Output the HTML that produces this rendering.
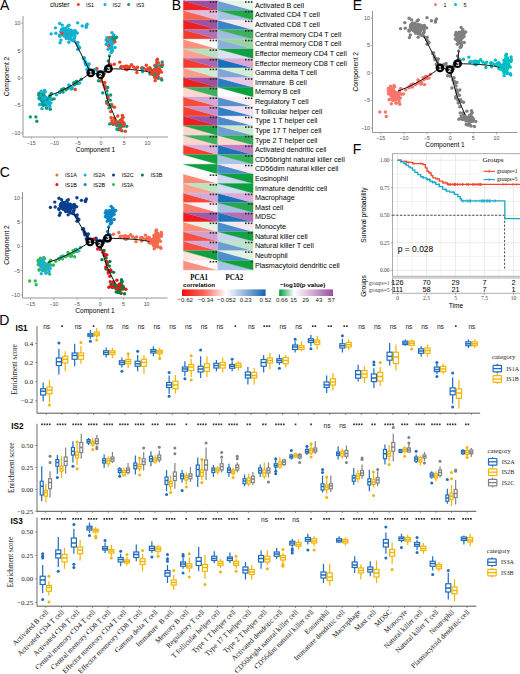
<!DOCTYPE html>
<html><head><meta charset="utf-8"><style>
html,body{margin:0;padding:0;background:#fff;}
svg{display:block;}

</style></head><body>
<svg width="520" height="674" viewBox="0 0 520 674">
<rect width="520" height="674" fill="#fff"/>
<text x="171.8" y="9.6" font-size="14" font-family="Liberation Sans, sans-serif">B</text><polygon points="183.40,0.80 183.40,10.42 217.80,10.42" fill="#EE2222" stroke="#EE2222" stroke-width="0.3"/><polygon points="183.40,0.80 217.80,0.80 217.80,10.42" fill="#9D4F9F" stroke="#9D4F9F" stroke-width="0.3"/><rect x="215.50" y="1.25" width="1.6" height="1.6" fill="#2a2a2a"/><rect x="212.60" y="1.25" width="1.6" height="1.6" fill="#2a2a2a"/><rect x="209.70" y="1.25" width="1.6" height="1.6" fill="#2a2a2a"/><polygon points="217.80,0.80 217.80,10.42 253.10,10.42" fill="#6A9FD2" stroke="#6A9FD2" stroke-width="0.3"/><polygon points="217.80,0.80 253.10,0.80 253.10,10.42" fill="#E6F3E6" stroke="#E6F3E6" stroke-width="0.3"/><rect x="250.80" y="1.25" width="1.6" height="1.6" fill="#2a2a2a"/><rect x="247.90" y="1.25" width="1.6" height="1.6" fill="#2a2a2a"/><rect x="245.00" y="1.25" width="1.6" height="1.6" fill="#2a2a2a"/><line x1="183.4" y1="10.42" x2="253.1" y2="10.42" stroke="#e8e8e8" stroke-width="0.4"/><text x="254.9" y="7.86" font-size="7.2" font-family="Liberation Sans, sans-serif">Activated B cell</text><polygon points="183.40,10.42 183.40,20.04 217.80,20.04" fill="#F8654F" stroke="#F8654F" stroke-width="0.3"/><polygon points="183.40,10.42 217.80,10.42 217.80,20.04" fill="#E2BADC" stroke="#E2BADC" stroke-width="0.3"/><rect x="215.50" y="10.87" width="1.6" height="1.6" fill="#2a2a2a"/><rect x="212.60" y="10.87" width="1.6" height="1.6" fill="#2a2a2a"/><rect x="209.70" y="10.87" width="1.6" height="1.6" fill="#2a2a2a"/><polygon points="217.80,10.42 217.80,20.04 253.10,20.04" fill="#A8C3E3" stroke="#A8C3E3" stroke-width="0.3"/><polygon points="217.80,10.42 253.10,10.42 253.10,20.04" fill="#22A84A" stroke="#22A84A" stroke-width="0.3"/><rect x="250.80" y="10.87" width="1.6" height="1.6" fill="#2a2a2a"/><rect x="247.90" y="10.87" width="1.6" height="1.6" fill="#2a2a2a"/><rect x="245.00" y="10.87" width="1.6" height="1.6" fill="#2a2a2a"/><line x1="183.4" y1="20.04" x2="253.1" y2="20.04" stroke="#e8e8e8" stroke-width="0.4"/><text x="254.9" y="17.48" font-size="7.2" font-family="Liberation Sans, sans-serif">Activated CD4 T cell</text><polygon points="183.40,20.04 183.40,29.65 217.80,29.65" fill="#EE2020" stroke="#EE2020" stroke-width="0.3"/><polygon points="183.40,20.04 217.80,20.04 217.80,29.65" fill="#A052A2" stroke="#A052A2" stroke-width="0.3"/><rect x="215.50" y="20.49" width="1.6" height="1.6" fill="#2a2a2a"/><rect x="212.60" y="20.49" width="1.6" height="1.6" fill="#2a2a2a"/><rect x="209.70" y="20.49" width="1.6" height="1.6" fill="#2a2a2a"/><polygon points="217.80,20.04 217.80,29.65 253.10,29.65" fill="#3A85C5" stroke="#3A85C5" stroke-width="0.3"/><polygon points="217.80,20.04 253.10,20.04 253.10,29.65" fill="#F6E6F1" stroke="#F6E6F1" stroke-width="0.3"/><rect x="250.80" y="20.49" width="1.6" height="1.6" fill="#2a2a2a"/><rect x="247.90" y="20.49" width="1.6" height="1.6" fill="#2a2a2a"/><rect x="245.00" y="20.49" width="1.6" height="1.6" fill="#2a2a2a"/><line x1="183.4" y1="29.65" x2="253.1" y2="29.65" stroke="#e8e8e8" stroke-width="0.4"/><text x="254.9" y="27.09" font-size="7.2" font-family="Liberation Sans, sans-serif">Activated CD8 T cell</text><polygon points="183.40,29.65 183.40,39.27 217.80,39.27" fill="#F23C2C" stroke="#F23C2C" stroke-width="0.3"/><polygon points="183.40,29.65 217.80,29.65 217.80,39.27" fill="#B070B5" stroke="#B070B5" stroke-width="0.3"/><rect x="215.50" y="30.10" width="1.6" height="1.6" fill="#2a2a2a"/><rect x="212.60" y="30.10" width="1.6" height="1.6" fill="#2a2a2a"/><rect x="209.70" y="30.10" width="1.6" height="1.6" fill="#2a2a2a"/><polygon points="217.80,29.65 217.80,39.27 253.10,39.27" fill="#A0BDE1" stroke="#A0BDE1" stroke-width="0.3"/><polygon points="217.80,29.65 253.10,29.65 253.10,39.27" fill="#3DB060" stroke="#3DB060" stroke-width="0.3"/><rect x="250.80" y="30.10" width="1.6" height="1.6" fill="#2a2a2a"/><rect x="247.90" y="30.10" width="1.6" height="1.6" fill="#2a2a2a"/><rect x="245.00" y="30.10" width="1.6" height="1.6" fill="#2a2a2a"/><line x1="183.4" y1="39.27" x2="253.1" y2="39.27" stroke="#e8e8e8" stroke-width="0.4"/><text x="254.9" y="36.71" font-size="7.2" font-family="Liberation Sans, sans-serif">Central memory CD4 T cell</text><polygon points="183.40,39.27 183.40,48.89 217.80,48.89" fill="#FA9080" stroke="#FA9080" stroke-width="0.3"/><polygon points="183.40,39.27 217.80,39.27 217.80,48.89" fill="#F8FBF8" stroke="#F8FBF8" stroke-width="0.3"/><rect x="215.50" y="39.72" width="1.6" height="1.6" fill="#2a2a2a"/><rect x="212.60" y="39.72" width="1.6" height="1.6" fill="#2a2a2a"/><rect x="209.70" y="39.72" width="1.6" height="1.6" fill="#2a2a2a"/><polygon points="217.80,39.27 217.80,48.89 253.10,48.89" fill="#8AAFD9" stroke="#8AAFD9" stroke-width="0.3"/><polygon points="217.80,39.27 253.10,39.27 253.10,48.89" fill="#98D4A0" stroke="#98D4A0" stroke-width="0.3"/><rect x="250.80" y="39.72" width="1.6" height="1.6" fill="#2a2a2a"/><rect x="247.90" y="39.72" width="1.6" height="1.6" fill="#2a2a2a"/><rect x="245.00" y="39.72" width="1.6" height="1.6" fill="#2a2a2a"/><line x1="183.4" y1="48.89" x2="253.1" y2="48.89" stroke="#e8e8e8" stroke-width="0.4"/><text x="254.9" y="46.33" font-size="7.2" font-family="Liberation Sans, sans-serif">Central memory CD8 T cell</text><polygon points="183.40,48.89 183.40,58.51 217.80,58.51" fill="#FBA090" stroke="#FBA090" stroke-width="0.3"/><polygon points="183.40,48.89 217.80,48.89 217.80,58.51" fill="#B8E0BC" stroke="#B8E0BC" stroke-width="0.3"/><rect x="215.50" y="49.34" width="1.6" height="1.6" fill="#2a2a2a"/><rect x="212.60" y="49.34" width="1.6" height="1.6" fill="#2a2a2a"/><rect x="209.70" y="49.34" width="1.6" height="1.6" fill="#2a2a2a"/><polygon points="217.80,48.89 217.80,58.51 253.10,58.51" fill="#D8E2F2" stroke="#D8E2F2" stroke-width="0.3"/><polygon points="217.80,48.89 253.10,48.89 253.10,58.51" fill="#10A040" stroke="#10A040" stroke-width="0.3"/><line x1="183.4" y1="58.51" x2="253.1" y2="58.51" stroke="#e8e8e8" stroke-width="0.4"/><text x="254.9" y="55.95" font-size="7.2" font-family="Liberation Sans, sans-serif">Effector memeory CD4 T cell</text><polygon points="183.40,58.51 183.40,68.12 217.80,68.12" fill="#F53A30" stroke="#F53A30" stroke-width="0.3"/><polygon points="183.40,58.51 217.80,58.51 217.80,68.12" fill="#A868B0" stroke="#A868B0" stroke-width="0.3"/><rect x="215.50" y="58.96" width="1.6" height="1.6" fill="#2a2a2a"/><rect x="212.60" y="58.96" width="1.6" height="1.6" fill="#2a2a2a"/><rect x="209.70" y="58.96" width="1.6" height="1.6" fill="#2a2a2a"/><polygon points="217.80,58.51 217.80,68.12 253.10,68.12" fill="#1A70B8" stroke="#1A70B8" stroke-width="0.3"/><polygon points="217.80,58.51 253.10,58.51 253.10,68.12" fill="#D8A8D5" stroke="#D8A8D5" stroke-width="0.3"/><rect x="250.80" y="58.96" width="1.6" height="1.6" fill="#2a2a2a"/><rect x="247.90" y="58.96" width="1.6" height="1.6" fill="#2a2a2a"/><rect x="245.00" y="58.96" width="1.6" height="1.6" fill="#2a2a2a"/><line x1="183.4" y1="68.12" x2="253.1" y2="68.12" stroke="#e8e8e8" stroke-width="0.4"/><text x="254.9" y="65.57" font-size="7.2" font-family="Liberation Sans, sans-serif">Effector memeory CD8 T cell</text><polygon points="183.40,68.12 183.40,77.74 217.80,77.74" fill="#FA9A8A" stroke="#FA9A8A" stroke-width="0.3"/><polygon points="183.40,68.12 217.80,68.12 217.80,77.74" fill="#CDEBCF" stroke="#CDEBCF" stroke-width="0.3"/><rect x="215.50" y="68.58" width="1.6" height="1.6" fill="#2a2a2a"/><rect x="212.60" y="68.58" width="1.6" height="1.6" fill="#2a2a2a"/><rect x="209.70" y="68.58" width="1.6" height="1.6" fill="#2a2a2a"/><polygon points="217.80,68.12 217.80,77.74 253.10,77.74" fill="#7EA6D6" stroke="#7EA6D6" stroke-width="0.3"/><polygon points="217.80,68.12 253.10,68.12 253.10,77.74" fill="#D5EDD5" stroke="#D5EDD5" stroke-width="0.3"/><rect x="250.80" y="68.58" width="1.6" height="1.6" fill="#2a2a2a"/><rect x="247.90" y="68.58" width="1.6" height="1.6" fill="#2a2a2a"/><rect x="245.00" y="68.58" width="1.6" height="1.6" fill="#2a2a2a"/><line x1="183.4" y1="77.74" x2="253.1" y2="77.74" stroke="#e8e8e8" stroke-width="0.4"/><text x="254.9" y="75.18" font-size="7.2" font-family="Liberation Sans, sans-serif">Gamma delta T cell</text><polygon points="183.40,77.74 183.40,87.36 217.80,87.36" fill="#EE1E1E" stroke="#EE1E1E" stroke-width="0.3"/><polygon points="183.40,77.74 217.80,77.74 217.80,87.36" fill="#9E4FA0" stroke="#9E4FA0" stroke-width="0.3"/><rect x="215.50" y="78.19" width="1.6" height="1.6" fill="#2a2a2a"/><rect x="212.60" y="78.19" width="1.6" height="1.6" fill="#2a2a2a"/><rect x="209.70" y="78.19" width="1.6" height="1.6" fill="#2a2a2a"/><polygon points="217.80,77.74 217.80,87.36 253.10,87.36" fill="#2B7BC0" stroke="#2B7BC0" stroke-width="0.3"/><polygon points="217.80,77.74 253.10,77.74 253.10,87.36" fill="#EBC8E5" stroke="#EBC8E5" stroke-width="0.3"/><rect x="250.80" y="78.19" width="1.6" height="1.6" fill="#2a2a2a"/><rect x="247.90" y="78.19" width="1.6" height="1.6" fill="#2a2a2a"/><rect x="245.00" y="78.19" width="1.6" height="1.6" fill="#2a2a2a"/><line x1="183.4" y1="87.36" x2="253.1" y2="87.36" stroke="#e8e8e8" stroke-width="0.4"/><text x="254.9" y="84.80" font-size="7.2" font-family="Liberation Sans, sans-serif">Immature &#160;B cell</text><polygon points="183.40,87.36 183.40,96.98 217.80,96.98" fill="#FDD8D0" stroke="#FDD8D0" stroke-width="0.3"/><polygon points="183.40,87.36 217.80,87.36 217.80,96.98" fill="#3CB060" stroke="#3CB060" stroke-width="0.3"/><rect x="215.50" y="87.81" width="1.6" height="1.6" fill="#2a2a2a"/><rect x="212.60" y="87.81" width="1.6" height="1.6" fill="#2a2a2a"/><rect x="209.70" y="87.81" width="1.6" height="1.6" fill="#2a2a2a"/><polygon points="217.80,87.36 217.80,96.98 253.10,96.98" fill="#FFFFFF" stroke="#FFFFFF" stroke-width="0.3"/><polygon points="217.80,87.36 253.10,87.36 253.10,96.98" fill="#0DA040" stroke="#0DA040" stroke-width="0.3"/><line x1="183.4" y1="96.98" x2="253.1" y2="96.98" stroke="#e8e8e8" stroke-width="0.4"/><text x="254.9" y="94.42" font-size="7.2" font-family="Liberation Sans, sans-serif">Memory B cell</text><polygon points="183.40,96.98 183.40,106.60 217.80,106.60" fill="#F84C3A" stroke="#F84C3A" stroke-width="0.3"/><polygon points="183.40,96.98 217.80,96.98 217.80,106.60" fill="#D5A8D5" stroke="#D5A8D5" stroke-width="0.3"/><rect x="215.50" y="97.43" width="1.6" height="1.6" fill="#2a2a2a"/><rect x="212.60" y="97.43" width="1.6" height="1.6" fill="#2a2a2a"/><rect x="209.70" y="97.43" width="1.6" height="1.6" fill="#2a2a2a"/><polygon points="217.80,96.98 217.80,106.60 253.10,106.60" fill="#5890CC" stroke="#5890CC" stroke-width="0.3"/><polygon points="217.80,96.98 253.10,96.98 253.10,106.60" fill="#F8EEF5" stroke="#F8EEF5" stroke-width="0.3"/><rect x="250.80" y="97.43" width="1.6" height="1.6" fill="#2a2a2a"/><rect x="247.90" y="97.43" width="1.6" height="1.6" fill="#2a2a2a"/><rect x="245.00" y="97.43" width="1.6" height="1.6" fill="#2a2a2a"/><line x1="183.4" y1="106.60" x2="253.1" y2="106.60" stroke="#e8e8e8" stroke-width="0.4"/><text x="254.9" y="104.04" font-size="7.2" font-family="Liberation Sans, sans-serif">Regulatory T cell</text><polygon points="183.40,106.60 183.40,116.21 217.80,116.21" fill="#F5402E" stroke="#F5402E" stroke-width="0.3"/><polygon points="183.40,106.60 217.80,106.60 217.80,116.21" fill="#C890C8" stroke="#C890C8" stroke-width="0.3"/><rect x="215.50" y="107.05" width="1.6" height="1.6" fill="#2a2a2a"/><rect x="212.60" y="107.05" width="1.6" height="1.6" fill="#2a2a2a"/><rect x="209.70" y="107.05" width="1.6" height="1.6" fill="#2a2a2a"/><polygon points="217.80,106.60 217.80,116.21 253.10,116.21" fill="#2F80C4" stroke="#2F80C4" stroke-width="0.3"/><polygon points="217.80,106.60 253.10,106.60 253.10,116.21" fill="#F3DDEE" stroke="#F3DDEE" stroke-width="0.3"/><rect x="250.80" y="107.05" width="1.6" height="1.6" fill="#2a2a2a"/><rect x="247.90" y="107.05" width="1.6" height="1.6" fill="#2a2a2a"/><rect x="245.00" y="107.05" width="1.6" height="1.6" fill="#2a2a2a"/><line x1="183.4" y1="116.21" x2="253.1" y2="116.21" stroke="#e8e8e8" stroke-width="0.4"/><text x="254.9" y="113.66" font-size="7.2" font-family="Liberation Sans, sans-serif">T follicular helper cell</text><polygon points="183.40,116.21 183.40,125.83 217.80,125.83" fill="#EE1E1E" stroke="#EE1E1E" stroke-width="0.3"/><polygon points="183.40,116.21 217.80,116.21 217.80,125.83" fill="#9E50A0" stroke="#9E50A0" stroke-width="0.3"/><rect x="215.50" y="116.66" width="1.6" height="1.6" fill="#2a2a2a"/><rect x="212.60" y="116.66" width="1.6" height="1.6" fill="#2a2a2a"/><rect x="209.70" y="116.66" width="1.6" height="1.6" fill="#2a2a2a"/><polygon points="217.80,116.21 217.80,125.83 253.10,125.83" fill="#4C8ACA" stroke="#4C8ACA" stroke-width="0.3"/><polygon points="217.80,116.21 253.10,116.21 253.10,125.83" fill="#F8F0F5" stroke="#F8F0F5" stroke-width="0.3"/><rect x="250.80" y="116.66" width="1.6" height="1.6" fill="#2a2a2a"/><rect x="247.90" y="116.66" width="1.6" height="1.6" fill="#2a2a2a"/><rect x="245.00" y="116.66" width="1.6" height="1.6" fill="#2a2a2a"/><line x1="183.4" y1="125.83" x2="253.1" y2="125.83" stroke="#e8e8e8" stroke-width="0.4"/><text x="254.9" y="123.27" font-size="7.2" font-family="Liberation Sans, sans-serif">Type 1 T helper cell</text><polygon points="183.40,125.83 183.40,135.45 217.80,135.45" fill="#FDD6CE" stroke="#FDD6CE" stroke-width="0.3"/><polygon points="183.40,125.83 217.80,125.83 217.80,135.45" fill="#20A24A" stroke="#20A24A" stroke-width="0.3"/><rect x="215.50" y="126.28" width="1.6" height="1.6" fill="#2a2a2a"/><rect x="212.60" y="126.28" width="1.6" height="1.6" fill="#2a2a2a"/><polygon points="217.80,125.83 217.80,135.45 253.10,135.45" fill="#6E9ED4" stroke="#6E9ED4" stroke-width="0.3"/><polygon points="217.80,125.83 253.10,125.83 253.10,135.45" fill="#CCE9CF" stroke="#CCE9CF" stroke-width="0.3"/><rect x="250.80" y="126.28" width="1.6" height="1.6" fill="#2a2a2a"/><rect x="247.90" y="126.28" width="1.6" height="1.6" fill="#2a2a2a"/><rect x="245.00" y="126.28" width="1.6" height="1.6" fill="#2a2a2a"/><line x1="183.4" y1="135.45" x2="253.1" y2="135.45" stroke="#e8e8e8" stroke-width="0.4"/><text x="254.9" y="132.89" font-size="7.2" font-family="Liberation Sans, sans-serif">Type 17 T helper cell</text><polygon points="183.40,135.45 183.40,145.07 217.80,145.07" fill="#FDD5CC" stroke="#FDD5CC" stroke-width="0.3"/><polygon points="183.40,135.45 217.80,135.45 217.80,145.07" fill="#3AB060" stroke="#3AB060" stroke-width="0.3"/><rect x="215.50" y="135.90" width="1.6" height="1.6" fill="#2a2a2a"/><rect x="212.60" y="135.90" width="1.6" height="1.6" fill="#2a2a2a"/><rect x="209.70" y="135.90" width="1.6" height="1.6" fill="#2a2a2a"/><polygon points="217.80,135.45 217.80,145.07 253.10,145.07" fill="#FDD8CF" stroke="#FDD8CF" stroke-width="0.3"/><polygon points="217.80,135.45 253.10,135.45 253.10,145.07" fill="#30AC58" stroke="#30AC58" stroke-width="0.3"/><rect x="250.80" y="135.90" width="1.6" height="1.6" fill="#2a2a2a"/><rect x="247.90" y="135.90" width="1.6" height="1.6" fill="#2a2a2a"/><rect x="245.00" y="135.90" width="1.6" height="1.6" fill="#2a2a2a"/><line x1="183.4" y1="145.07" x2="253.1" y2="145.07" stroke="#e8e8e8" stroke-width="0.4"/><text x="254.9" y="142.51" font-size="7.2" font-family="Liberation Sans, sans-serif">Type 2 T helper cell</text><polygon points="183.40,145.07 183.40,154.69 217.80,154.69" fill="#F54030" stroke="#F54030" stroke-width="0.3"/><polygon points="183.40,145.07 217.80,145.07 217.80,154.69" fill="#DCB0DC" stroke="#DCB0DC" stroke-width="0.3"/><rect x="215.50" y="145.52" width="1.6" height="1.6" fill="#2a2a2a"/><rect x="212.60" y="145.52" width="1.6" height="1.6" fill="#2a2a2a"/><rect x="209.70" y="145.52" width="1.6" height="1.6" fill="#2a2a2a"/><polygon points="217.80,145.07 217.80,154.69 253.10,154.69" fill="#1C72BA" stroke="#1C72BA" stroke-width="0.3"/><polygon points="217.80,145.07 253.10,145.07 253.10,154.69" fill="#C080C5" stroke="#C080C5" stroke-width="0.3"/><rect x="250.80" y="145.52" width="1.6" height="1.6" fill="#2a2a2a"/><rect x="247.90" y="145.52" width="1.6" height="1.6" fill="#2a2a2a"/><rect x="245.00" y="145.52" width="1.6" height="1.6" fill="#2a2a2a"/><line x1="183.4" y1="154.69" x2="253.1" y2="154.69" stroke="#e8e8e8" stroke-width="0.4"/><text x="254.9" y="152.13" font-size="7.2" font-family="Liberation Sans, sans-serif">Activated dendritic cell</text><polygon points="183.40,154.69 183.40,164.30 217.80,164.30" fill="#FFFFFF" stroke="#FFFFFF" stroke-width="0.3"/><polygon points="183.40,154.69 217.80,154.69 217.80,164.30" fill="#0FA040" stroke="#0FA040" stroke-width="0.3"/><polygon points="217.80,154.69 217.80,164.30 253.10,164.30" fill="#A8C4E4" stroke="#A8C4E4" stroke-width="0.3"/><polygon points="217.80,154.69 253.10,154.69 253.10,164.30" fill="#35AE5C" stroke="#35AE5C" stroke-width="0.3"/><rect x="250.80" y="155.14" width="1.6" height="1.6" fill="#2a2a2a"/><rect x="247.90" y="155.14" width="1.6" height="1.6" fill="#2a2a2a"/><rect x="245.00" y="155.14" width="1.6" height="1.6" fill="#2a2a2a"/><line x1="183.4" y1="164.30" x2="253.1" y2="164.30" stroke="#e8e8e8" stroke-width="0.4"/><text x="254.9" y="161.74" font-size="7.2" font-family="Liberation Sans, sans-serif">CD56bright natural killer cell</text><polygon points="183.40,164.30 183.40,173.92 217.80,173.92" fill="#FFFFFF" stroke="#FFFFFF" stroke-width="0.3"/><polygon points="183.40,164.30 217.80,164.30 217.80,173.92" fill="#0FA040" stroke="#0FA040" stroke-width="0.3"/><polygon points="217.80,164.30 217.80,173.92 253.10,173.92" fill="#4A8CCC" stroke="#4A8CCC" stroke-width="0.3"/><polygon points="217.80,164.30 253.10,164.30 253.10,173.92" fill="#F5E8F2" stroke="#F5E8F2" stroke-width="0.3"/><rect x="250.80" y="164.75" width="1.6" height="1.6" fill="#2a2a2a"/><rect x="247.90" y="164.75" width="1.6" height="1.6" fill="#2a2a2a"/><rect x="245.00" y="164.75" width="1.6" height="1.6" fill="#2a2a2a"/><line x1="183.4" y1="173.92" x2="253.1" y2="173.92" stroke="#e8e8e8" stroke-width="0.4"/><text x="254.9" y="171.36" font-size="7.2" font-family="Liberation Sans, sans-serif">CD56dim natural killer cell</text><polygon points="183.40,173.92 183.40,183.54 217.80,183.54" fill="#FA8A78" stroke="#FA8A78" stroke-width="0.3"/><polygon points="183.40,173.92 217.80,173.92 217.80,183.54" fill="#FCF8FA" stroke="#FCF8FA" stroke-width="0.3"/><rect x="215.50" y="174.37" width="1.6" height="1.6" fill="#2a2a2a"/><rect x="212.60" y="174.37" width="1.6" height="1.6" fill="#2a2a2a"/><rect x="209.70" y="174.37" width="1.6" height="1.6" fill="#2a2a2a"/><polygon points="217.80,173.92 217.80,183.54 253.10,183.54" fill="#CCDAEE" stroke="#CCDAEE" stroke-width="0.3"/><polygon points="217.80,173.92 253.10,173.92 253.10,183.54" fill="#0DA040" stroke="#0DA040" stroke-width="0.3"/><line x1="183.4" y1="183.54" x2="253.1" y2="183.54" stroke="#e8e8e8" stroke-width="0.4"/><text x="254.9" y="180.98" font-size="7.2" font-family="Liberation Sans, sans-serif">Eosinophil</text><polygon points="183.40,183.54 183.40,193.16 217.80,193.16" fill="#FBA090" stroke="#FBA090" stroke-width="0.3"/><polygon points="183.40,183.54 217.80,183.54 217.80,193.16" fill="#BDE3C0" stroke="#BDE3C0" stroke-width="0.3"/><rect x="215.50" y="183.99" width="1.6" height="1.6" fill="#2a2a2a"/><rect x="212.60" y="183.99" width="1.6" height="1.6" fill="#2a2a2a"/><rect x="209.70" y="183.99" width="1.6" height="1.6" fill="#2a2a2a"/><polygon points="217.80,183.54 217.80,193.16 253.10,193.16" fill="#D0DDF0" stroke="#D0DDF0" stroke-width="0.3"/><polygon points="217.80,183.54 253.10,183.54 253.10,193.16" fill="#0DA040" stroke="#0DA040" stroke-width="0.3"/><line x1="183.4" y1="193.16" x2="253.1" y2="193.16" stroke="#e8e8e8" stroke-width="0.4"/><text x="254.9" y="190.60" font-size="7.2" font-family="Liberation Sans, sans-serif">Immature dendritic cell</text><polygon points="183.40,193.16 183.40,202.78 217.80,202.78" fill="#F54533" stroke="#F54533" stroke-width="0.3"/><polygon points="183.40,193.16 217.80,193.16 217.80,202.78" fill="#D4A8D4" stroke="#D4A8D4" stroke-width="0.3"/><rect x="215.50" y="193.61" width="1.6" height="1.6" fill="#2a2a2a"/><rect x="212.60" y="193.61" width="1.6" height="1.6" fill="#2a2a2a"/><rect x="209.70" y="193.61" width="1.6" height="1.6" fill="#2a2a2a"/><polygon points="217.80,193.16 217.80,202.78 253.10,202.78" fill="#1A70B8" stroke="#1A70B8" stroke-width="0.3"/><polygon points="217.80,193.16 253.10,193.16 253.10,202.78" fill="#D8AED8" stroke="#D8AED8" stroke-width="0.3"/><rect x="250.80" y="193.61" width="1.6" height="1.6" fill="#2a2a2a"/><rect x="247.90" y="193.61" width="1.6" height="1.6" fill="#2a2a2a"/><rect x="245.00" y="193.61" width="1.6" height="1.6" fill="#2a2a2a"/><line x1="183.4" y1="202.78" x2="253.1" y2="202.78" stroke="#e8e8e8" stroke-width="0.4"/><text x="254.9" y="200.22" font-size="7.2" font-family="Liberation Sans, sans-serif">Macrophage</text><polygon points="183.40,202.78 183.40,212.39 217.80,212.39" fill="#FA7A68" stroke="#FA7A68" stroke-width="0.3"/><polygon points="183.40,202.78 217.80,202.78 217.80,212.39" fill="#F8EEF5" stroke="#F8EEF5" stroke-width="0.3"/><rect x="215.50" y="203.23" width="1.6" height="1.6" fill="#2a2a2a"/><rect x="212.60" y="203.23" width="1.6" height="1.6" fill="#2a2a2a"/><rect x="209.70" y="203.23" width="1.6" height="1.6" fill="#2a2a2a"/><polygon points="217.80,202.78 217.80,212.39 253.10,212.39" fill="#A8C2E2" stroke="#A8C2E2" stroke-width="0.3"/><polygon points="217.80,202.78 253.10,202.78 253.10,212.39" fill="#25A650" stroke="#25A650" stroke-width="0.3"/><rect x="250.80" y="203.23" width="1.6" height="1.6" fill="#2a2a2a"/><rect x="247.90" y="203.23" width="1.6" height="1.6" fill="#2a2a2a"/><line x1="183.4" y1="212.39" x2="253.1" y2="212.39" stroke="#e8e8e8" stroke-width="0.4"/><text x="254.9" y="209.83" font-size="7.2" font-family="Liberation Sans, sans-serif">Mast cell</text><polygon points="183.40,212.39 183.40,222.01 217.80,222.01" fill="#F01A1A" stroke="#F01A1A" stroke-width="0.3"/><polygon points="183.40,212.39 217.80,212.39 217.80,222.01" fill="#A058A8" stroke="#A058A8" stroke-width="0.3"/><rect x="215.50" y="212.84" width="1.6" height="1.6" fill="#2a2a2a"/><rect x="212.60" y="212.84" width="1.6" height="1.6" fill="#2a2a2a"/><rect x="209.70" y="212.84" width="1.6" height="1.6" fill="#2a2a2a"/><polygon points="217.80,212.39 217.80,222.01 253.10,222.01" fill="#1E74BB" stroke="#1E74BB" stroke-width="0.3"/><polygon points="217.80,212.39 253.10,212.39 253.10,222.01" fill="#B070B8" stroke="#B070B8" stroke-width="0.3"/><rect x="250.80" y="212.84" width="1.6" height="1.6" fill="#2a2a2a"/><rect x="247.90" y="212.84" width="1.6" height="1.6" fill="#2a2a2a"/><rect x="245.00" y="212.84" width="1.6" height="1.6" fill="#2a2a2a"/><line x1="183.4" y1="222.01" x2="253.1" y2="222.01" stroke="#e8e8e8" stroke-width="0.4"/><text x="254.9" y="219.45" font-size="7.2" font-family="Liberation Sans, sans-serif">MDSC</text><polygon points="183.40,222.01 183.40,231.63 217.80,231.63" fill="#FA8C78" stroke="#FA8C78" stroke-width="0.3"/><polygon points="183.40,222.01 217.80,222.01 217.80,231.63" fill="#E4F4E4" stroke="#E4F4E4" stroke-width="0.3"/><rect x="215.50" y="222.46" width="1.6" height="1.6" fill="#2a2a2a"/><rect x="212.60" y="222.46" width="1.6" height="1.6" fill="#2a2a2a"/><rect x="209.70" y="222.46" width="1.6" height="1.6" fill="#2a2a2a"/><polygon points="217.80,222.01 217.80,231.63 253.10,231.63" fill="#4A8CCC" stroke="#4A8CCC" stroke-width="0.3"/><polygon points="217.80,222.01 253.10,222.01 253.10,231.63" fill="#F6E8F3" stroke="#F6E8F3" stroke-width="0.3"/><rect x="250.80" y="222.46" width="1.6" height="1.6" fill="#2a2a2a"/><rect x="247.90" y="222.46" width="1.6" height="1.6" fill="#2a2a2a"/><rect x="245.00" y="222.46" width="1.6" height="1.6" fill="#2a2a2a"/><line x1="183.4" y1="231.63" x2="253.1" y2="231.63" stroke="#e8e8e8" stroke-width="0.4"/><text x="254.9" y="229.07" font-size="7.2" font-family="Liberation Sans, sans-serif">Monocyte</text><polygon points="183.40,231.63 183.40,241.25 217.80,241.25" fill="#F85040" stroke="#F85040" stroke-width="0.3"/><polygon points="183.40,231.63 217.80,231.63 217.80,241.25" fill="#D0A0D0" stroke="#D0A0D0" stroke-width="0.3"/><rect x="215.50" y="232.08" width="1.6" height="1.6" fill="#2a2a2a"/><rect x="212.60" y="232.08" width="1.6" height="1.6" fill="#2a2a2a"/><rect x="209.70" y="232.08" width="1.6" height="1.6" fill="#2a2a2a"/><polygon points="217.80,231.63 217.80,241.25 253.10,241.25" fill="#C4D4EC" stroke="#C4D4EC" stroke-width="0.3"/><polygon points="217.80,231.63 253.10,231.63 253.10,241.25" fill="#15A045" stroke="#15A045" stroke-width="0.3"/><rect x="250.80" y="232.08" width="1.6" height="1.6" fill="#2a2a2a"/><rect x="247.90" y="232.08" width="1.6" height="1.6" fill="#2a2a2a"/><line x1="183.4" y1="241.25" x2="253.1" y2="241.25" stroke="#e8e8e8" stroke-width="0.4"/><text x="254.9" y="238.69" font-size="7.2" font-family="Liberation Sans, sans-serif">Natural killer cell</text><polygon points="183.40,241.25 183.40,250.86 217.80,250.86" fill="#F85040" stroke="#F85040" stroke-width="0.3"/><polygon points="183.40,241.25 217.80,241.25 217.80,250.86" fill="#D4A8D4" stroke="#D4A8D4" stroke-width="0.3"/><rect x="215.50" y="241.70" width="1.6" height="1.6" fill="#2a2a2a"/><rect x="212.60" y="241.70" width="1.6" height="1.6" fill="#2a2a2a"/><rect x="209.70" y="241.70" width="1.6" height="1.6" fill="#2a2a2a"/><polygon points="217.80,241.25 217.80,250.86 253.10,250.86" fill="#6C9CD4" stroke="#6C9CD4" stroke-width="0.3"/><polygon points="217.80,241.25 253.10,241.25 253.10,250.86" fill="#BFE4C3" stroke="#BFE4C3" stroke-width="0.3"/><rect x="250.80" y="241.70" width="1.6" height="1.6" fill="#2a2a2a"/><rect x="247.90" y="241.70" width="1.6" height="1.6" fill="#2a2a2a"/><rect x="245.00" y="241.70" width="1.6" height="1.6" fill="#2a2a2a"/><line x1="183.4" y1="250.86" x2="253.1" y2="250.86" stroke="#e8e8e8" stroke-width="0.4"/><text x="254.9" y="248.31" font-size="7.2" font-family="Liberation Sans, sans-serif">Natural killer T cell</text><polygon points="183.40,250.86 183.40,260.48 217.80,260.48" fill="#FDE5DD" stroke="#FDE5DD" stroke-width="0.3"/><polygon points="183.40,250.86 217.80,250.86 217.80,260.48" fill="#10A040" stroke="#10A040" stroke-width="0.3"/><rect x="215.50" y="251.31" width="1.6" height="1.6" fill="#2a2a2a"/><rect x="212.60" y="251.31" width="1.6" height="1.6" fill="#2a2a2a"/><polygon points="217.80,250.86 217.80,260.48 253.10,260.48" fill="#4E8ECE" stroke="#4E8ECE" stroke-width="0.3"/><polygon points="217.80,250.86 253.10,250.86 253.10,260.48" fill="#E2F2E2" stroke="#E2F2E2" stroke-width="0.3"/><rect x="250.80" y="251.31" width="1.6" height="1.6" fill="#2a2a2a"/><rect x="247.90" y="251.31" width="1.6" height="1.6" fill="#2a2a2a"/><rect x="245.00" y="251.31" width="1.6" height="1.6" fill="#2a2a2a"/><line x1="183.4" y1="260.48" x2="253.1" y2="260.48" stroke="#e8e8e8" stroke-width="0.4"/><text x="254.9" y="257.92" font-size="7.2" font-family="Liberation Sans, sans-serif">Neutrophil</text><polygon points="183.40,260.48 183.40,270.10 217.80,270.10" fill="#FA9080" stroke="#FA9080" stroke-width="0.3"/><polygon points="183.40,260.48 217.80,260.48 217.80,270.10" fill="#FFF8FA" stroke="#FFF8FA" stroke-width="0.3"/><rect x="215.50" y="260.93" width="1.6" height="1.6" fill="#2a2a2a"/><rect x="212.60" y="260.93" width="1.6" height="1.6" fill="#2a2a2a"/><rect x="209.70" y="260.93" width="1.6" height="1.6" fill="#2a2a2a"/><polygon points="217.80,260.48 217.80,270.10 253.10,270.10" fill="#A8C4E4" stroke="#A8C4E4" stroke-width="0.3"/><polygon points="217.80,260.48 253.10,260.48 253.10,270.10" fill="#10A040" stroke="#10A040" stroke-width="0.3"/><rect x="250.80" y="260.93" width="1.6" height="1.6" fill="#2a2a2a"/><line x1="183.4" y1="270.10" x2="253.1" y2="270.10" stroke="#e8e8e8" stroke-width="0.4"/><text x="254.9" y="267.54" font-size="7.2" font-family="Liberation Sans, sans-serif">Plasmacytoid dendritic cell</text><line x1="217.8" y1="0.8" x2="217.8" y2="270.1" stroke="#e0e0e0" stroke-width="0.4"/><text x="190.2" y="280.1" font-size="8.0" font-family="Liberation Serif, serif" font-weight="bold" textLength="17.7" lengthAdjust="spacingAndGlyphs">PCA1</text><text x="225.6" y="280.1" font-size="8.0" font-family="Liberation Serif, serif" font-weight="bold" textLength="17.5" lengthAdjust="spacingAndGlyphs">PCA2</text><text x="183" y="287" font-size="6.2" font-family="Liberation Sans, sans-serif" font-weight="bold">correlation</text><text x="280" y="287" font-size="6.2" font-family="Liberation Sans, sans-serif" font-weight="bold">−log10(p value)</text><defs><linearGradient id="gc" x1="0" x2="1" y1="0" y2="0">
<stop offset="0" stop-color="#F01010"/><stop offset="0.27" stop-color="#F86A5A"/><stop offset="0.53" stop-color="#FFFFFF"/>
<stop offset="0.76" stop-color="#8DB1DA"/><stop offset="1" stop-color="#1565AE"/></linearGradient>
<linearGradient id="gp" x1="0" x2="1" y1="0" y2="0">
<stop offset="0" stop-color="#00A040"/><stop offset="0.28" stop-color="#FFFFFF"/><stop offset="0.6" stop-color="#D7B0D8"/>
<stop offset="1" stop-color="#984EA3"/></linearGradient></defs><rect x="182" y="289.4" width="83.6" height="6.6" fill="url(#gc)"/><rect x="279.2" y="289.4" width="53.8" height="6.6" fill="url(#gp)"/><text x="185.2" y="302.4" font-size="6.1" font-family="Liberation Sans, sans-serif" text-anchor="middle" fill="#222">−0.62</text><text x="205.6" y="302.4" font-size="6.1" font-family="Liberation Sans, sans-serif" text-anchor="middle" fill="#222">−0.34</text><text x="226.5" y="302.4" font-size="6.1" font-family="Liberation Sans, sans-serif" text-anchor="middle" fill="#222">−0.052</text><text x="245.7" y="302.4" font-size="6.1" font-family="Liberation Sans, sans-serif" text-anchor="middle" fill="#222">0.23</text><text x="265.5" y="302.4" font-size="6.1" font-family="Liberation Sans, sans-serif" text-anchor="middle" fill="#222">0.52</text><text x="281.9" y="302.4" font-size="6.1" font-family="Liberation Sans, sans-serif" text-anchor="middle" fill="#222">0.66</text><text x="293.6" y="302.4" font-size="6.1" font-family="Liberation Sans, sans-serif" text-anchor="middle" fill="#222">15</text><text x="305.6" y="302.4" font-size="6.1" font-family="Liberation Sans, sans-serif" text-anchor="middle" fill="#222">29</text><text x="318.9" y="302.4" font-size="6.1" font-family="Liberation Sans, sans-serif" text-anchor="middle" fill="#222">43</text><text x="331.5" y="302.4" font-size="6.1" font-family="Liberation Sans, sans-serif" text-anchor="middle" fill="#222">57</text>
<text x="0.00" y="9.80" font-size="14" font-family="Liberation Sans, sans-serif" text-anchor="start" fill="#000" >A</text><text x="50.00" y="6.80" font-size="6.6" font-family="Liberation Sans, sans-serif" text-anchor="start" fill="#000" >cluster</text><circle cx="78.3" cy="4.6" r="1.5" fill="#EE4126"/><text x="85.90" y="6.60" font-size="5.4" font-family="Liberation Sans, sans-serif" text-anchor="start" fill="#000" >IS1</text><circle cx="105" cy="4.6" r="1.5" fill="#12B1D1"/><text x="112.60" y="6.60" font-size="5.4" font-family="Liberation Sans, sans-serif" text-anchor="start" fill="#000" >IS2</text><circle cx="128.6" cy="4.6" r="1.5" fill="#08997B"/><text x="136.20" y="6.60" font-size="5.4" font-family="Liberation Sans, sans-serif" text-anchor="start" fill="#000" >IS3</text><line x1="23" y1="16" x2="23" y2="137" stroke="#8a8a8a" stroke-width="0.9"/><line x1="23" y1="137" x2="168" y2="137" stroke="#8a8a8a" stroke-width="0.9"/><line x1="21.2" y1="23.20" x2="23" y2="23.20" stroke="#8a8a8a" stroke-width="0.7"/><text x="20.40" y="25.10" font-size="5.3" font-family="Liberation Sans, sans-serif" text-anchor="end" fill="#4d4d4d" >10</text><line x1="21.2" y1="50.60" x2="23" y2="50.60" stroke="#8a8a8a" stroke-width="0.7"/><text x="20.40" y="52.50" font-size="5.3" font-family="Liberation Sans, sans-serif" text-anchor="end" fill="#4d4d4d" >5</text><line x1="21.2" y1="78.00" x2="23" y2="78.00" stroke="#8a8a8a" stroke-width="0.7"/><text x="20.40" y="79.90" font-size="5.3" font-family="Liberation Sans, sans-serif" text-anchor="end" fill="#4d4d4d" >0</text><line x1="21.2" y1="105.40" x2="23" y2="105.40" stroke="#8a8a8a" stroke-width="0.7"/><text x="20.40" y="107.30" font-size="5.3" font-family="Liberation Sans, sans-serif" text-anchor="end" fill="#4d4d4d" >−5</text><line x1="21.2" y1="132.80" x2="23" y2="132.80" stroke="#8a8a8a" stroke-width="0.7"/><text x="20.40" y="134.70" font-size="5.3" font-family="Liberation Sans, sans-serif" text-anchor="end" fill="#4d4d4d" >−10</text><line x1="31.25" y1="137" x2="31.25" y2="138.8" stroke="#8a8a8a" stroke-width="0.7"/><text x="31.25" y="144.50" font-size="5.3" font-family="Liberation Sans, sans-serif" text-anchor="middle" fill="#4d4d4d" >−15</text><line x1="54.50" y1="137" x2="54.50" y2="138.8" stroke="#8a8a8a" stroke-width="0.7"/><text x="54.50" y="144.50" font-size="5.3" font-family="Liberation Sans, sans-serif" text-anchor="middle" fill="#4d4d4d" >−10</text><line x1="77.75" y1="137" x2="77.75" y2="138.8" stroke="#8a8a8a" stroke-width="0.7"/><text x="77.75" y="144.50" font-size="5.3" font-family="Liberation Sans, sans-serif" text-anchor="middle" fill="#4d4d4d" >−5</text><line x1="101.00" y1="137" x2="101.00" y2="138.8" stroke="#8a8a8a" stroke-width="0.7"/><text x="101.00" y="144.50" font-size="5.3" font-family="Liberation Sans, sans-serif" text-anchor="middle" fill="#4d4d4d" >0</text><line x1="124.25" y1="137" x2="124.25" y2="138.8" stroke="#8a8a8a" stroke-width="0.7"/><text x="124.25" y="144.50" font-size="5.3" font-family="Liberation Sans, sans-serif" text-anchor="middle" fill="#4d4d4d" >5</text><line x1="147.50" y1="137" x2="147.50" y2="138.8" stroke="#8a8a8a" stroke-width="0.7"/><text x="147.50" y="144.50" font-size="5.3" font-family="Liberation Sans, sans-serif" text-anchor="middle" fill="#4d4d4d" >10</text><text x="95.50" y="151.50" font-size="6.6" font-family="Liberation Sans, sans-serif" text-anchor="middle" fill="#000" >Component 1</text><text x="9" y="76.50" font-size="6.6" font-family="Liberation Sans, sans-serif" text-anchor="middle" transform="rotate(-90 9 76.50)">Component 2</text><circle cx="157.28" cy="70.75" r="1.7" fill="#EE4126"/><circle cx="123.07" cy="122.49" r="1.7" fill="#EE4126"/><circle cx="62.20" cy="91.40" r="1.7" fill="#08997B"/><circle cx="119.02" cy="128.99" r="1.7" fill="#08997B"/><circle cx="121.04" cy="123.98" r="1.7" fill="#08997B"/><circle cx="45.21" cy="102.75" r="1.7" fill="#12B1D1"/><circle cx="104.79" cy="82.85" r="1.7" fill="#EE4126"/><circle cx="87.14" cy="24.23" r="1.7" fill="#12B1D1"/><circle cx="161.39" cy="78.76" r="1.7" fill="#EE4126"/><circle cx="131.55" cy="64.78" r="1.7" fill="#EE4126"/><circle cx="107.72" cy="43.56" r="1.7" fill="#08997B"/><circle cx="87.14" cy="64.08" r="1.7" fill="#12B1D1"/><circle cx="112.87" cy="36.62" r="1.7" fill="#EE4126"/><circle cx="45.04" cy="100.56" r="1.7" fill="#12B1D1"/><circle cx="123.43" cy="122.87" r="1.7" fill="#08997B"/><circle cx="73.81" cy="82.69" r="1.7" fill="#08997B"/><circle cx="63.50" cy="30.84" r="1.7" fill="#12B1D1"/><circle cx="42.04" cy="96.06" r="1.7" fill="#08997B"/><circle cx="59.73" cy="36.31" r="1.7" fill="#12B1D1"/><circle cx="114.81" cy="119.06" r="1.7" fill="#08997B"/><circle cx="116.74" cy="125.71" r="1.7" fill="#08997B"/><circle cx="43.66" cy="100.25" r="1.7" fill="#12B1D1"/><circle cx="156.86" cy="60.53" r="1.7" fill="#EE4126"/><circle cx="70.21" cy="33.35" r="1.7" fill="#12B1D1"/><circle cx="35.90" cy="116.91" r="1.7" fill="#08997B"/><circle cx="111.07" cy="117.71" r="1.7" fill="#EE4126"/><circle cx="105.59" cy="86.67" r="1.7" fill="#08997B"/><circle cx="117.16" cy="123.58" r="1.7" fill="#EE4126"/><circle cx="67.45" cy="35.23" r="1.7" fill="#12B1D1"/><circle cx="155.04" cy="71.57" r="1.7" fill="#08997B"/><circle cx="154.96" cy="77.69" r="1.7" fill="#EE4126"/><circle cx="71.82" cy="32.24" r="1.7" fill="#12B1D1"/><circle cx="49.24" cy="102.21" r="1.7" fill="#12B1D1"/><circle cx="162.20" cy="62.06" r="1.7" fill="#08997B"/><circle cx="105.00" cy="87.85" r="1.7" fill="#EE4126"/><circle cx="156.66" cy="75.08" r="1.7" fill="#12B1D1"/><circle cx="56.36" cy="94.75" r="1.7" fill="#12B1D1"/><circle cx="104.52" cy="82.57" r="1.7" fill="#EE4126"/><circle cx="112.33" cy="50.52" r="1.7" fill="#12B1D1"/><circle cx="44.14" cy="98.70" r="1.7" fill="#12B1D1"/><circle cx="69.54" cy="32.68" r="1.7" fill="#EE4126"/><circle cx="86.00" cy="63.27" r="1.7" fill="#12B1D1"/><circle cx="158.67" cy="62.91" r="1.7" fill="#EE4126"/><circle cx="117.56" cy="123.34" r="1.7" fill="#EE4126"/><circle cx="100.92" cy="81.16" r="1.7" fill="#EE4126"/><circle cx="66.55" cy="31.93" r="1.7" fill="#12B1D1"/><circle cx="66.96" cy="32.85" r="1.7" fill="#12B1D1"/><circle cx="154.53" cy="69.41" r="1.7" fill="#EE4126"/><circle cx="43.06" cy="96.02" r="1.7" fill="#12B1D1"/><circle cx="89.28" cy="73.79" r="1.7" fill="#12B1D1"/><circle cx="65.53" cy="28.32" r="1.7" fill="#12B1D1"/><circle cx="122.06" cy="130.89" r="1.7" fill="#08997B"/><circle cx="110.67" cy="94.94" r="1.7" fill="#08997B"/><circle cx="157.20" cy="70.61" r="1.7" fill="#12B1D1"/><circle cx="110.86" cy="39.42" r="1.7" fill="#EE4126"/><circle cx="109.11" cy="44.03" r="1.7" fill="#12B1D1"/><circle cx="41.26" cy="96.35" r="1.7" fill="#08997B"/><circle cx="41.15" cy="97.16" r="1.7" fill="#08997B"/><circle cx="108.33" cy="61.04" r="1.7" fill="#08997B"/><circle cx="68.66" cy="29.72" r="1.7" fill="#12B1D1"/><circle cx="157.41" cy="71.37" r="1.7" fill="#EE4126"/><circle cx="41.49" cy="96.89" r="1.7" fill="#12B1D1"/><circle cx="39.93" cy="93.89" r="1.7" fill="#08997B"/><circle cx="54.16" cy="98.84" r="1.7" fill="#08997B"/><circle cx="154.89" cy="72.14" r="1.7" fill="#EE4126"/><circle cx="44.27" cy="101.40" r="1.7" fill="#12B1D1"/><circle cx="161.84" cy="80.00" r="1.7" fill="#08997B"/><circle cx="48.33" cy="98.47" r="1.7" fill="#EE4126"/><circle cx="41.60" cy="100.80" r="1.7" fill="#12B1D1"/><circle cx="61.98" cy="31.35" r="1.7" fill="#12B1D1"/><circle cx="39.99" cy="104.23" r="1.7" fill="#12B1D1"/><circle cx="64.97" cy="32.01" r="1.7" fill="#12B1D1"/><circle cx="106.93" cy="37.60" r="1.7" fill="#12B1D1"/><circle cx="111.10" cy="44.23" r="1.7" fill="#EE4126"/><circle cx="45.63" cy="97.24" r="1.7" fill="#08997B"/><circle cx="61.52" cy="29.81" r="1.7" fill="#12B1D1"/><circle cx="66.93" cy="34.52" r="1.7" fill="#12B1D1"/><circle cx="89.96" cy="71.55" r="1.7" fill="#12B1D1"/><circle cx="154.59" cy="75.06" r="1.7" fill="#EE4126"/><circle cx="73.03" cy="33.31" r="1.7" fill="#12B1D1"/><circle cx="121.38" cy="124.95" r="1.7" fill="#08997B"/><circle cx="122.07" cy="124.82" r="1.7" fill="#08997B"/><circle cx="50.09" cy="95.61" r="1.7" fill="#08997B"/><circle cx="70.98" cy="34.16" r="1.7" fill="#EE4126"/><circle cx="59.69" cy="92.64" r="1.7" fill="#08997B"/><circle cx="42.86" cy="99.04" r="1.7" fill="#12B1D1"/><circle cx="133.54" cy="67.01" r="1.7" fill="#EE4126"/><circle cx="62.75" cy="32.21" r="1.7" fill="#12B1D1"/><circle cx="156.95" cy="66.05" r="1.7" fill="#EE4126"/><circle cx="111.61" cy="40.63" r="1.7" fill="#12B1D1"/><circle cx="162.54" cy="64.80" r="1.7" fill="#EE4126"/><circle cx="143.48" cy="68.29" r="1.7" fill="#EE4126"/><circle cx="113.33" cy="123.58" r="1.7" fill="#EE4126"/><circle cx="120.33" cy="124.77" r="1.7" fill="#08997B"/><circle cx="111.98" cy="32.65" r="1.7" fill="#12B1D1"/><circle cx="64.52" cy="35.75" r="1.7" fill="#EE4126"/><circle cx="52.10" cy="99.18" r="1.7" fill="#08997B"/><circle cx="109.10" cy="41.60" r="1.7" fill="#12B1D1"/><circle cx="113.79" cy="38.93" r="1.7" fill="#12B1D1"/><circle cx="112.86" cy="40.92" r="1.7" fill="#12B1D1"/><circle cx="89.73" cy="73.67" r="1.7" fill="#12B1D1"/><circle cx="153.80" cy="74.65" r="1.7" fill="#EE4126"/><circle cx="68.88" cy="42.26" r="1.7" fill="#12B1D1"/><circle cx="84.29" cy="57.80" r="1.7" fill="#12B1D1"/><circle cx="113.30" cy="124.39" r="1.7" fill="#08997B"/><circle cx="154.93" cy="75.61" r="1.7" fill="#EE4126"/><circle cx="111.96" cy="51.89" r="1.7" fill="#12B1D1"/><circle cx="122.80" cy="125.86" r="1.7" fill="#08997B"/><circle cx="106.06" cy="40.12" r="1.7" fill="#12B1D1"/><circle cx="119.87" cy="124.95" r="1.7" fill="#EE4126"/><circle cx="114.74" cy="123.79" r="1.7" fill="#08997B"/><circle cx="160.23" cy="66.03" r="1.7" fill="#EE4126"/><circle cx="123.07" cy="117.48" r="1.7" fill="#EE4126"/><circle cx="115.06" cy="47.55" r="1.7" fill="#12B1D1"/><circle cx="90.58" cy="75.53" r="1.7" fill="#12B1D1"/><circle cx="110.87" cy="39.42" r="1.7" fill="#12B1D1"/><circle cx="111.94" cy="48.71" r="1.7" fill="#12B1D1"/><circle cx="120.16" cy="120.50" r="1.7" fill="#08997B"/><circle cx="109.54" cy="45.61" r="1.7" fill="#EE4126"/><circle cx="108.11" cy="98.24" r="1.7" fill="#EE4126"/><circle cx="111.68" cy="43.78" r="1.7" fill="#EE4126"/><circle cx="116.77" cy="122.42" r="1.7" fill="#EE4126"/><circle cx="42.75" cy="102.39" r="1.7" fill="#08997B"/><circle cx="73.44" cy="31.24" r="1.7" fill="#12B1D1"/><circle cx="70.69" cy="32.47" r="1.7" fill="#12B1D1"/><circle cx="109.54" cy="64.01" r="1.7" fill="#EE4126"/><circle cx="126.95" cy="69.77" r="1.7" fill="#EE4126"/><circle cx="46.53" cy="104.52" r="1.7" fill="#12B1D1"/><circle cx="43.58" cy="105.28" r="1.7" fill="#08997B"/><circle cx="44.10" cy="103.00" r="1.7" fill="#08997B"/><circle cx="150.63" cy="70.14" r="1.7" fill="#EE4126"/><circle cx="156.74" cy="72.37" r="1.7" fill="#EE4126"/><circle cx="71.17" cy="36.24" r="1.7" fill="#12B1D1"/><circle cx="68.98" cy="38.57" r="1.7" fill="#12B1D1"/><circle cx="77.73" cy="49.37" r="1.7" fill="#12B1D1"/><circle cx="64.88" cy="33.33" r="1.7" fill="#12B1D1"/><circle cx="49.22" cy="103.90" r="1.7" fill="#12B1D1"/><circle cx="161.76" cy="64.87" r="1.7" fill="#EE4126"/><circle cx="42.56" cy="93.50" r="1.7" fill="#12B1D1"/><circle cx="136.85" cy="72.54" r="1.7" fill="#EE4126"/><circle cx="75.10" cy="30.61" r="1.7" fill="#12B1D1"/><circle cx="155.42" cy="74.79" r="1.7" fill="#EE4126"/><circle cx="59.55" cy="35.25" r="1.7" fill="#12B1D1"/><circle cx="142.06" cy="67.92" r="1.7" fill="#EE4126"/><circle cx="48.99" cy="100.28" r="1.7" fill="#12B1D1"/><circle cx="122.33" cy="115.48" r="1.7" fill="#EE4126"/><circle cx="153.48" cy="70.86" r="1.7" fill="#08997B"/><circle cx="154.65" cy="68.96" r="1.7" fill="#EE4126"/><circle cx="43.65" cy="93.26" r="1.7" fill="#12B1D1"/><circle cx="87.67" cy="70.27" r="1.7" fill="#12B1D1"/><circle cx="155.03" cy="69.74" r="1.7" fill="#EE4126"/><circle cx="74.02" cy="38.47" r="1.7" fill="#12B1D1"/><circle cx="60.06" cy="42.72" r="1.7" fill="#12B1D1"/><circle cx="161.35" cy="72.16" r="1.7" fill="#EE4126"/><circle cx="70.65" cy="34.37" r="1.7" fill="#12B1D1"/><circle cx="51.43" cy="93.71" r="1.7" fill="#08997B"/><circle cx="155.24" cy="73.17" r="1.7" fill="#08997B"/><circle cx="112.01" cy="120.69" r="1.7" fill="#EE4126"/><circle cx="66.47" cy="37.41" r="1.7" fill="#12B1D1"/><circle cx="115.95" cy="121.50" r="1.7" fill="#08997B"/><circle cx="42.69" cy="97.68" r="1.7" fill="#08997B"/><circle cx="158.43" cy="73.77" r="1.7" fill="#EE4126"/><circle cx="108.87" cy="42.56" r="1.7" fill="#12B1D1"/><circle cx="152.24" cy="71.48" r="1.7" fill="#EE4126"/><circle cx="59.74" cy="23.43" r="1.7" fill="#12B1D1"/><circle cx="107.96" cy="96.18" r="1.7" fill="#EE4126"/><circle cx="102.77" cy="92.88" r="1.7" fill="#08997B"/><circle cx="55.89" cy="33.32" r="1.7" fill="#12B1D1"/><circle cx="108.95" cy="105.13" r="1.7" fill="#EE4126"/><circle cx="110.77" cy="40.72" r="1.7" fill="#12B1D1"/><circle cx="70.91" cy="30.09" r="1.7" fill="#12B1D1"/><circle cx="43.86" cy="102.39" r="1.7" fill="#08997B"/><circle cx="109.72" cy="47.68" r="1.7" fill="#EE4126"/><circle cx="73.32" cy="33.63" r="1.7" fill="#12B1D1"/><circle cx="41.79" cy="96.24" r="1.7" fill="#12B1D1"/><circle cx="106.48" cy="43.95" r="1.7" fill="#12B1D1"/><circle cx="70.33" cy="39.22" r="1.7" fill="#12B1D1"/><circle cx="41.97" cy="95.10" r="1.7" fill="#12B1D1"/><circle cx="113.77" cy="34.84" r="1.7" fill="#12B1D1"/><circle cx="156.93" cy="69.33" r="1.7" fill="#EE4126"/><circle cx="46.43" cy="99.38" r="1.7" fill="#12B1D1"/><circle cx="113.11" cy="38.46" r="1.7" fill="#12B1D1"/><circle cx="150.45" cy="68.65" r="1.7" fill="#08997B"/><circle cx="154.45" cy="73.13" r="1.7" fill="#EE4126"/><circle cx="106.76" cy="103.23" r="1.7" fill="#EE4126"/><circle cx="75.29" cy="89.56" r="1.7" fill="#EE4126"/><circle cx="77.69" cy="22.87" r="1.7" fill="#12B1D1"/><circle cx="76.57" cy="42.87" r="1.7" fill="#EE4126"/><circle cx="146.37" cy="65.19" r="1.7" fill="#EE4126"/><circle cx="121.05" cy="124.40" r="1.7" fill="#08997B"/><circle cx="111.01" cy="38.42" r="1.7" fill="#08997B"/><circle cx="97.15" cy="70.96" r="1.7" fill="#12B1D1"/><circle cx="110.32" cy="38.47" r="1.7" fill="#EE4126"/><circle cx="118.66" cy="129.83" r="1.7" fill="#08997B"/><circle cx="45.39" cy="104.84" r="1.7" fill="#08997B"/><circle cx="112.62" cy="123.10" r="1.7" fill="#EE4126"/><circle cx="43.38" cy="98.73" r="1.7" fill="#12B1D1"/><circle cx="111.94" cy="49.97" r="1.7" fill="#12B1D1"/><circle cx="66.56" cy="35.43" r="1.7" fill="#12B1D1"/><circle cx="74.66" cy="37.65" r="1.7" fill="#12B1D1"/><circle cx="116.37" cy="121.57" r="1.7" fill="#08997B"/><circle cx="150.74" cy="73.88" r="1.7" fill="#EE4126"/><circle cx="50.33" cy="109.19" r="1.7" fill="#08997B"/><circle cx="120.07" cy="122.00" r="1.7" fill="#EE4126"/><circle cx="64.18" cy="35.96" r="1.7" fill="#12B1D1"/><circle cx="114.81" cy="38.40" r="1.7" fill="#EE4126"/><circle cx="153.34" cy="70.83" r="1.7" fill="#08997B"/><circle cx="72.04" cy="87.34" r="1.7" fill="#12B1D1"/><circle cx="106.68" cy="101.44" r="1.7" fill="#08997B"/><circle cx="118.68" cy="123.38" r="1.7" fill="#08997B"/><circle cx="44.47" cy="90.35" r="1.7" fill="#12B1D1"/><circle cx="81.17" cy="79.23" r="1.7" fill="#08997B"/><circle cx="155.93" cy="71.30" r="1.7" fill="#EE4126"/><circle cx="119.69" cy="62.15" r="1.7" fill="#EE4126"/><circle cx="158.20" cy="73.45" r="1.7" fill="#EE4126"/><circle cx="115.43" cy="37.59" r="1.7" fill="#12B1D1"/><circle cx="109.48" cy="41.73" r="1.7" fill="#12B1D1"/><circle cx="158.22" cy="71.14" r="1.7" fill="#12B1D1"/><circle cx="70.03" cy="36.66" r="1.7" fill="#12B1D1"/><circle cx="114.20" cy="117.83" r="1.7" fill="#EE4126"/><circle cx="152.56" cy="71.69" r="1.7" fill="#EE4126"/><circle cx="109.47" cy="55.99" r="1.7" fill="#08997B"/><circle cx="43.40" cy="97.51" r="1.7" fill="#12B1D1"/><circle cx="106.96" cy="91.04" r="1.7" fill="#08997B"/><circle cx="121.65" cy="121.17" r="1.7" fill="#EE4126"/><circle cx="70.89" cy="34.67" r="1.7" fill="#12B1D1"/><circle cx="110.16" cy="44.75" r="1.7" fill="#12B1D1"/><circle cx="47.13" cy="102.01" r="1.7" fill="#08997B"/><circle cx="39.04" cy="98.23" r="1.7" fill="#12B1D1"/><circle cx="43.32" cy="95.19" r="1.7" fill="#08997B"/><circle cx="44.42" cy="95.88" r="1.7" fill="#08997B"/><circle cx="74.14" cy="41.06" r="1.7" fill="#12B1D1"/><circle cx="70.74" cy="32.30" r="1.7" fill="#12B1D1"/><circle cx="147.28" cy="70.07" r="1.7" fill="#EE4126"/><circle cx="46.46" cy="99.42" r="1.7" fill="#08997B"/><circle cx="44.95" cy="99.40" r="1.7" fill="#08997B"/><circle cx="30.32" cy="116.91" r="1.7" fill="#08997B"/><circle cx="115.14" cy="120.19" r="1.7" fill="#EE4126"/><circle cx="69.59" cy="86.08" r="1.7" fill="#08997B"/><circle cx="68.13" cy="88.29" r="1.7" fill="#08997B"/><circle cx="157.45" cy="59.22" r="1.7" fill="#EE4126"/><circle cx="42.43" cy="95.52" r="1.7" fill="#12B1D1"/><circle cx="67.79" cy="35.17" r="1.7" fill="#12B1D1"/><circle cx="116.88" cy="123.56" r="1.7" fill="#EE4126"/><circle cx="98.11" cy="73.81" r="1.7" fill="#12B1D1"/><circle cx="110.93" cy="41.98" r="1.7" fill="#12B1D1"/><circle cx="69.01" cy="25.16" r="1.7" fill="#12B1D1"/><circle cx="112.33" cy="40.54" r="1.7" fill="#12B1D1"/><circle cx="158.52" cy="78.51" r="1.7" fill="#12B1D1"/><circle cx="72.26" cy="88.59" r="1.7" fill="#12B1D1"/><circle cx="104.86" cy="71.53" r="1.7" fill="#12B1D1"/><circle cx="155.78" cy="74.59" r="1.7" fill="#EE4126"/><circle cx="149.71" cy="67.67" r="1.7" fill="#EE4126"/><circle cx="125.96" cy="66.21" r="1.7" fill="#EE4126"/><circle cx="73.36" cy="32.72" r="1.7" fill="#12B1D1"/><circle cx="66.45" cy="38.46" r="1.7" fill="#12B1D1"/><circle cx="114.27" cy="64.23" r="1.7" fill="#EE4126"/><circle cx="158.58" cy="71.92" r="1.7" fill="#EE4126"/><circle cx="45.24" cy="91.78" r="1.7" fill="#12B1D1"/><circle cx="108.53" cy="39.99" r="1.7" fill="#12B1D1"/><circle cx="74.81" cy="32.93" r="1.7" fill="#12B1D1"/><circle cx="117.90" cy="122.99" r="1.7" fill="#08997B"/><circle cx="69.98" cy="33.68" r="1.7" fill="#12B1D1"/><circle cx="156.32" cy="68.82" r="1.7" fill="#EE4126"/><circle cx="120.01" cy="128.71" r="1.7" fill="#EE4126"/><circle cx="83.38" cy="58.58" r="1.7" fill="#12B1D1"/><circle cx="121.99" cy="118.87" r="1.7" fill="#EE4126"/><circle cx="105.67" cy="67.75" r="1.7" fill="#08997B"/><circle cx="109.69" cy="41.29" r="1.7" fill="#EE4126"/><circle cx="121.10" cy="121.90" r="1.7" fill="#EE4126"/><circle cx="110.94" cy="65.03" r="1.7" fill="#EE4126"/><circle cx="60.98" cy="40.09" r="1.7" fill="#12B1D1"/><circle cx="159.28" cy="65.90" r="1.7" fill="#EE4126"/><circle cx="122.03" cy="126.13" r="1.7" fill="#EE4126"/><circle cx="77.92" cy="42.38" r="1.7" fill="#12B1D1"/><circle cx="120.22" cy="125.02" r="1.7" fill="#08997B"/><circle cx="68.98" cy="30.27" r="1.7" fill="#12B1D1"/><circle cx="44.60" cy="99.39" r="1.7" fill="#08997B"/><circle cx="137.53" cy="67.17" r="1.7" fill="#EE4126"/><circle cx="106.42" cy="87.90" r="1.7" fill="#EE4126"/><circle cx="46.44" cy="108.00" r="1.7" fill="#12B1D1"/><circle cx="79.04" cy="48.36" r="1.7" fill="#12B1D1"/><circle cx="141.73" cy="68.27" r="1.7" fill="#EE4126"/><circle cx="77.00" cy="81.46" r="1.7" fill="#08997B"/><circle cx="66.15" cy="30.01" r="1.7" fill="#12B1D1"/><circle cx="44.06" cy="101.16" r="1.7" fill="#08997B"/><circle cx="156.23" cy="68.48" r="1.7" fill="#12B1D1"/><circle cx="152.42" cy="70.99" r="1.7" fill="#EE4126"/><circle cx="70.19" cy="33.53" r="1.7" fill="#12B1D1"/><circle cx="38.92" cy="95.35" r="1.7" fill="#08997B"/><circle cx="86.17" cy="27.28" r="1.7" fill="#12B1D1"/><circle cx="113.52" cy="123.35" r="1.7" fill="#EE4126"/><circle cx="114.39" cy="107.20" r="1.7" fill="#EE4126"/><circle cx="107.70" cy="87.45" r="1.7" fill="#08997B"/><circle cx="151.56" cy="70.96" r="1.7" fill="#EE4126"/><circle cx="158.26" cy="76.89" r="1.7" fill="#08997B"/><circle cx="71.34" cy="89.06" r="1.7" fill="#12B1D1"/><circle cx="107.79" cy="41.70" r="1.7" fill="#EE4126"/><circle cx="68.49" cy="36.45" r="1.7" fill="#12B1D1"/><circle cx="93.03" cy="73.13" r="1.7" fill="#08997B"/><circle cx="46.01" cy="100.42" r="1.7" fill="#12B1D1"/><circle cx="157.40" cy="69.27" r="1.7" fill="#EE4126"/><circle cx="117.73" cy="116.02" r="1.7" fill="#EE4126"/><circle cx="117.93" cy="125.33" r="1.7" fill="#EE4126"/><circle cx="108.06" cy="43.66" r="1.7" fill="#EE4126"/><circle cx="159.25" cy="68.74" r="1.7" fill="#EE4126"/><circle cx="152.90" cy="71.34" r="1.7" fill="#EE4126"/><circle cx="69.12" cy="32.21" r="1.7" fill="#12B1D1"/><circle cx="82.20" cy="25.88" r="1.7" fill="#12B1D1"/><circle cx="42.58" cy="98.54" r="1.7" fill="#12B1D1"/><circle cx="145.94" cy="69.61" r="1.7" fill="#EE4126"/><circle cx="79.59" cy="47.42" r="1.7" fill="#12B1D1"/><circle cx="150.55" cy="71.54" r="1.7" fill="#EE4126"/><circle cx="149.97" cy="73.74" r="1.7" fill="#08997B"/><circle cx="120.84" cy="67.29" r="1.7" fill="#EE4126"/><circle cx="157.03" cy="69.81" r="1.7" fill="#08997B"/><circle cx="111.34" cy="45.48" r="1.7" fill="#08997B"/><circle cx="118.67" cy="123.56" r="1.7" fill="#08997B"/><circle cx="154.29" cy="76.05" r="1.7" fill="#EE4126"/><circle cx="111.81" cy="123.29" r="1.7" fill="#EE4126"/><circle cx="48.08" cy="103.02" r="1.7" fill="#08997B"/><circle cx="63.49" cy="33.33" r="1.7" fill="#12B1D1"/><circle cx="70.75" cy="36.34" r="1.7" fill="#12B1D1"/><circle cx="39.71" cy="104.61" r="1.7" fill="#12B1D1"/><circle cx="109.21" cy="44.28" r="1.7" fill="#EE4126"/><circle cx="42.18" cy="100.10" r="1.7" fill="#08997B"/><circle cx="118.29" cy="123.24" r="1.7" fill="#EE4126"/><circle cx="88.33" cy="68.32" r="1.7" fill="#12B1D1"/><circle cx="110.27" cy="100.13" r="1.7" fill="#08997B"/><circle cx="96.82" cy="68.56" r="1.7" fill="#EE4126"/><circle cx="61.09" cy="31.25" r="1.7" fill="#12B1D1"/><circle cx="101.54" cy="78.58" r="1.7" fill="#EE4126"/><circle cx="63.07" cy="91.95" r="1.7" fill="#08997B"/><circle cx="157.91" cy="71.41" r="1.7" fill="#EE4126"/><circle cx="68.74" cy="84.85" r="1.7" fill="#12B1D1"/><circle cx="109.06" cy="38.83" r="1.7" fill="#12B1D1"/><circle cx="64.56" cy="30.94" r="1.7" fill="#12B1D1"/><circle cx="103.74" cy="84.69" r="1.7" fill="#EE4126"/><circle cx="74.92" cy="35.67" r="1.7" fill="#12B1D1"/><circle cx="44.58" cy="98.73" r="1.7" fill="#12B1D1"/><circle cx="110.38" cy="42.96" r="1.7" fill="#12B1D1"/><circle cx="152.05" cy="72.59" r="1.7" fill="#EE4126"/><circle cx="116.58" cy="37.22" r="1.7" fill="#08997B"/><circle cx="112.22" cy="106.35" r="1.7" fill="#EE4126"/><circle cx="65.11" cy="33.97" r="1.7" fill="#12B1D1"/><circle cx="61.22" cy="32.35" r="1.7" fill="#12B1D1"/><circle cx="155.64" cy="65.45" r="1.7" fill="#EE4126"/><circle cx="109.03" cy="107.91" r="1.7" fill="#08997B"/><circle cx="38.87" cy="93.42" r="1.7" fill="#08997B"/><circle cx="45.25" cy="97.16" r="1.7" fill="#12B1D1"/><circle cx="123.12" cy="124.96" r="1.7" fill="#EE4126"/><circle cx="65.53" cy="35.57" r="1.7" fill="#12B1D1"/><circle cx="112.51" cy="42.27" r="1.7" fill="#08997B"/><circle cx="77.87" cy="45.35" r="1.7" fill="#12B1D1"/><circle cx="121.32" cy="123.05" r="1.7" fill="#EE4126"/><circle cx="109.84" cy="37.46" r="1.7" fill="#EE4126"/><circle cx="67.78" cy="26.25" r="1.7" fill="#12B1D1"/><circle cx="120.34" cy="125.07" r="1.7" fill="#EE4126"/><circle cx="105.57" cy="88.11" r="1.7" fill="#EE4126"/><circle cx="124.11" cy="123.42" r="1.7" fill="#08997B"/><circle cx="125.39" cy="131.34" r="1.7" fill="#EE4126"/><circle cx="112.93" cy="43.30" r="1.7" fill="#12B1D1"/><circle cx="47.17" cy="98.16" r="1.7" fill="#12B1D1"/><circle cx="50.90" cy="102.94" r="1.7" fill="#12B1D1"/><circle cx="121.26" cy="126.24" r="1.7" fill="#EE4126"/><circle cx="111.94" cy="123.25" r="1.7" fill="#EE4126"/><circle cx="112.30" cy="39.57" r="1.7" fill="#EE4126"/><circle cx="112.39" cy="40.12" r="1.7" fill="#08997B"/><circle cx="85.14" cy="62.82" r="1.7" fill="#12B1D1"/><circle cx="156.89" cy="69.79" r="1.7" fill="#EE4126"/><circle cx="107.55" cy="43.41" r="1.7" fill="#12B1D1"/><circle cx="126.72" cy="126.36" r="1.7" fill="#08997B"/><circle cx="41.12" cy="91.14" r="1.7" fill="#12B1D1"/><circle cx="156.58" cy="70.02" r="1.7" fill="#EE4126"/><circle cx="111.96" cy="39.94" r="1.7" fill="#12B1D1"/><circle cx="77.55" cy="83.56" r="1.7" fill="#08997B"/><circle cx="116.87" cy="123.82" r="1.7" fill="#EE4126"/><circle cx="151.69" cy="73.52" r="1.7" fill="#EE4126"/><circle cx="111.53" cy="104.48" r="1.7" fill="#EE4126"/><circle cx="74.33" cy="84.77" r="1.7" fill="#08997B"/><circle cx="155.20" cy="71.41" r="1.7" fill="#EE4126"/><circle cx="155.31" cy="73.38" r="1.7" fill="#EE4126"/><circle cx="68.86" cy="37.52" r="1.7" fill="#12B1D1"/><circle cx="114.56" cy="37.76" r="1.7" fill="#08997B"/><circle cx="42.22" cy="96.93" r="1.7" fill="#12B1D1"/><circle cx="129.06" cy="68.34" r="1.7" fill="#EE4126"/><circle cx="41.91" cy="108.66" r="1.7" fill="#12B1D1"/><circle cx="155.18" cy="72.97" r="1.7" fill="#08997B"/><circle cx="51.11" cy="33.84" r="1.7" fill="#12B1D1"/><circle cx="157.08" cy="62.85" r="1.7" fill="#EE4126"/><circle cx="120.16" cy="121.21" r="1.7" fill="#EE4126"/><circle cx="121.49" cy="66.42" r="1.7" fill="#EE4126"/><circle cx="119.10" cy="128.68" r="1.7" fill="#08997B"/><circle cx="71.24" cy="33.32" r="1.7" fill="#12B1D1"/><circle cx="51.27" cy="93.68" r="1.7" fill="#08997B"/><circle cx="39.53" cy="98.89" r="1.7" fill="#08997B"/><circle cx="47.32" cy="103.83" r="1.7" fill="#12B1D1"/><circle cx="43.73" cy="95.59" r="1.7" fill="#12B1D1"/><circle cx="49.79" cy="106.32" r="1.7" fill="#12B1D1"/><circle cx="136.03" cy="68.32" r="1.7" fill="#EE4126"/><circle cx="157.15" cy="78.07" r="1.7" fill="#EE4126"/><circle cx="67.67" cy="33.22" r="1.7" fill="#EE4126"/><circle cx="154.76" cy="72.15" r="1.7" fill="#08997B"/><circle cx="110.58" cy="45.77" r="1.7" fill="#12B1D1"/><circle cx="41.47" cy="95.60" r="1.7" fill="#12B1D1"/><circle cx="154.86" cy="65.56" r="1.7" fill="#EE4126"/><circle cx="121.98" cy="122.36" r="1.7" fill="#EE4126"/><circle cx="154.83" cy="71.38" r="1.7" fill="#EE4126"/><circle cx="142.22" cy="68.27" r="1.7" fill="#08997B"/><circle cx="155.49" cy="70.85" r="1.7" fill="#08997B"/><circle cx="111.61" cy="42.92" r="1.7" fill="#12B1D1"/><circle cx="114.52" cy="39.76" r="1.7" fill="#08997B"/><circle cx="89.12" cy="63.95" r="1.7" fill="#12B1D1"/><circle cx="158.02" cy="73.92" r="1.7" fill="#EE4126"/><circle cx="69.81" cy="32.82" r="1.7" fill="#12B1D1"/><circle cx="41.23" cy="98.22" r="1.7" fill="#12B1D1"/><circle cx="157.02" cy="75.48" r="1.7" fill="#EE4126"/><circle cx="72.67" cy="32.36" r="1.7" fill="#12B1D1"/><circle cx="120.32" cy="129.42" r="1.7" fill="#EE4126"/><circle cx="157.59" cy="70.18" r="1.7" fill="#EE4126"/><circle cx="152.71" cy="72.87" r="1.7" fill="#EE4126"/><circle cx="118.80" cy="123.54" r="1.7" fill="#08997B"/><circle cx="108.14" cy="49.36" r="1.7" fill="#12B1D1"/><circle cx="109.17" cy="40.36" r="1.7" fill="#12B1D1"/><circle cx="42.97" cy="97.49" r="1.7" fill="#12B1D1"/><circle cx="73.05" cy="34.07" r="1.7" fill="#12B1D1"/><circle cx="75.33" cy="83.43" r="1.7" fill="#08997B"/><circle cx="124.36" cy="66.48" r="1.7" fill="#EE4126"/><circle cx="43.77" cy="98.04" r="1.7" fill="#08997B"/><circle cx="110.64" cy="111.66" r="1.7" fill="#EE4126"/><circle cx="122.13" cy="121.71" r="1.7" fill="#EE4126"/><circle cx="75.49" cy="32.06" r="1.7" fill="#12B1D1"/><circle cx="63.74" cy="88.80" r="1.7" fill="#08997B"/><circle cx="41.14" cy="98.34" r="1.7" fill="#08997B"/><circle cx="62.35" cy="34.62" r="1.7" fill="#12B1D1"/><circle cx="62.21" cy="29.58" r="1.7" fill="#12B1D1"/><circle cx="156.04" cy="66.54" r="1.7" fill="#08997B"/><circle cx="112.11" cy="37.72" r="1.7" fill="#12B1D1"/><circle cx="42.78" cy="104.72" r="1.7" fill="#08997B"/><circle cx="104.60" cy="70.38" r="1.7" fill="#12B1D1"/><circle cx="79.71" cy="82.93" r="1.7" fill="#12B1D1"/><circle cx="112.17" cy="38.07" r="1.7" fill="#EE4126"/><circle cx="63.49" cy="28.31" r="1.7" fill="#12B1D1"/><circle cx="127.07" cy="66.29" r="1.7" fill="#EE4126"/><circle cx="98.46" cy="80.81" r="1.7" fill="#08997B"/><circle cx="161.95" cy="66.59" r="1.7" fill="#08997B"/><circle cx="122.11" cy="121.27" r="1.7" fill="#EE4126"/><circle cx="109.72" cy="124.03" r="1.7" fill="#08997B"/><circle cx="142.52" cy="71.81" r="1.7" fill="#12B1D1"/><circle cx="156.71" cy="73.91" r="1.7" fill="#EE4126"/><circle cx="86.29" cy="25.83" r="1.7" fill="#12B1D1"/><circle cx="36.83" cy="121.29" r="1.7" fill="#08997B"/><circle cx="66.16" cy="89.68" r="1.7" fill="#08997B"/><circle cx="42.95" cy="99.14" r="1.7" fill="#12B1D1"/><circle cx="118.84" cy="124.43" r="1.7" fill="#08997B"/><circle cx="62.66" cy="28.69" r="1.7" fill="#12B1D1"/><circle cx="157.37" cy="69.24" r="1.7" fill="#EE4126"/><circle cx="111.01" cy="52.61" r="1.7" fill="#12B1D1"/><circle cx="64.34" cy="34.88" r="1.7" fill="#12B1D1"/><circle cx="71.41" cy="30.95" r="1.7" fill="#12B1D1"/><circle cx="50.09" cy="98.18" r="1.7" fill="#12B1D1"/><circle cx="59.70" cy="91.61" r="1.7" fill="#12B1D1"/><circle cx="119.66" cy="125.25" r="1.7" fill="#08997B"/><circle cx="89.75" cy="72.30" r="1.7" fill="#12B1D1"/><circle cx="158.54" cy="64.08" r="1.7" fill="#12B1D1"/><circle cx="67.32" cy="32.42" r="1.7" fill="#12B1D1"/><circle cx="115.53" cy="121.51" r="1.7" fill="#EE4126"/><circle cx="55.44" cy="27.85" r="1.7" fill="#12B1D1"/><circle cx="123.28" cy="124.46" r="1.7" fill="#08997B"/><circle cx="61.75" cy="89.56" r="1.7" fill="#08997B"/><circle cx="111.00" cy="105.10" r="1.7" fill="#08997B"/><circle cx="72.17" cy="40.31" r="1.7" fill="#12B1D1"/><circle cx="120.99" cy="121.53" r="1.7" fill="#EE4126"/><circle cx="119.64" cy="124.32" r="1.7" fill="#EE4126"/><circle cx="43.41" cy="98.51" r="1.7" fill="#12B1D1"/><circle cx="88.12" cy="65.99" r="1.7" fill="#12B1D1"/><circle cx="125.59" cy="69.24" r="1.7" fill="#EE4126"/><circle cx="155.16" cy="80.67" r="1.7" fill="#EE4126"/><circle cx="107.17" cy="94.71" r="1.7" fill="#08997B"/><circle cx="46.29" cy="99.37" r="1.7" fill="#12B1D1"/><circle cx="153.56" cy="74.54" r="1.7" fill="#EE4126"/><circle cx="111.00" cy="40.66" r="1.7" fill="#12B1D1"/><circle cx="69.89" cy="31.95" r="1.7" fill="#12B1D1"/><circle cx="76.55" cy="81.42" r="1.7" fill="#08997B"/><circle cx="157.05" cy="63.08" r="1.7" fill="#EE4126"/><circle cx="152.69" cy="73.90" r="1.7" fill="#EE4126"/><circle cx="123.85" cy="126.10" r="1.7" fill="#08997B"/><circle cx="160.08" cy="70.24" r="1.7" fill="#EE4126"/><circle cx="76.30" cy="81.36" r="1.7" fill="#08997B"/><circle cx="65.71" cy="36.67" r="1.7" fill="#12B1D1"/><circle cx="45.11" cy="102.61" r="1.7" fill="#12B1D1"/><circle cx="46.75" cy="99.43" r="1.7" fill="#08997B"/><circle cx="111.61" cy="38.34" r="1.7" fill="#12B1D1"/><circle cx="120.45" cy="125.17" r="1.7" fill="#08997B"/><circle cx="154.15" cy="71.18" r="1.7" fill="#EE4126"/><circle cx="158.38" cy="71.36" r="1.7" fill="#EE4126"/><circle cx="43.62" cy="97.53" r="1.7" fill="#12B1D1"/><circle cx="124.22" cy="124.32" r="1.7" fill="#EE4126"/><circle cx="104.42" cy="73.44" r="1.7" fill="#EE4126"/><circle cx="108.50" cy="46.07" r="1.7" fill="#EE4126"/><circle cx="121.14" cy="130.24" r="1.7" fill="#EE4126"/><circle cx="108.46" cy="69.05" r="1.7" fill="#12B1D1"/><circle cx="47.80" cy="102.10" r="1.7" fill="#12B1D1"/><circle cx="43.17" cy="94.87" r="1.7" fill="#08997B"/><circle cx="67.98" cy="36.94" r="1.7" fill="#12B1D1"/><circle cx="114.94" cy="41.71" r="1.7" fill="#EE4126"/><circle cx="117.06" cy="129.27" r="1.7" fill="#08997B"/><circle cx="109.65" cy="48.20" r="1.7" fill="#12B1D1"/><circle cx="111.92" cy="46.91" r="1.7" fill="#12B1D1"/><circle cx="69.80" cy="34.32" r="1.7" fill="#12B1D1"/><circle cx="106.33" cy="44.40" r="1.7" fill="#12B1D1"/><circle cx="120.04" cy="125.57" r="1.7" fill="#08997B"/><circle cx="42.97" cy="98.08" r="1.7" fill="#12B1D1"/><circle cx="45.05" cy="98.77" r="1.7" fill="#12B1D1"/><circle cx="129.54" cy="66.82" r="1.7" fill="#EE4126"/><circle cx="156.85" cy="71.55" r="1.7" fill="#EE4126"/><circle cx="85.72" cy="64.89" r="1.7" fill="#12B1D1"/><circle cx="112.63" cy="38.62" r="1.7" fill="#08997B"/><circle cx="89.17" cy="70.73" r="1.7" fill="#EE4126"/><circle cx="123.30" cy="125.27" r="1.7" fill="#EE4126"/><circle cx="148.02" cy="68.38" r="1.7" fill="#EE4126"/><circle cx="62.30" cy="25.08" r="1.7" fill="#12B1D1"/><circle cx="74.83" cy="32.19" r="1.7" fill="#12B1D1"/><circle cx="62.01" cy="33.35" r="1.7" fill="#EE4126"/><circle cx="85.00" cy="61.03" r="1.7" fill="#12B1D1"/><circle cx="153.66" cy="70.12" r="1.7" fill="#EE4126"/><circle cx="154.81" cy="74.68" r="1.7" fill="#08997B"/><circle cx="156.71" cy="71.78" r="1.7" fill="#EE4126"/><circle cx="87.07" cy="69.17" r="1.7" fill="#12B1D1"/><circle cx="49.75" cy="96.58" r="1.7" fill="#08997B"/><circle cx="94.60" cy="69.55" r="1.7" fill="#12B1D1"/><circle cx="154.78" cy="69.84" r="1.7" fill="#EE4126"/><circle cx="46.97" cy="107.99" r="1.7" fill="#08997B"/><circle cx="77.33" cy="33.06" r="1.7" fill="#12B1D1"/><circle cx="67.64" cy="30.70" r="1.7" fill="#12B1D1"/><circle cx="68.39" cy="31.02" r="1.7" fill="#12B1D1"/><path d="M90.77,72.79 L74.50,41.28" fill="none" stroke="#111" stroke-width="1.0"/><path d="M108.44,68.68 L109.60,56.08" fill="none" stroke="#111" stroke-width="1.0"/><path d="M108.44,68.68 L114.63,68.82 L120.38,69.01 L125.68,69.26 L130.54,69.56 L134.94,69.92 L138.91,70.33 L142.42,70.79 L145.49,71.31 L148.11,71.89 L150.29,72.52" fill="none" stroke="#111" stroke-width="1.0"/><path d="M90.77,72.79 L87.42,75.26 L84.04,77.63 L80.63,79.90 L77.18,82.08 L73.70,84.16 L70.19,86.15 L66.65,88.04 L63.08,89.84 L59.47,91.55 L55.83,93.15 L52.16,94.67 L48.45,96.08" fill="none" stroke="#111" stroke-width="1.0"/><path d="M100.53,74.71 L107.51,99.92 L115.88,119.65" fill="none" stroke="#111" stroke-width="1.0"/><path d="M90.77,72.79 L100.53,74.71 L108.44,68.68" fill="none" stroke="#111" stroke-width="1.0"/><circle cx="90.77" cy="72.79" r="4.4" fill="#000"/><text x="90.77" y="74.89" font-size="6" font-family="Liberation Sans, sans-serif" text-anchor="middle" fill="#fff" font-weight="bold" >1</text><circle cx="100.53" cy="74.71" r="4.4" fill="#000"/><text x="100.53" y="76.81" font-size="6" font-family="Liberation Sans, sans-serif" text-anchor="middle" fill="#fff" font-weight="bold" >2</text><circle cx="108.44" cy="68.68" r="4.4" fill="#000"/><text x="108.44" y="70.78" font-size="6" font-family="Liberation Sans, sans-serif" text-anchor="middle" fill="#fff" font-weight="bold" >3</text><text x="-0.20" y="176.50" font-size="14" font-family="Liberation Sans, sans-serif" text-anchor="start" fill="#000" >C</text><circle cx="56.9" cy="174.9" r="1.5" fill="#F6694C"/><text x="65.10" y="176.90" font-size="5.4" font-family="Liberation Sans, sans-serif" text-anchor="start" fill="#000" >IS1A</text><circle cx="85.1" cy="174.9" r="1.5" fill="#1AAFE0"/><text x="93.30" y="176.90" font-size="5.4" font-family="Liberation Sans, sans-serif" text-anchor="start" fill="#000" >IS2A</text><circle cx="113.5" cy="174.9" r="1.5" fill="#0B3F8E"/><text x="121.70" y="176.90" font-size="5.4" font-family="Liberation Sans, sans-serif" text-anchor="start" fill="#000" >IS2C</text><circle cx="142.4" cy="174.9" r="1.5" fill="#0A7E3A"/><text x="150.60" y="176.90" font-size="5.4" font-family="Liberation Sans, sans-serif" text-anchor="start" fill="#000" >IS3B</text><circle cx="56.9" cy="184.6" r="1.5" fill="#E4141C"/><text x="65.10" y="186.60" font-size="5.4" font-family="Liberation Sans, sans-serif" text-anchor="start" fill="#000" >IS1B</text><circle cx="85.1" cy="184.6" r="1.5" fill="#0E86C6"/><text x="93.30" y="186.60" font-size="5.4" font-family="Liberation Sans, sans-serif" text-anchor="start" fill="#000" >IS2B</text><circle cx="113.5" cy="184.6" r="1.5" fill="#2DBA5A"/><text x="121.70" y="186.60" font-size="5.4" font-family="Liberation Sans, sans-serif" text-anchor="start" fill="#000" >IS3A</text><line x1="22.5" y1="192" x2="22.5" y2="298" stroke="#8a8a8a" stroke-width="0.9"/><line x1="22.5" y1="298" x2="167.5" y2="298" stroke="#8a8a8a" stroke-width="0.9"/><line x1="20.7" y1="198.00" x2="22.5" y2="198.00" stroke="#8a8a8a" stroke-width="0.7"/><text x="19.90" y="199.90" font-size="5.3" font-family="Liberation Sans, sans-serif" text-anchor="end" fill="#4d4d4d" >10</text><line x1="20.7" y1="222.25" x2="22.5" y2="222.25" stroke="#8a8a8a" stroke-width="0.7"/><text x="19.90" y="224.15" font-size="5.3" font-family="Liberation Sans, sans-serif" text-anchor="end" fill="#4d4d4d" >5</text><line x1="20.7" y1="246.50" x2="22.5" y2="246.50" stroke="#8a8a8a" stroke-width="0.7"/><text x="19.90" y="248.40" font-size="5.3" font-family="Liberation Sans, sans-serif" text-anchor="end" fill="#4d4d4d" >0</text><line x1="20.7" y1="270.75" x2="22.5" y2="270.75" stroke="#8a8a8a" stroke-width="0.7"/><text x="19.90" y="272.65" font-size="5.3" font-family="Liberation Sans, sans-serif" text-anchor="end" fill="#4d4d4d" >−5</text><line x1="20.7" y1="295.00" x2="22.5" y2="295.00" stroke="#8a8a8a" stroke-width="0.7"/><text x="19.90" y="296.90" font-size="5.3" font-family="Liberation Sans, sans-serif" text-anchor="end" fill="#4d4d4d" >−10</text><line x1="30.60" y1="298" x2="30.60" y2="299.8" stroke="#8a8a8a" stroke-width="0.7"/><text x="30.60" y="306.00" font-size="5.3" font-family="Liberation Sans, sans-serif" text-anchor="middle" fill="#4d4d4d" >−15</text><line x1="53.80" y1="298" x2="53.80" y2="299.8" stroke="#8a8a8a" stroke-width="0.7"/><text x="53.80" y="306.00" font-size="5.3" font-family="Liberation Sans, sans-serif" text-anchor="middle" fill="#4d4d4d" >−10</text><line x1="77.00" y1="298" x2="77.00" y2="299.8" stroke="#8a8a8a" stroke-width="0.7"/><text x="77.00" y="306.00" font-size="5.3" font-family="Liberation Sans, sans-serif" text-anchor="middle" fill="#4d4d4d" >−5</text><line x1="100.20" y1="298" x2="100.20" y2="299.8" stroke="#8a8a8a" stroke-width="0.7"/><text x="100.20" y="306.00" font-size="5.3" font-family="Liberation Sans, sans-serif" text-anchor="middle" fill="#4d4d4d" >0</text><line x1="123.40" y1="298" x2="123.40" y2="299.8" stroke="#8a8a8a" stroke-width="0.7"/><text x="123.40" y="306.00" font-size="5.3" font-family="Liberation Sans, sans-serif" text-anchor="middle" fill="#4d4d4d" >5</text><line x1="146.60" y1="298" x2="146.60" y2="299.8" stroke="#8a8a8a" stroke-width="0.7"/><text x="146.60" y="306.00" font-size="5.3" font-family="Liberation Sans, sans-serif" text-anchor="middle" fill="#4d4d4d" >10</text><text x="95.00" y="312.50" font-size="6.6" font-family="Liberation Sans, sans-serif" text-anchor="middle" fill="#000" >Component 1</text><text x="8.5" y="245.00" font-size="6.6" font-family="Liberation Sans, sans-serif" text-anchor="middle" transform="rotate(-90 8.5 245.00)">Component 2</text><circle cx="156.36" cy="240.08" r="1.7" fill="#F6694C"/><circle cx="122.22" cy="285.88" r="1.7" fill="#0A7E3A"/><circle cx="61.48" cy="258.36" r="1.7" fill="#2DBA5A"/><circle cx="118.19" cy="291.62" r="1.7" fill="#0A7E3A"/><circle cx="120.20" cy="287.19" r="1.7" fill="#0A7E3A"/><circle cx="44.53" cy="268.41" r="1.7" fill="#2DBA5A"/><circle cx="103.98" cy="250.79" r="1.7" fill="#E4141C"/><circle cx="86.37" cy="198.91" r="1.7" fill="#0B3F8E"/><circle cx="160.46" cy="247.17" r="1.7" fill="#F6694C"/><circle cx="130.68" cy="234.80" r="1.7" fill="#F6694C"/><circle cx="106.91" cy="216.02" r="1.7" fill="#0E86C6"/><circle cx="86.37" cy="234.18" r="1.7" fill="#0B3F8E"/><circle cx="112.05" cy="209.88" r="1.7" fill="#0E86C6"/><circle cx="44.36" cy="266.47" r="1.7" fill="#1AAFE0"/><circle cx="122.59" cy="286.21" r="1.7" fill="#0A7E3A"/><circle cx="73.07" cy="250.65" r="1.7" fill="#2DBA5A"/><circle cx="62.78" cy="204.76" r="1.7" fill="#0B3F8E"/><circle cx="41.37" cy="262.49" r="1.7" fill="#1AAFE0"/><circle cx="59.02" cy="209.61" r="1.7" fill="#0B3F8E"/><circle cx="113.98" cy="282.84" r="1.7" fill="#0A7E3A"/><circle cx="115.91" cy="288.73" r="1.7" fill="#0A7E3A"/><circle cx="42.99" cy="266.19" r="1.7" fill="#1AAFE0"/><circle cx="155.94" cy="231.04" r="1.7" fill="#F6694C"/><circle cx="69.48" cy="206.98" r="1.7" fill="#0B3F8E"/><circle cx="35.24" cy="280.94" r="1.7" fill="#2DBA5A"/><circle cx="110.25" cy="281.64" r="1.7" fill="#E4141C"/><circle cx="104.78" cy="254.17" r="1.7" fill="#E4141C"/><circle cx="116.32" cy="286.84" r="1.7" fill="#0A7E3A"/><circle cx="66.72" cy="208.65" r="1.7" fill="#0B3F8E"/><circle cx="154.12" cy="240.81" r="1.7" fill="#F6694C"/><circle cx="154.04" cy="246.22" r="1.7" fill="#F6694C"/><circle cx="71.09" cy="206.00" r="1.7" fill="#0B3F8E"/><circle cx="48.56" cy="267.93" r="1.7" fill="#1AAFE0"/><circle cx="161.27" cy="232.39" r="1.7" fill="#F6694C"/><circle cx="104.19" cy="255.22" r="1.7" fill="#0A7E3A"/><circle cx="155.74" cy="243.91" r="1.7" fill="#F6694C"/><circle cx="55.66" cy="261.33" r="1.7" fill="#2DBA5A"/><circle cx="103.71" cy="250.55" r="1.7" fill="#0A7E3A"/><circle cx="111.51" cy="222.18" r="1.7" fill="#0E86C6"/><circle cx="43.46" cy="264.82" r="1.7" fill="#2DBA5A"/><circle cx="68.80" cy="206.39" r="1.7" fill="#0B3F8E"/><circle cx="85.23" cy="233.47" r="1.7" fill="#0B3F8E"/><circle cx="157.74" cy="233.14" r="1.7" fill="#F6694C"/><circle cx="116.73" cy="286.63" r="1.7" fill="#E4141C"/><circle cx="100.12" cy="249.30" r="1.7" fill="#E4141C"/><circle cx="65.82" cy="205.73" r="1.7" fill="#0B3F8E"/><circle cx="66.24" cy="206.54" r="1.7" fill="#0B3F8E"/><circle cx="153.61" cy="238.90" r="1.7" fill="#F6694C"/><circle cx="42.38" cy="262.44" r="1.7" fill="#1AAFE0"/><circle cx="88.50" cy="242.77" r="1.7" fill="#0B3F8E"/><circle cx="64.81" cy="202.54" r="1.7" fill="#0B3F8E"/><circle cx="121.21" cy="293.31" r="1.7" fill="#E4141C"/><circle cx="109.85" cy="261.49" r="1.7" fill="#0A7E3A"/><circle cx="156.28" cy="239.96" r="1.7" fill="#F6694C"/><circle cx="110.04" cy="212.36" r="1.7" fill="#0E86C6"/><circle cx="108.29" cy="216.44" r="1.7" fill="#0E86C6"/><circle cx="40.59" cy="262.74" r="1.7" fill="#2DBA5A"/><circle cx="40.48" cy="263.45" r="1.7" fill="#1AAFE0"/><circle cx="107.51" cy="231.49" r="1.7" fill="#0E86C6"/><circle cx="67.93" cy="203.77" r="1.7" fill="#0B3F8E"/><circle cx="156.49" cy="240.63" r="1.7" fill="#F6694C"/><circle cx="40.82" cy="263.22" r="1.7" fill="#2DBA5A"/><circle cx="39.26" cy="260.56" r="1.7" fill="#1AAFE0"/><circle cx="53.46" cy="264.95" r="1.7" fill="#2DBA5A"/><circle cx="153.98" cy="241.31" r="1.7" fill="#F6694C"/><circle cx="43.59" cy="267.21" r="1.7" fill="#1AAFE0"/><circle cx="160.90" cy="248.27" r="1.7" fill="#F6694C"/><circle cx="47.64" cy="264.62" r="1.7" fill="#2DBA5A"/><circle cx="40.93" cy="266.68" r="1.7" fill="#1AAFE0"/><circle cx="61.26" cy="205.21" r="1.7" fill="#0B3F8E"/><circle cx="39.32" cy="269.72" r="1.7" fill="#1AAFE0"/><circle cx="64.25" cy="205.80" r="1.7" fill="#0B3F8E"/><circle cx="106.12" cy="210.75" r="1.7" fill="#0E86C6"/><circle cx="110.28" cy="216.61" r="1.7" fill="#0E86C6"/><circle cx="44.95" cy="263.52" r="1.7" fill="#1AAFE0"/><circle cx="60.81" cy="203.85" r="1.7" fill="#0B3F8E"/><circle cx="66.20" cy="208.02" r="1.7" fill="#0B3F8E"/><circle cx="89.18" cy="240.80" r="1.7" fill="#0B3F8E"/><circle cx="153.68" cy="243.90" r="1.7" fill="#F6694C"/><circle cx="72.29" cy="206.95" r="1.7" fill="#0B3F8E"/><circle cx="120.54" cy="288.05" r="1.7" fill="#0A7E3A"/><circle cx="121.23" cy="287.94" r="1.7" fill="#0A7E3A"/><circle cx="49.40" cy="262.09" r="1.7" fill="#2DBA5A"/><circle cx="70.24" cy="207.70" r="1.7" fill="#0B3F8E"/><circle cx="58.98" cy="259.45" r="1.7" fill="#2DBA5A"/><circle cx="42.18" cy="265.12" r="1.7" fill="#1AAFE0"/><circle cx="132.67" cy="236.78" r="1.7" fill="#F6694C"/><circle cx="62.03" cy="205.97" r="1.7" fill="#0B3F8E"/><circle cx="156.03" cy="235.92" r="1.7" fill="#F6694C"/><circle cx="110.78" cy="213.43" r="1.7" fill="#0E86C6"/><circle cx="161.60" cy="234.82" r="1.7" fill="#F6694C"/><circle cx="142.59" cy="237.91" r="1.7" fill="#F6694C"/><circle cx="112.50" cy="286.84" r="1.7" fill="#E4141C"/><circle cx="119.49" cy="287.89" r="1.7" fill="#E4141C"/><circle cx="111.15" cy="206.36" r="1.7" fill="#0E86C6"/><circle cx="63.80" cy="209.11" r="1.7" fill="#0B3F8E"/><circle cx="51.40" cy="265.25" r="1.7" fill="#2DBA5A"/><circle cx="108.28" cy="214.29" r="1.7" fill="#0E86C6"/><circle cx="112.96" cy="211.92" r="1.7" fill="#0E86C6"/><circle cx="112.04" cy="213.68" r="1.7" fill="#0E86C6"/><circle cx="88.95" cy="242.67" r="1.7" fill="#0B3F8E"/><circle cx="152.88" cy="243.54" r="1.7" fill="#F6694C"/><circle cx="68.15" cy="214.87" r="1.7" fill="#0B3F8E"/><circle cx="83.52" cy="228.62" r="1.7" fill="#0B3F8E"/><circle cx="112.47" cy="287.56" r="1.7" fill="#0A7E3A"/><circle cx="154.02" cy="244.39" r="1.7" fill="#F6694C"/><circle cx="111.13" cy="223.39" r="1.7" fill="#0E86C6"/><circle cx="121.95" cy="288.86" r="1.7" fill="#E4141C"/><circle cx="105.25" cy="212.97" r="1.7" fill="#0E86C6"/><circle cx="119.03" cy="288.05" r="1.7" fill="#0A7E3A"/><circle cx="113.91" cy="287.03" r="1.7" fill="#E4141C"/><circle cx="159.30" cy="235.91" r="1.7" fill="#F6694C"/><circle cx="122.22" cy="281.44" r="1.7" fill="#0A7E3A"/><circle cx="114.23" cy="219.55" r="1.7" fill="#0E86C6"/><circle cx="89.80" cy="244.31" r="1.7" fill="#E4141C"/><circle cx="110.05" cy="212.36" r="1.7" fill="#0E86C6"/><circle cx="111.12" cy="220.57" r="1.7" fill="#0E86C6"/><circle cx="119.32" cy="284.11" r="1.7" fill="#0A7E3A"/><circle cx="108.72" cy="217.84" r="1.7" fill="#0E86C6"/><circle cx="107.29" cy="264.42" r="1.7" fill="#E4141C"/><circle cx="110.85" cy="216.22" r="1.7" fill="#0E86C6"/><circle cx="115.94" cy="285.81" r="1.7" fill="#0A7E3A"/><circle cx="42.07" cy="268.09" r="1.7" fill="#1AAFE0"/><circle cx="72.70" cy="205.12" r="1.7" fill="#0B3F8E"/><circle cx="69.95" cy="206.20" r="1.7" fill="#0B3F8E"/><circle cx="108.72" cy="234.12" r="1.7" fill="#0E86C6"/><circle cx="126.10" cy="239.22" r="1.7" fill="#F6694C"/><circle cx="45.85" cy="269.97" r="1.7" fill="#1AAFE0"/><circle cx="42.90" cy="270.64" r="1.7" fill="#1AAFE0"/><circle cx="43.42" cy="268.63" r="1.7" fill="#2DBA5A"/><circle cx="149.72" cy="239.55" r="1.7" fill="#F6694C"/><circle cx="155.82" cy="241.52" r="1.7" fill="#F6694C"/><circle cx="70.43" cy="209.54" r="1.7" fill="#0B3F8E"/><circle cx="68.25" cy="211.61" r="1.7" fill="#0B3F8E"/><circle cx="76.98" cy="221.16" r="1.7" fill="#0B3F8E"/><circle cx="64.16" cy="206.96" r="1.7" fill="#0B3F8E"/><circle cx="48.53" cy="269.43" r="1.7" fill="#2DBA5A"/><circle cx="160.83" cy="234.88" r="1.7" fill="#F6694C"/><circle cx="41.89" cy="260.22" r="1.7" fill="#1AAFE0"/><circle cx="135.97" cy="241.67" r="1.7" fill="#F6694C"/><circle cx="74.36" cy="204.55" r="1.7" fill="#0B3F8E"/><circle cx="154.50" cy="243.66" r="1.7" fill="#F6694C"/><circle cx="58.84" cy="208.67" r="1.7" fill="#0B3F8E"/><circle cx="141.17" cy="237.58" r="1.7" fill="#F6694C"/><circle cx="48.30" cy="266.22" r="1.7" fill="#1AAFE0"/><circle cx="121.49" cy="279.68" r="1.7" fill="#0A7E3A"/><circle cx="152.57" cy="240.18" r="1.7" fill="#F6694C"/><circle cx="153.73" cy="238.50" r="1.7" fill="#F6694C"/><circle cx="42.97" cy="260.01" r="1.7" fill="#2DBA5A"/><circle cx="86.90" cy="239.66" r="1.7" fill="#0B3F8E"/><circle cx="154.11" cy="239.19" r="1.7" fill="#F6694C"/><circle cx="73.28" cy="211.51" r="1.7" fill="#0B3F8E"/><circle cx="59.35" cy="215.27" r="1.7" fill="#0B3F8E"/><circle cx="160.42" cy="241.33" r="1.7" fill="#F6694C"/><circle cx="69.91" cy="207.89" r="1.7" fill="#0B3F8E"/><circle cx="50.74" cy="260.41" r="1.7" fill="#2DBA5A"/><circle cx="154.33" cy="242.23" r="1.7" fill="#F6694C"/><circle cx="111.18" cy="284.28" r="1.7" fill="#0A7E3A"/><circle cx="65.75" cy="210.58" r="1.7" fill="#0B3F8E"/><circle cx="115.11" cy="285.00" r="1.7" fill="#0A7E3A"/><circle cx="42.01" cy="263.92" r="1.7" fill="#1AAFE0"/><circle cx="157.50" cy="242.75" r="1.7" fill="#F6694C"/><circle cx="108.05" cy="215.14" r="1.7" fill="#0E86C6"/><circle cx="151.33" cy="240.73" r="1.7" fill="#F6694C"/><circle cx="59.03" cy="198.20" r="1.7" fill="#0B3F8E"/><circle cx="107.15" cy="262.59" r="1.7" fill="#0A7E3A"/><circle cx="101.97" cy="259.67" r="1.7" fill="#0A7E3A"/><circle cx="55.19" cy="206.96" r="1.7" fill="#0B3F8E"/><circle cx="108.13" cy="270.51" r="1.7" fill="#E4141C"/><circle cx="109.95" cy="213.51" r="1.7" fill="#0E86C6"/><circle cx="70.17" cy="204.10" r="1.7" fill="#0B3F8E"/><circle cx="43.19" cy="268.09" r="1.7" fill="#2DBA5A"/><circle cx="108.90" cy="219.67" r="1.7" fill="#0E86C6"/><circle cx="72.58" cy="207.23" r="1.7" fill="#0B3F8E"/><circle cx="41.12" cy="262.64" r="1.7" fill="#2DBA5A"/><circle cx="105.67" cy="216.36" r="1.7" fill="#0E86C6"/><circle cx="69.60" cy="212.18" r="1.7" fill="#0B3F8E"/><circle cx="41.30" cy="261.63" r="1.7" fill="#2DBA5A"/><circle cx="112.94" cy="208.30" r="1.7" fill="#0E86C6"/><circle cx="156.01" cy="238.83" r="1.7" fill="#F6694C"/><circle cx="45.75" cy="265.42" r="1.7" fill="#1AAFE0"/><circle cx="112.28" cy="211.51" r="1.7" fill="#0E86C6"/><circle cx="149.55" cy="238.22" r="1.7" fill="#F6694C"/><circle cx="153.54" cy="242.19" r="1.7" fill="#F6694C"/><circle cx="105.95" cy="268.83" r="1.7" fill="#0A7E3A"/><circle cx="74.55" cy="256.73" r="1.7" fill="#2DBA5A"/><circle cx="76.94" cy="197.71" r="1.7" fill="#0B3F8E"/><circle cx="75.82" cy="215.41" r="1.7" fill="#0B3F8E"/><circle cx="145.47" cy="235.17" r="1.7" fill="#F6694C"/><circle cx="120.21" cy="287.56" r="1.7" fill="#0A7E3A"/><circle cx="110.19" cy="211.47" r="1.7" fill="#0E86C6"/><circle cx="96.35" cy="240.27" r="1.7" fill="#0B3F8E"/><circle cx="109.50" cy="211.52" r="1.7" fill="#0E86C6"/><circle cx="117.83" cy="292.38" r="1.7" fill="#0A7E3A"/><circle cx="44.71" cy="270.26" r="1.7" fill="#2DBA5A"/><circle cx="111.79" cy="286.41" r="1.7" fill="#0A7E3A"/><circle cx="42.70" cy="264.84" r="1.7" fill="#1AAFE0"/><circle cx="111.11" cy="221.69" r="1.7" fill="#0E86C6"/><circle cx="65.84" cy="208.82" r="1.7" fill="#0B3F8E"/><circle cx="73.91" cy="210.79" r="1.7" fill="#0B3F8E"/><circle cx="115.53" cy="285.06" r="1.7" fill="#E4141C"/><circle cx="149.83" cy="242.85" r="1.7" fill="#F6694C"/><circle cx="49.64" cy="274.11" r="1.7" fill="#2DBA5A"/><circle cx="119.23" cy="285.44" r="1.7" fill="#E4141C"/><circle cx="63.45" cy="209.30" r="1.7" fill="#0B3F8E"/><circle cx="113.98" cy="211.45" r="1.7" fill="#0E86C6"/><circle cx="152.43" cy="240.15" r="1.7" fill="#F6694C"/><circle cx="71.30" cy="254.76" r="1.7" fill="#2DBA5A"/><circle cx="105.86" cy="267.24" r="1.7" fill="#E4141C"/><circle cx="117.84" cy="286.66" r="1.7" fill="#E4141C"/><circle cx="43.79" cy="257.43" r="1.7" fill="#1AAFE0"/><circle cx="80.41" cy="247.59" r="1.7" fill="#2DBA5A"/><circle cx="155.01" cy="240.57" r="1.7" fill="#F6694C"/><circle cx="118.85" cy="232.47" r="1.7" fill="#F6694C"/><circle cx="157.28" cy="242.48" r="1.7" fill="#F6694C"/><circle cx="114.60" cy="210.73" r="1.7" fill="#0E86C6"/><circle cx="108.66" cy="214.40" r="1.7" fill="#0E86C6"/><circle cx="157.30" cy="240.43" r="1.7" fill="#F6694C"/><circle cx="69.30" cy="209.91" r="1.7" fill="#0B3F8E"/><circle cx="113.37" cy="281.75" r="1.7" fill="#E4141C"/><circle cx="151.65" cy="240.92" r="1.7" fill="#F6694C"/><circle cx="108.65" cy="227.02" r="1.7" fill="#0E86C6"/><circle cx="42.72" cy="263.77" r="1.7" fill="#1AAFE0"/><circle cx="106.14" cy="258.04" r="1.7" fill="#0A7E3A"/><circle cx="120.80" cy="284.71" r="1.7" fill="#E4141C"/><circle cx="70.15" cy="208.15" r="1.7" fill="#0B3F8E"/><circle cx="109.34" cy="217.08" r="1.7" fill="#0E86C6"/><circle cx="46.45" cy="267.75" r="1.7" fill="#1AAFE0"/><circle cx="38.38" cy="264.40" r="1.7" fill="#1AAFE0"/><circle cx="42.64" cy="261.71" r="1.7" fill="#1AAFE0"/><circle cx="43.75" cy="262.32" r="1.7" fill="#1AAFE0"/><circle cx="73.40" cy="213.81" r="1.7" fill="#0B3F8E"/><circle cx="70.01" cy="206.05" r="1.7" fill="#0B3F8E"/><circle cx="146.38" cy="239.48" r="1.7" fill="#F6694C"/><circle cx="45.78" cy="265.46" r="1.7" fill="#2DBA5A"/><circle cx="44.27" cy="265.44" r="1.7" fill="#2DBA5A"/><circle cx="29.67" cy="280.94" r="1.7" fill="#2DBA5A"/><circle cx="114.31" cy="283.84" r="1.7" fill="#E4141C"/><circle cx="68.86" cy="253.65" r="1.7" fill="#2DBA5A"/><circle cx="67.40" cy="255.61" r="1.7" fill="#2DBA5A"/><circle cx="156.53" cy="229.88" r="1.7" fill="#F6694C"/><circle cx="41.76" cy="262.01" r="1.7" fill="#2DBA5A"/><circle cx="67.06" cy="208.60" r="1.7" fill="#0B3F8E"/><circle cx="116.05" cy="286.82" r="1.7" fill="#E4141C"/><circle cx="97.32" cy="242.79" r="1.7" fill="#E4141C"/><circle cx="110.10" cy="214.62" r="1.7" fill="#0E86C6"/><circle cx="68.27" cy="199.73" r="1.7" fill="#0B3F8E"/><circle cx="111.51" cy="213.35" r="1.7" fill="#0E86C6"/><circle cx="157.60" cy="246.96" r="1.7" fill="#F6694C"/><circle cx="71.52" cy="255.88" r="1.7" fill="#2DBA5A"/><circle cx="104.05" cy="240.77" r="1.7" fill="#E4141C"/><circle cx="154.86" cy="243.49" r="1.7" fill="#F6694C"/><circle cx="148.81" cy="237.36" r="1.7" fill="#F6694C"/><circle cx="125.10" cy="236.06" r="1.7" fill="#F6694C"/><circle cx="72.62" cy="206.42" r="1.7" fill="#0B3F8E"/><circle cx="65.72" cy="211.50" r="1.7" fill="#0B3F8E"/><circle cx="113.44" cy="234.31" r="1.7" fill="#F6694C"/><circle cx="157.65" cy="241.12" r="1.7" fill="#F6694C"/><circle cx="44.56" cy="258.70" r="1.7" fill="#2DBA5A"/><circle cx="107.71" cy="212.86" r="1.7" fill="#0E86C6"/><circle cx="74.07" cy="206.61" r="1.7" fill="#0B3F8E"/><circle cx="117.07" cy="286.32" r="1.7" fill="#E4141C"/><circle cx="69.24" cy="207.27" r="1.7" fill="#0B3F8E"/><circle cx="155.41" cy="238.38" r="1.7" fill="#F6694C"/><circle cx="119.17" cy="291.38" r="1.7" fill="#E4141C"/><circle cx="82.61" cy="229.31" r="1.7" fill="#0B3F8E"/><circle cx="121.14" cy="282.68" r="1.7" fill="#0A7E3A"/><circle cx="104.86" cy="237.43" r="1.7" fill="#0B3F8E"/><circle cx="108.87" cy="214.01" r="1.7" fill="#0E86C6"/><circle cx="120.26" cy="285.35" r="1.7" fill="#E4141C"/><circle cx="110.12" cy="235.02" r="1.7" fill="#0E86C6"/><circle cx="60.26" cy="212.94" r="1.7" fill="#0B3F8E"/><circle cx="158.36" cy="235.80" r="1.7" fill="#F6694C"/><circle cx="121.18" cy="289.10" r="1.7" fill="#E4141C"/><circle cx="77.17" cy="214.98" r="1.7" fill="#0B3F8E"/><circle cx="119.38" cy="288.12" r="1.7" fill="#0A7E3A"/><circle cx="68.25" cy="204.25" r="1.7" fill="#0B3F8E"/><circle cx="43.92" cy="265.43" r="1.7" fill="#1AAFE0"/><circle cx="136.65" cy="236.92" r="1.7" fill="#F6694C"/><circle cx="105.61" cy="255.26" r="1.7" fill="#0A7E3A"/><circle cx="45.75" cy="273.05" r="1.7" fill="#2DBA5A"/><circle cx="78.29" cy="220.27" r="1.7" fill="#0B3F8E"/><circle cx="140.84" cy="237.89" r="1.7" fill="#F6694C"/><circle cx="76.25" cy="249.56" r="1.7" fill="#2DBA5A"/><circle cx="65.43" cy="204.03" r="1.7" fill="#0B3F8E"/><circle cx="43.39" cy="267.00" r="1.7" fill="#1AAFE0"/><circle cx="155.31" cy="238.07" r="1.7" fill="#F6694C"/><circle cx="151.51" cy="240.30" r="1.7" fill="#F6694C"/><circle cx="69.46" cy="207.14" r="1.7" fill="#0B3F8E"/><circle cx="38.25" cy="261.85" r="1.7" fill="#2DBA5A"/><circle cx="85.41" cy="201.61" r="1.7" fill="#0B3F8E"/><circle cx="112.69" cy="286.63" r="1.7" fill="#E4141C"/><circle cx="113.57" cy="272.34" r="1.7" fill="#0A7E3A"/><circle cx="106.88" cy="254.86" r="1.7" fill="#E4141C"/><circle cx="150.65" cy="240.27" r="1.7" fill="#F6694C"/><circle cx="157.34" cy="245.52" r="1.7" fill="#F6694C"/><circle cx="70.60" cy="256.29" r="1.7" fill="#2DBA5A"/><circle cx="106.98" cy="214.37" r="1.7" fill="#0E86C6"/><circle cx="67.76" cy="209.73" r="1.7" fill="#0B3F8E"/><circle cx="92.24" cy="242.19" r="1.7" fill="#0B3F8E"/><circle cx="45.33" cy="266.34" r="1.7" fill="#2DBA5A"/><circle cx="156.48" cy="238.78" r="1.7" fill="#F6694C"/><circle cx="116.89" cy="280.15" r="1.7" fill="#E4141C"/><circle cx="117.10" cy="288.39" r="1.7" fill="#E4141C"/><circle cx="107.25" cy="216.11" r="1.7" fill="#0E86C6"/><circle cx="158.32" cy="238.31" r="1.7" fill="#F6694C"/><circle cx="151.98" cy="240.60" r="1.7" fill="#F6694C"/><circle cx="68.39" cy="205.97" r="1.7" fill="#0B3F8E"/><circle cx="81.44" cy="200.37" r="1.7" fill="#0B3F8E"/><circle cx="41.90" cy="264.67" r="1.7" fill="#2DBA5A"/><circle cx="145.05" cy="239.08" r="1.7" fill="#F6694C"/><circle cx="78.84" cy="219.43" r="1.7" fill="#0B3F8E"/><circle cx="149.65" cy="240.79" r="1.7" fill="#F6694C"/><circle cx="149.06" cy="242.73" r="1.7" fill="#F6694C"/><circle cx="119.99" cy="237.02" r="1.7" fill="#F6694C"/><circle cx="156.11" cy="239.25" r="1.7" fill="#F6694C"/><circle cx="110.52" cy="217.72" r="1.7" fill="#0E86C6"/><circle cx="117.83" cy="286.82" r="1.7" fill="#E4141C"/><circle cx="153.38" cy="244.77" r="1.7" fill="#F6694C"/><circle cx="110.99" cy="286.58" r="1.7" fill="#E4141C"/><circle cx="47.40" cy="268.65" r="1.7" fill="#1AAFE0"/><circle cx="62.77" cy="206.97" r="1.7" fill="#0B3F8E"/><circle cx="70.02" cy="209.63" r="1.7" fill="#0B3F8E"/><circle cx="39.04" cy="270.05" r="1.7" fill="#2DBA5A"/><circle cx="108.39" cy="216.66" r="1.7" fill="#0E86C6"/><circle cx="41.50" cy="266.06" r="1.7" fill="#1AAFE0"/><circle cx="117.45" cy="286.54" r="1.7" fill="#E4141C"/><circle cx="87.55" cy="237.93" r="1.7" fill="#0B3F8E"/><circle cx="109.45" cy="266.09" r="1.7" fill="#0A7E3A"/><circle cx="96.03" cy="238.14" r="1.7" fill="#0B3F8E"/><circle cx="60.38" cy="205.13" r="1.7" fill="#0B3F8E"/><circle cx="100.74" cy="247.02" r="1.7" fill="#0A7E3A"/><circle cx="62.35" cy="258.84" r="1.7" fill="#2DBA5A"/><circle cx="156.99" cy="240.67" r="1.7" fill="#F6694C"/><circle cx="68.01" cy="252.56" r="1.7" fill="#2DBA5A"/><circle cx="108.24" cy="211.83" r="1.7" fill="#0E86C6"/><circle cx="63.84" cy="204.85" r="1.7" fill="#0B3F8E"/><circle cx="102.93" cy="252.42" r="1.7" fill="#E4141C"/><circle cx="74.18" cy="209.04" r="1.7" fill="#0B3F8E"/><circle cx="43.90" cy="264.85" r="1.7" fill="#2DBA5A"/><circle cx="109.56" cy="215.49" r="1.7" fill="#0E86C6"/><circle cx="151.14" cy="241.71" r="1.7" fill="#F6694C"/><circle cx="115.74" cy="210.41" r="1.7" fill="#0E86C6"/><circle cx="111.39" cy="271.59" r="1.7" fill="#0A7E3A"/><circle cx="64.39" cy="207.53" r="1.7" fill="#0B3F8E"/><circle cx="60.51" cy="206.10" r="1.7" fill="#0B3F8E"/><circle cx="154.72" cy="235.39" r="1.7" fill="#F6694C"/><circle cx="108.21" cy="272.97" r="1.7" fill="#E4141C"/><circle cx="38.21" cy="260.15" r="1.7" fill="#2DBA5A"/><circle cx="44.57" cy="263.46" r="1.7" fill="#1AAFE0"/><circle cx="122.27" cy="288.06" r="1.7" fill="#0A7E3A"/><circle cx="64.80" cy="208.95" r="1.7" fill="#0B3F8E"/><circle cx="111.69" cy="214.87" r="1.7" fill="#0E86C6"/><circle cx="77.12" cy="217.60" r="1.7" fill="#0B3F8E"/><circle cx="120.48" cy="286.37" r="1.7" fill="#E4141C"/><circle cx="109.02" cy="210.62" r="1.7" fill="#0E86C6"/><circle cx="67.05" cy="200.70" r="1.7" fill="#0B3F8E"/><circle cx="119.50" cy="288.16" r="1.7" fill="#0A7E3A"/><circle cx="104.76" cy="255.45" r="1.7" fill="#E4141C"/><circle cx="123.26" cy="286.70" r="1.7" fill="#E4141C"/><circle cx="124.54" cy="293.71" r="1.7" fill="#0A7E3A"/><circle cx="112.10" cy="215.79" r="1.7" fill="#0E86C6"/><circle cx="46.48" cy="264.34" r="1.7" fill="#1AAFE0"/><circle cx="50.21" cy="268.57" r="1.7" fill="#1AAFE0"/><circle cx="120.42" cy="289.20" r="1.7" fill="#E4141C"/><circle cx="111.12" cy="286.55" r="1.7" fill="#E4141C"/><circle cx="111.47" cy="212.49" r="1.7" fill="#0E86C6"/><circle cx="111.57" cy="212.98" r="1.7" fill="#0E86C6"/><circle cx="84.38" cy="233.06" r="1.7" fill="#0B3F8E"/><circle cx="155.97" cy="239.23" r="1.7" fill="#F6694C"/><circle cx="106.74" cy="215.89" r="1.7" fill="#0E86C6"/><circle cx="125.86" cy="289.30" r="1.7" fill="#E4141C"/><circle cx="40.45" cy="258.13" r="1.7" fill="#2DBA5A"/><circle cx="155.66" cy="239.43" r="1.7" fill="#F6694C"/><circle cx="111.13" cy="212.82" r="1.7" fill="#0E86C6"/><circle cx="76.81" cy="251.42" r="1.7" fill="#2DBA5A"/><circle cx="116.04" cy="287.05" r="1.7" fill="#E4141C"/><circle cx="150.78" cy="242.53" r="1.7" fill="#F6694C"/><circle cx="110.70" cy="269.94" r="1.7" fill="#E4141C"/><circle cx="73.58" cy="252.50" r="1.7" fill="#2DBA5A"/><circle cx="154.28" cy="240.67" r="1.7" fill="#F6694C"/><circle cx="154.40" cy="242.41" r="1.7" fill="#F6694C"/><circle cx="68.13" cy="210.67" r="1.7" fill="#0B3F8E"/><circle cx="113.73" cy="210.89" r="1.7" fill="#0E86C6"/><circle cx="41.54" cy="263.26" r="1.7" fill="#1AAFE0"/><circle cx="128.20" cy="237.95" r="1.7" fill="#F6694C"/><circle cx="41.24" cy="273.63" r="1.7" fill="#1AAFE0"/><circle cx="154.26" cy="242.05" r="1.7" fill="#F6694C"/><circle cx="50.42" cy="207.41" r="1.7" fill="#0B3F8E"/><circle cx="156.16" cy="233.09" r="1.7" fill="#F6694C"/><circle cx="119.32" cy="284.74" r="1.7" fill="#E4141C"/><circle cx="120.64" cy="236.25" r="1.7" fill="#F6694C"/><circle cx="118.26" cy="291.36" r="1.7" fill="#0A7E3A"/><circle cx="70.51" cy="206.95" r="1.7" fill="#0B3F8E"/><circle cx="50.58" cy="260.37" r="1.7" fill="#2DBA5A"/><circle cx="38.86" cy="264.98" r="1.7" fill="#2DBA5A"/><circle cx="46.63" cy="269.36" r="1.7" fill="#1AAFE0"/><circle cx="43.05" cy="262.07" r="1.7" fill="#2DBA5A"/><circle cx="49.10" cy="271.57" r="1.7" fill="#1AAFE0"/><circle cx="135.16" cy="237.94" r="1.7" fill="#F6694C"/><circle cx="156.23" cy="246.56" r="1.7" fill="#F6694C"/><circle cx="66.94" cy="206.87" r="1.7" fill="#0B3F8E"/><circle cx="153.85" cy="241.32" r="1.7" fill="#F6694C"/><circle cx="109.76" cy="217.98" r="1.7" fill="#0E86C6"/><circle cx="40.80" cy="262.07" r="1.7" fill="#1AAFE0"/><circle cx="153.95" cy="235.49" r="1.7" fill="#F6694C"/><circle cx="121.13" cy="285.76" r="1.7" fill="#E4141C"/><circle cx="153.92" cy="240.64" r="1.7" fill="#F6694C"/><circle cx="141.33" cy="237.89" r="1.7" fill="#F6694C"/><circle cx="154.57" cy="240.17" r="1.7" fill="#F6694C"/><circle cx="110.78" cy="215.45" r="1.7" fill="#0E86C6"/><circle cx="113.69" cy="212.66" r="1.7" fill="#0E86C6"/><circle cx="88.34" cy="234.07" r="1.7" fill="#0B3F8E"/><circle cx="157.10" cy="242.89" r="1.7" fill="#F6694C"/><circle cx="69.08" cy="206.51" r="1.7" fill="#0B3F8E"/><circle cx="40.56" cy="264.40" r="1.7" fill="#2DBA5A"/><circle cx="156.10" cy="244.27" r="1.7" fill="#F6694C"/><circle cx="71.93" cy="206.11" r="1.7" fill="#0B3F8E"/><circle cx="119.48" cy="292.01" r="1.7" fill="#0A7E3A"/><circle cx="156.67" cy="239.58" r="1.7" fill="#F6694C"/><circle cx="151.80" cy="241.96" r="1.7" fill="#F6694C"/><circle cx="117.96" cy="286.80" r="1.7" fill="#E4141C"/><circle cx="107.33" cy="221.15" r="1.7" fill="#0E86C6"/><circle cx="108.36" cy="213.18" r="1.7" fill="#0E86C6"/><circle cx="42.30" cy="263.75" r="1.7" fill="#1AAFE0"/><circle cx="72.31" cy="207.62" r="1.7" fill="#0B3F8E"/><circle cx="74.58" cy="251.31" r="1.7" fill="#2DBA5A"/><circle cx="123.51" cy="236.30" r="1.7" fill="#F6694C"/><circle cx="43.10" cy="264.24" r="1.7" fill="#2DBA5A"/><circle cx="109.82" cy="276.29" r="1.7" fill="#E4141C"/><circle cx="121.28" cy="285.19" r="1.7" fill="#0A7E3A"/><circle cx="74.75" cy="205.84" r="1.7" fill="#0B3F8E"/><circle cx="63.02" cy="256.06" r="1.7" fill="#2DBA5A"/><circle cx="40.47" cy="264.50" r="1.7" fill="#1AAFE0"/><circle cx="61.64" cy="208.11" r="1.7" fill="#0B3F8E"/><circle cx="61.50" cy="203.64" r="1.7" fill="#0B3F8E"/><circle cx="155.12" cy="236.36" r="1.7" fill="#F6694C"/><circle cx="111.28" cy="210.85" r="1.7" fill="#0E86C6"/><circle cx="42.11" cy="270.15" r="1.7" fill="#1AAFE0"/><circle cx="103.79" cy="239.76" r="1.7" fill="#0B3F8E"/><circle cx="78.95" cy="250.86" r="1.7" fill="#1AAFE0"/><circle cx="111.35" cy="211.16" r="1.7" fill="#0E86C6"/><circle cx="62.77" cy="202.52" r="1.7" fill="#0B3F8E"/><circle cx="126.22" cy="236.14" r="1.7" fill="#F6694C"/><circle cx="97.67" cy="248.99" r="1.7" fill="#E4141C"/><circle cx="161.02" cy="236.40" r="1.7" fill="#F6694C"/><circle cx="121.27" cy="284.80" r="1.7" fill="#0A7E3A"/><circle cx="108.90" cy="287.23" r="1.7" fill="#E4141C"/><circle cx="141.63" cy="241.02" r="1.7" fill="#F6694C"/><circle cx="155.79" cy="242.88" r="1.7" fill="#F6694C"/><circle cx="85.52" cy="200.33" r="1.7" fill="#0B3F8E"/><circle cx="36.17" cy="284.81" r="1.7" fill="#2DBA5A"/><circle cx="65.44" cy="256.84" r="1.7" fill="#2DBA5A"/><circle cx="42.28" cy="265.21" r="1.7" fill="#1AAFE0"/><circle cx="118.01" cy="287.59" r="1.7" fill="#0A7E3A"/><circle cx="61.94" cy="202.86" r="1.7" fill="#0B3F8E"/><circle cx="156.44" cy="238.75" r="1.7" fill="#F6694C"/><circle cx="110.19" cy="224.03" r="1.7" fill="#0E86C6"/><circle cx="63.62" cy="208.34" r="1.7" fill="#0B3F8E"/><circle cx="70.67" cy="204.86" r="1.7" fill="#0B3F8E"/><circle cx="49.40" cy="264.36" r="1.7" fill="#1AAFE0"/><circle cx="58.99" cy="258.55" r="1.7" fill="#2DBA5A"/><circle cx="118.82" cy="288.32" r="1.7" fill="#E4141C"/><circle cx="88.97" cy="241.46" r="1.7" fill="#0B3F8E"/><circle cx="157.62" cy="234.18" r="1.7" fill="#F6694C"/><circle cx="66.59" cy="206.16" r="1.7" fill="#0B3F8E"/><circle cx="114.70" cy="285.00" r="1.7" fill="#0A7E3A"/><circle cx="54.74" cy="202.11" r="1.7" fill="#0B3F8E"/><circle cx="122.43" cy="287.62" r="1.7" fill="#E4141C"/><circle cx="61.03" cy="256.73" r="1.7" fill="#1AAFE0"/><circle cx="110.18" cy="270.48" r="1.7" fill="#E4141C"/><circle cx="71.43" cy="213.15" r="1.7" fill="#0B3F8E"/><circle cx="120.14" cy="285.03" r="1.7" fill="#E4141C"/><circle cx="118.80" cy="287.50" r="1.7" fill="#0A7E3A"/><circle cx="42.73" cy="264.65" r="1.7" fill="#2DBA5A"/><circle cx="87.35" cy="235.87" r="1.7" fill="#0B3F8E"/><circle cx="124.74" cy="238.75" r="1.7" fill="#F6694C"/><circle cx="154.24" cy="248.86" r="1.7" fill="#F6694C"/><circle cx="106.36" cy="261.29" r="1.7" fill="#E4141C"/><circle cx="45.61" cy="265.42" r="1.7" fill="#1AAFE0"/><circle cx="152.64" cy="243.44" r="1.7" fill="#F6694C"/><circle cx="110.17" cy="213.45" r="1.7" fill="#0E86C6"/><circle cx="69.15" cy="205.75" r="1.7" fill="#0B3F8E"/><circle cx="75.81" cy="249.53" r="1.7" fill="#2DBA5A"/><circle cx="156.13" cy="233.29" r="1.7" fill="#F6694C"/><circle cx="151.78" cy="242.87" r="1.7" fill="#F6694C"/><circle cx="123.00" cy="289.07" r="1.7" fill="#0A7E3A"/><circle cx="159.15" cy="239.63" r="1.7" fill="#F6694C"/><circle cx="75.55" cy="249.47" r="1.7" fill="#2DBA5A"/><circle cx="64.99" cy="209.92" r="1.7" fill="#0B3F8E"/><circle cx="44.43" cy="268.28" r="1.7" fill="#2DBA5A"/><circle cx="46.06" cy="265.47" r="1.7" fill="#2DBA5A"/><circle cx="110.79" cy="211.40" r="1.7" fill="#0E86C6"/><circle cx="119.60" cy="288.25" r="1.7" fill="#E4141C"/><circle cx="153.23" cy="240.47" r="1.7" fill="#F6694C"/><circle cx="157.46" cy="240.63" r="1.7" fill="#F6694C"/><circle cx="42.94" cy="263.79" r="1.7" fill="#1AAFE0"/><circle cx="123.38" cy="287.49" r="1.7" fill="#0A7E3A"/><circle cx="103.61" cy="242.46" r="1.7" fill="#0B3F8E"/><circle cx="107.68" cy="218.25" r="1.7" fill="#0E86C6"/><circle cx="120.30" cy="292.74" r="1.7" fill="#0A7E3A"/><circle cx="107.64" cy="238.58" r="1.7" fill="#0E86C6"/><circle cx="47.11" cy="267.83" r="1.7" fill="#1AAFE0"/><circle cx="42.49" cy="261.43" r="1.7" fill="#1AAFE0"/><circle cx="67.25" cy="210.16" r="1.7" fill="#0B3F8E"/><circle cx="114.11" cy="214.38" r="1.7" fill="#0E86C6"/><circle cx="116.23" cy="291.88" r="1.7" fill="#0A7E3A"/><circle cx="108.84" cy="220.13" r="1.7" fill="#0E86C6"/><circle cx="111.09" cy="218.98" r="1.7" fill="#0E86C6"/><circle cx="69.07" cy="207.84" r="1.7" fill="#0B3F8E"/><circle cx="105.52" cy="216.76" r="1.7" fill="#0E86C6"/><circle cx="119.20" cy="288.60" r="1.7" fill="#E4141C"/><circle cx="42.29" cy="264.27" r="1.7" fill="#1AAFE0"/><circle cx="44.37" cy="264.88" r="1.7" fill="#1AAFE0"/><circle cx="128.68" cy="236.60" r="1.7" fill="#F6694C"/><circle cx="155.93" cy="240.79" r="1.7" fill="#F6694C"/><circle cx="84.95" cy="234.90" r="1.7" fill="#0B3F8E"/><circle cx="111.80" cy="211.65" r="1.7" fill="#0E86C6"/><circle cx="88.40" cy="240.07" r="1.7" fill="#0B3F8E"/><circle cx="122.45" cy="288.33" r="1.7" fill="#0A7E3A"/><circle cx="147.12" cy="237.99" r="1.7" fill="#F6694C"/><circle cx="61.58" cy="199.66" r="1.7" fill="#0B3F8E"/><circle cx="74.08" cy="205.96" r="1.7" fill="#0B3F8E"/><circle cx="61.29" cy="206.98" r="1.7" fill="#0B3F8E"/><circle cx="84.23" cy="231.48" r="1.7" fill="#0B3F8E"/><circle cx="152.75" cy="239.52" r="1.7" fill="#F6694C"/><circle cx="153.90" cy="243.57" r="1.7" fill="#F6694C"/><circle cx="155.79" cy="241.00" r="1.7" fill="#F6694C"/><circle cx="86.30" cy="238.68" r="1.7" fill="#0B3F8E"/><circle cx="49.06" cy="262.95" r="1.7" fill="#2DBA5A"/><circle cx="93.81" cy="239.02" r="1.7" fill="#E4141C"/><circle cx="153.87" cy="239.28" r="1.7" fill="#F6694C"/><circle cx="46.28" cy="273.04" r="1.7" fill="#1AAFE0"/><circle cx="76.58" cy="206.72" r="1.7" fill="#0B3F8E"/><circle cx="66.91" cy="204.63" r="1.7" fill="#0B3F8E"/><circle cx="67.66" cy="204.92" r="1.7" fill="#0B3F8E"/><path d="M89.99,241.89 L73.75,214.00" fill="none" stroke="#111" stroke-width="1.0"/><path d="M107.62,238.25 L108.78,227.10" fill="none" stroke="#111" stroke-width="1.0"/><path d="M107.62,238.25 L113.80,238.38 L119.54,238.55 L124.83,238.76 L129.67,239.03 L134.07,239.35 L138.03,239.71 L141.53,240.12 L144.60,240.58 L147.21,241.09 L149.38,241.65" fill="none" stroke="#111" stroke-width="1.0"/><path d="M89.99,241.89 L86.65,244.07 L83.28,246.17 L79.87,248.18 L76.43,250.11 L72.96,251.95 L69.46,253.71 L65.93,255.39 L62.36,256.98 L58.76,258.49 L55.13,259.91 L51.46,261.25 L47.77,262.50" fill="none" stroke="#111" stroke-width="1.0"/><path d="M99.74,243.59 L106.70,265.90 L115.05,283.36" fill="none" stroke="#111" stroke-width="1.0"/><path d="M89.99,241.89 L99.74,243.59 L107.62,238.25" fill="none" stroke="#111" stroke-width="1.0"/><circle cx="89.99" cy="241.89" r="4.4" fill="#000"/><text x="89.99" y="243.99" font-size="6" font-family="Liberation Sans, sans-serif" text-anchor="middle" fill="#fff" font-weight="bold" >1</text><circle cx="99.74" cy="243.59" r="4.4" fill="#000"/><text x="99.74" y="245.69" font-size="6" font-family="Liberation Sans, sans-serif" text-anchor="middle" fill="#fff" font-weight="bold" >2</text><circle cx="107.62" cy="238.25" r="4.4" fill="#000"/><text x="107.62" y="240.35" font-size="6" font-family="Liberation Sans, sans-serif" text-anchor="middle" fill="#fff" font-weight="bold" >3</text><text x="352.80" y="9.80" font-size="14" font-family="Liberation Sans, sans-serif" text-anchor="start" fill="#000" >E</text><circle cx="435.5" cy="4.6" r="1.5" fill="#F8766D"/><text x="443.50" y="6.60" font-size="5.4" font-family="Liberation Sans, sans-serif" text-anchor="start" fill="#000" >1</text><circle cx="455.5" cy="4.6" r="1.5" fill="#00BFC4"/><text x="463.50" y="6.60" font-size="5.4" font-family="Liberation Sans, sans-serif" text-anchor="start" fill="#000" >5</text><line x1="372.5" y1="11" x2="372.5" y2="132.5" stroke="#8a8a8a" stroke-width="0.9"/><line x1="372.5" y1="132.5" x2="517.5" y2="132.5" stroke="#8a8a8a" stroke-width="0.9"/><line x1="370.7" y1="18.00" x2="372.5" y2="18.00" stroke="#8a8a8a" stroke-width="0.7"/><text x="369.90" y="19.90" font-size="5.3" font-family="Liberation Sans, sans-serif" text-anchor="end" fill="#4d4d4d" >10</text><line x1="370.7" y1="45.50" x2="372.5" y2="45.50" stroke="#8a8a8a" stroke-width="0.7"/><text x="369.90" y="47.40" font-size="5.3" font-family="Liberation Sans, sans-serif" text-anchor="end" fill="#4d4d4d" >5</text><line x1="370.7" y1="73.00" x2="372.5" y2="73.00" stroke="#8a8a8a" stroke-width="0.7"/><text x="369.90" y="74.90" font-size="5.3" font-family="Liberation Sans, sans-serif" text-anchor="end" fill="#4d4d4d" >0</text><line x1="370.7" y1="100.50" x2="372.5" y2="100.50" stroke="#8a8a8a" stroke-width="0.7"/><text x="369.90" y="102.40" font-size="5.3" font-family="Liberation Sans, sans-serif" text-anchor="end" fill="#4d4d4d" >−5</text><line x1="370.7" y1="128.00" x2="372.5" y2="128.00" stroke="#8a8a8a" stroke-width="0.7"/><text x="369.90" y="129.90" font-size="5.3" font-family="Liberation Sans, sans-serif" text-anchor="end" fill="#4d4d4d" >−10</text><line x1="380.75" y1="132.5" x2="380.75" y2="134.3" stroke="#8a8a8a" stroke-width="0.7"/><text x="380.75" y="139.50" font-size="5.3" font-family="Liberation Sans, sans-serif" text-anchor="middle" fill="#4d4d4d" >−15</text><line x1="403.90" y1="132.5" x2="403.90" y2="134.3" stroke="#8a8a8a" stroke-width="0.7"/><text x="403.90" y="139.50" font-size="5.3" font-family="Liberation Sans, sans-serif" text-anchor="middle" fill="#4d4d4d" >−10</text><line x1="427.05" y1="132.5" x2="427.05" y2="134.3" stroke="#8a8a8a" stroke-width="0.7"/><text x="427.05" y="139.50" font-size="5.3" font-family="Liberation Sans, sans-serif" text-anchor="middle" fill="#4d4d4d" >−5</text><line x1="450.20" y1="132.5" x2="450.20" y2="134.3" stroke="#8a8a8a" stroke-width="0.7"/><text x="450.20" y="139.50" font-size="5.3" font-family="Liberation Sans, sans-serif" text-anchor="middle" fill="#4d4d4d" >0</text><line x1="473.35" y1="132.5" x2="473.35" y2="134.3" stroke="#8a8a8a" stroke-width="0.7"/><text x="473.35" y="139.50" font-size="5.3" font-family="Liberation Sans, sans-serif" text-anchor="middle" fill="#4d4d4d" >5</text><line x1="496.50" y1="132.5" x2="496.50" y2="134.3" stroke="#8a8a8a" stroke-width="0.7"/><text x="496.50" y="139.50" font-size="5.3" font-family="Liberation Sans, sans-serif" text-anchor="middle" fill="#4d4d4d" >10</text><text x="445.00" y="146.50" font-size="6.6" font-family="Liberation Sans, sans-serif" text-anchor="middle" fill="#000" >Component 1</text><text x="358" y="71.75" font-size="6.6" font-family="Liberation Sans, sans-serif" text-anchor="middle" transform="rotate(-90 358 71.75)">Component 2</text><circle cx="506.24" cy="65.72" r="1.7" fill="#00BFC4"/><circle cx="472.17" cy="117.66" r="1.7" fill="#7F7F7F"/><circle cx="411.56" cy="86.44" r="1.7" fill="#F8766D"/><circle cx="468.15" cy="124.17" r="1.7" fill="#7F7F7F"/><circle cx="470.15" cy="119.15" r="1.7" fill="#7F7F7F"/><circle cx="394.65" cy="97.84" r="1.7" fill="#F8766D"/><circle cx="453.97" cy="77.87" r="1.7" fill="#7F7F7F"/><circle cx="436.40" cy="19.04" r="1.7" fill="#7F7F7F"/><circle cx="510.33" cy="73.76" r="1.7" fill="#00BFC4"/><circle cx="480.61" cy="59.73" r="1.7" fill="#00BFC4"/><circle cx="456.90" cy="38.43" r="1.7" fill="#7F7F7F"/><circle cx="436.40" cy="59.03" r="1.7" fill="#7F7F7F"/><circle cx="462.02" cy="31.47" r="1.7" fill="#7F7F7F"/><circle cx="394.48" cy="95.64" r="1.7" fill="#F8766D"/><circle cx="472.54" cy="118.04" r="1.7" fill="#7F7F7F"/><circle cx="423.12" cy="77.70" r="1.7" fill="#F8766D"/><circle cx="412.86" cy="25.67" r="1.7" fill="#7F7F7F"/><circle cx="391.50" cy="91.13" r="1.7" fill="#F8766D"/><circle cx="409.11" cy="31.16" r="1.7" fill="#7F7F7F"/><circle cx="463.95" cy="114.21" r="1.7" fill="#7F7F7F"/><circle cx="465.87" cy="120.89" r="1.7" fill="#7F7F7F"/><circle cx="393.11" cy="95.33" r="1.7" fill="#F8766D"/><circle cx="505.82" cy="55.46" r="1.7" fill="#00BFC4"/><circle cx="419.54" cy="28.19" r="1.7" fill="#7F7F7F"/><circle cx="385.38" cy="112.05" r="1.7" fill="#F8766D"/><circle cx="460.23" cy="112.85" r="1.7" fill="#7F7F7F"/><circle cx="454.77" cy="81.70" r="1.7" fill="#7F7F7F"/><circle cx="466.29" cy="118.75" r="1.7" fill="#7F7F7F"/><circle cx="416.80" cy="30.07" r="1.7" fill="#7F7F7F"/><circle cx="504.00" cy="66.55" r="1.7" fill="#00BFC4"/><circle cx="503.93" cy="72.69" r="1.7" fill="#00BFC4"/><circle cx="421.15" cy="27.07" r="1.7" fill="#7F7F7F"/><circle cx="398.67" cy="97.30" r="1.7" fill="#F8766D"/><circle cx="511.14" cy="57.00" r="1.7" fill="#00BFC4"/><circle cx="454.18" cy="82.89" r="1.7" fill="#7F7F7F"/><circle cx="505.62" cy="70.07" r="1.7" fill="#00BFC4"/><circle cx="405.75" cy="89.81" r="1.7" fill="#F8766D"/><circle cx="453.70" cy="77.59" r="1.7" fill="#7F7F7F"/><circle cx="461.48" cy="45.42" r="1.7" fill="#7F7F7F"/><circle cx="393.58" cy="93.78" r="1.7" fill="#F8766D"/><circle cx="418.87" cy="27.52" r="1.7" fill="#7F7F7F"/><circle cx="435.26" cy="58.22" r="1.7" fill="#7F7F7F"/><circle cx="507.62" cy="57.85" r="1.7" fill="#00BFC4"/><circle cx="466.69" cy="118.50" r="1.7" fill="#7F7F7F"/><circle cx="450.12" cy="76.17" r="1.7" fill="#7F7F7F"/><circle cx="415.89" cy="26.77" r="1.7" fill="#7F7F7F"/><circle cx="416.31" cy="27.68" r="1.7" fill="#7F7F7F"/><circle cx="503.50" cy="64.38" r="1.7" fill="#00BFC4"/><circle cx="392.51" cy="91.08" r="1.7" fill="#F8766D"/><circle cx="438.53" cy="68.77" r="1.7" fill="#7F7F7F"/><circle cx="414.88" cy="23.14" r="1.7" fill="#7F7F7F"/><circle cx="471.17" cy="126.08" r="1.7" fill="#7F7F7F"/><circle cx="459.83" cy="90.00" r="1.7" fill="#7F7F7F"/><circle cx="506.16" cy="65.58" r="1.7" fill="#00BFC4"/><circle cx="460.01" cy="34.28" r="1.7" fill="#7F7F7F"/><circle cx="458.27" cy="38.91" r="1.7" fill="#7F7F7F"/><circle cx="390.72" cy="91.42" r="1.7" fill="#F8766D"/><circle cx="390.60" cy="92.23" r="1.7" fill="#F8766D"/><circle cx="457.50" cy="55.98" r="1.7" fill="#7F7F7F"/><circle cx="418.00" cy="24.55" r="1.7" fill="#7F7F7F"/><circle cx="506.36" cy="66.34" r="1.7" fill="#00BFC4"/><circle cx="390.94" cy="91.96" r="1.7" fill="#F8766D"/><circle cx="389.39" cy="88.95" r="1.7" fill="#F8766D"/><circle cx="403.56" cy="93.92" r="1.7" fill="#F8766D"/><circle cx="503.86" cy="67.12" r="1.7" fill="#00BFC4"/><circle cx="393.71" cy="96.49" r="1.7" fill="#F8766D"/><circle cx="510.77" cy="75.01" r="1.7" fill="#00BFC4"/><circle cx="397.75" cy="93.55" r="1.7" fill="#F8766D"/><circle cx="391.05" cy="95.88" r="1.7" fill="#F8766D"/><circle cx="411.35" cy="26.18" r="1.7" fill="#7F7F7F"/><circle cx="389.45" cy="99.33" r="1.7" fill="#F8766D"/><circle cx="414.33" cy="26.85" r="1.7" fill="#7F7F7F"/><circle cx="456.10" cy="32.46" r="1.7" fill="#7F7F7F"/><circle cx="460.26" cy="39.10" r="1.7" fill="#7F7F7F"/><circle cx="395.07" cy="92.31" r="1.7" fill="#F8766D"/><circle cx="410.89" cy="24.63" r="1.7" fill="#7F7F7F"/><circle cx="416.28" cy="29.36" r="1.7" fill="#7F7F7F"/><circle cx="439.21" cy="66.53" r="1.7" fill="#7F7F7F"/><circle cx="503.56" cy="70.05" r="1.7" fill="#00BFC4"/><circle cx="422.35" cy="28.15" r="1.7" fill="#7F7F7F"/><circle cx="470.49" cy="120.12" r="1.7" fill="#7F7F7F"/><circle cx="471.18" cy="119.99" r="1.7" fill="#7F7F7F"/><circle cx="399.51" cy="90.68" r="1.7" fill="#F8766D"/><circle cx="420.31" cy="29.00" r="1.7" fill="#7F7F7F"/><circle cx="409.07" cy="87.69" r="1.7" fill="#F8766D"/><circle cx="392.31" cy="94.12" r="1.7" fill="#F8766D"/><circle cx="482.60" cy="61.97" r="1.7" fill="#00BFC4"/><circle cx="412.12" cy="27.04" r="1.7" fill="#7F7F7F"/><circle cx="505.91" cy="61.00" r="1.7" fill="#00BFC4"/><circle cx="460.76" cy="35.49" r="1.7" fill="#7F7F7F"/><circle cx="511.47" cy="59.75" r="1.7" fill="#00BFC4"/><circle cx="492.50" cy="63.26" r="1.7" fill="#00BFC4"/><circle cx="462.48" cy="118.74" r="1.7" fill="#7F7F7F"/><circle cx="469.45" cy="119.94" r="1.7" fill="#7F7F7F"/><circle cx="461.13" cy="27.49" r="1.7" fill="#7F7F7F"/><circle cx="413.88" cy="30.60" r="1.7" fill="#7F7F7F"/><circle cx="401.51" cy="94.26" r="1.7" fill="#F8766D"/><circle cx="458.27" cy="36.47" r="1.7" fill="#7F7F7F"/><circle cx="462.93" cy="33.79" r="1.7" fill="#7F7F7F"/><circle cx="462.01" cy="35.79" r="1.7" fill="#7F7F7F"/><circle cx="438.98" cy="68.66" r="1.7" fill="#7F7F7F"/><circle cx="502.77" cy="69.64" r="1.7" fill="#00BFC4"/><circle cx="418.21" cy="37.13" r="1.7" fill="#7F7F7F"/><circle cx="433.56" cy="52.72" r="1.7" fill="#7F7F7F"/><circle cx="462.44" cy="119.56" r="1.7" fill="#7F7F7F"/><circle cx="503.90" cy="70.60" r="1.7" fill="#00BFC4"/><circle cx="461.11" cy="46.79" r="1.7" fill="#7F7F7F"/><circle cx="471.91" cy="121.03" r="1.7" fill="#7F7F7F"/><circle cx="455.24" cy="34.98" r="1.7" fill="#7F7F7F"/><circle cx="468.99" cy="120.12" r="1.7" fill="#7F7F7F"/><circle cx="463.88" cy="118.96" r="1.7" fill="#7F7F7F"/><circle cx="509.17" cy="60.99" r="1.7" fill="#00BFC4"/><circle cx="472.17" cy="112.63" r="1.7" fill="#7F7F7F"/><circle cx="464.20" cy="42.44" r="1.7" fill="#7F7F7F"/><circle cx="439.82" cy="70.52" r="1.7" fill="#7F7F7F"/><circle cx="460.03" cy="34.28" r="1.7" fill="#7F7F7F"/><circle cx="461.09" cy="43.60" r="1.7" fill="#7F7F7F"/><circle cx="469.28" cy="115.65" r="1.7" fill="#7F7F7F"/><circle cx="458.70" cy="40.49" r="1.7" fill="#7F7F7F"/><circle cx="457.28" cy="93.32" r="1.7" fill="#7F7F7F"/><circle cx="460.83" cy="38.66" r="1.7" fill="#7F7F7F"/><circle cx="465.90" cy="117.58" r="1.7" fill="#7F7F7F"/><circle cx="392.20" cy="97.48" r="1.7" fill="#F8766D"/><circle cx="422.75" cy="26.07" r="1.7" fill="#7F7F7F"/><circle cx="420.02" cy="27.30" r="1.7" fill="#7F7F7F"/><circle cx="458.70" cy="58.96" r="1.7" fill="#7F7F7F"/><circle cx="476.04" cy="64.74" r="1.7" fill="#00BFC4"/><circle cx="395.96" cy="99.61" r="1.7" fill="#F8766D"/><circle cx="393.03" cy="100.38" r="1.7" fill="#F8766D"/><circle cx="393.54" cy="98.09" r="1.7" fill="#F8766D"/><circle cx="499.61" cy="65.11" r="1.7" fill="#00BFC4"/><circle cx="505.70" cy="67.35" r="1.7" fill="#00BFC4"/><circle cx="420.50" cy="31.09" r="1.7" fill="#7F7F7F"/><circle cx="418.31" cy="33.43" r="1.7" fill="#7F7F7F"/><circle cx="427.03" cy="44.26" r="1.7" fill="#7F7F7F"/><circle cx="414.24" cy="28.17" r="1.7" fill="#7F7F7F"/><circle cx="398.64" cy="99.00" r="1.7" fill="#F8766D"/><circle cx="510.70" cy="59.83" r="1.7" fill="#00BFC4"/><circle cx="392.02" cy="88.56" r="1.7" fill="#F8766D"/><circle cx="485.89" cy="67.52" r="1.7" fill="#00BFC4"/><circle cx="424.41" cy="25.43" r="1.7" fill="#7F7F7F"/><circle cx="504.38" cy="69.78" r="1.7" fill="#00BFC4"/><circle cx="408.93" cy="30.10" r="1.7" fill="#7F7F7F"/><circle cx="491.08" cy="62.89" r="1.7" fill="#00BFC4"/><circle cx="398.41" cy="95.36" r="1.7" fill="#F8766D"/><circle cx="471.44" cy="110.62" r="1.7" fill="#7F7F7F"/><circle cx="502.46" cy="65.83" r="1.7" fill="#00BFC4"/><circle cx="503.62" cy="63.93" r="1.7" fill="#00BFC4"/><circle cx="393.09" cy="88.32" r="1.7" fill="#F8766D"/><circle cx="436.93" cy="65.24" r="1.7" fill="#7F7F7F"/><circle cx="503.99" cy="64.71" r="1.7" fill="#00BFC4"/><circle cx="423.33" cy="33.32" r="1.7" fill="#7F7F7F"/><circle cx="409.43" cy="37.59" r="1.7" fill="#7F7F7F"/><circle cx="510.29" cy="67.14" r="1.7" fill="#00BFC4"/><circle cx="419.98" cy="29.21" r="1.7" fill="#7F7F7F"/><circle cx="400.85" cy="88.77" r="1.7" fill="#F8766D"/><circle cx="504.21" cy="68.16" r="1.7" fill="#00BFC4"/><circle cx="461.16" cy="115.84" r="1.7" fill="#7F7F7F"/><circle cx="415.82" cy="32.26" r="1.7" fill="#7F7F7F"/><circle cx="465.08" cy="116.65" r="1.7" fill="#7F7F7F"/><circle cx="392.14" cy="92.76" r="1.7" fill="#F8766D"/><circle cx="507.38" cy="68.75" r="1.7" fill="#00BFC4"/><circle cx="458.04" cy="37.43" r="1.7" fill="#7F7F7F"/><circle cx="501.22" cy="66.45" r="1.7" fill="#00BFC4"/><circle cx="409.12" cy="18.23" r="1.7" fill="#7F7F7F"/><circle cx="457.13" cy="91.25" r="1.7" fill="#7F7F7F"/><circle cx="451.96" cy="87.93" r="1.7" fill="#7F7F7F"/><circle cx="405.28" cy="28.16" r="1.7" fill="#7F7F7F"/><circle cx="458.11" cy="100.22" r="1.7" fill="#7F7F7F"/><circle cx="459.93" cy="35.59" r="1.7" fill="#7F7F7F"/><circle cx="420.24" cy="24.92" r="1.7" fill="#7F7F7F"/><circle cx="393.31" cy="97.48" r="1.7" fill="#F8766D"/><circle cx="458.88" cy="42.57" r="1.7" fill="#7F7F7F"/><circle cx="422.64" cy="28.46" r="1.7" fill="#7F7F7F"/><circle cx="391.25" cy="91.31" r="1.7" fill="#F8766D"/><circle cx="455.65" cy="38.82" r="1.7" fill="#7F7F7F"/><circle cx="419.67" cy="34.08" r="1.7" fill="#7F7F7F"/><circle cx="391.42" cy="90.16" r="1.7" fill="#F8766D"/><circle cx="462.92" cy="29.68" r="1.7" fill="#7F7F7F"/><circle cx="505.89" cy="64.30" r="1.7" fill="#00BFC4"/><circle cx="395.87" cy="94.46" r="1.7" fill="#F8766D"/><circle cx="462.25" cy="33.32" r="1.7" fill="#7F7F7F"/><circle cx="499.44" cy="63.61" r="1.7" fill="#00BFC4"/><circle cx="503.42" cy="68.11" r="1.7" fill="#00BFC4"/><circle cx="455.94" cy="98.32" r="1.7" fill="#7F7F7F"/><circle cx="424.61" cy="84.60" r="1.7" fill="#F8766D"/><circle cx="426.99" cy="17.67" r="1.7" fill="#7F7F7F"/><circle cx="425.87" cy="37.75" r="1.7" fill="#7F7F7F"/><circle cx="495.37" cy="60.15" r="1.7" fill="#00BFC4"/><circle cx="470.16" cy="119.56" r="1.7" fill="#7F7F7F"/><circle cx="460.17" cy="33.27" r="1.7" fill="#7F7F7F"/><circle cx="446.36" cy="65.94" r="1.7" fill="#7F7F7F"/><circle cx="459.48" cy="33.33" r="1.7" fill="#7F7F7F"/><circle cx="467.79" cy="125.02" r="1.7" fill="#7F7F7F"/><circle cx="394.83" cy="99.94" r="1.7" fill="#F8766D"/><circle cx="461.77" cy="118.26" r="1.7" fill="#7F7F7F"/><circle cx="392.83" cy="93.80" r="1.7" fill="#F8766D"/><circle cx="461.09" cy="44.87" r="1.7" fill="#7F7F7F"/><circle cx="415.91" cy="30.27" r="1.7" fill="#7F7F7F"/><circle cx="423.97" cy="32.50" r="1.7" fill="#7F7F7F"/><circle cx="465.50" cy="116.73" r="1.7" fill="#7F7F7F"/><circle cx="499.72" cy="68.86" r="1.7" fill="#00BFC4"/><circle cx="399.75" cy="104.31" r="1.7" fill="#F8766D"/><circle cx="469.19" cy="117.16" r="1.7" fill="#7F7F7F"/><circle cx="413.53" cy="30.81" r="1.7" fill="#7F7F7F"/><circle cx="463.95" cy="33.25" r="1.7" fill="#7F7F7F"/><circle cx="502.31" cy="65.80" r="1.7" fill="#00BFC4"/><circle cx="421.37" cy="82.37" r="1.7" fill="#F8766D"/><circle cx="455.85" cy="96.52" r="1.7" fill="#7F7F7F"/><circle cx="467.81" cy="118.54" r="1.7" fill="#7F7F7F"/><circle cx="393.91" cy="85.39" r="1.7" fill="#F8766D"/><circle cx="430.45" cy="74.23" r="1.7" fill="#F8766D"/><circle cx="504.90" cy="66.27" r="1.7" fill="#00BFC4"/><circle cx="468.81" cy="57.09" r="1.7" fill="#00BFC4"/><circle cx="507.16" cy="68.44" r="1.7" fill="#00BFC4"/><circle cx="464.57" cy="32.44" r="1.7" fill="#7F7F7F"/><circle cx="458.64" cy="36.59" r="1.7" fill="#7F7F7F"/><circle cx="507.18" cy="66.12" r="1.7" fill="#00BFC4"/><circle cx="419.36" cy="31.51" r="1.7" fill="#7F7F7F"/><circle cx="463.34" cy="112.98" r="1.7" fill="#7F7F7F"/><circle cx="501.54" cy="66.67" r="1.7" fill="#00BFC4"/><circle cx="458.63" cy="50.91" r="1.7" fill="#7F7F7F"/><circle cx="392.85" cy="92.58" r="1.7" fill="#F8766D"/><circle cx="456.13" cy="86.09" r="1.7" fill="#7F7F7F"/><circle cx="470.76" cy="116.33" r="1.7" fill="#7F7F7F"/><circle cx="420.22" cy="29.51" r="1.7" fill="#7F7F7F"/><circle cx="459.32" cy="39.63" r="1.7" fill="#7F7F7F"/><circle cx="396.56" cy="97.10" r="1.7" fill="#F8766D"/><circle cx="388.51" cy="93.30" r="1.7" fill="#F8766D"/><circle cx="392.77" cy="90.25" r="1.7" fill="#F8766D"/><circle cx="393.87" cy="90.94" r="1.7" fill="#F8766D"/><circle cx="423.46" cy="35.93" r="1.7" fill="#7F7F7F"/><circle cx="420.07" cy="27.13" r="1.7" fill="#7F7F7F"/><circle cx="496.28" cy="65.04" r="1.7" fill="#00BFC4"/><circle cx="395.90" cy="94.50" r="1.7" fill="#F8766D"/><circle cx="394.39" cy="94.48" r="1.7" fill="#F8766D"/><circle cx="379.82" cy="112.05" r="1.7" fill="#F8766D"/><circle cx="464.28" cy="115.34" r="1.7" fill="#7F7F7F"/><circle cx="418.93" cy="81.11" r="1.7" fill="#F8766D"/><circle cx="417.47" cy="83.33" r="1.7" fill="#F8766D"/><circle cx="506.41" cy="54.15" r="1.7" fill="#00BFC4"/><circle cx="391.88" cy="90.58" r="1.7" fill="#F8766D"/><circle cx="417.13" cy="30.02" r="1.7" fill="#7F7F7F"/><circle cx="466.01" cy="118.72" r="1.7" fill="#7F7F7F"/><circle cx="447.32" cy="68.79" r="1.7" fill="#7F7F7F"/><circle cx="460.08" cy="36.85" r="1.7" fill="#7F7F7F"/><circle cx="418.34" cy="19.97" r="1.7" fill="#7F7F7F"/><circle cx="461.48" cy="35.40" r="1.7" fill="#7F7F7F"/><circle cx="507.47" cy="73.52" r="1.7" fill="#00BFC4"/><circle cx="421.58" cy="83.63" r="1.7" fill="#F8766D"/><circle cx="454.04" cy="66.51" r="1.7" fill="#7F7F7F"/><circle cx="504.75" cy="69.58" r="1.7" fill="#00BFC4"/><circle cx="498.70" cy="62.64" r="1.7" fill="#00BFC4"/><circle cx="475.05" cy="61.16" r="1.7" fill="#00BFC4"/><circle cx="422.68" cy="27.55" r="1.7" fill="#7F7F7F"/><circle cx="415.80" cy="33.31" r="1.7" fill="#7F7F7F"/><circle cx="463.41" cy="59.18" r="1.7" fill="#00BFC4"/><circle cx="507.53" cy="66.90" r="1.7" fill="#00BFC4"/><circle cx="394.68" cy="86.83" r="1.7" fill="#F8766D"/><circle cx="457.70" cy="34.85" r="1.7" fill="#7F7F7F"/><circle cx="424.13" cy="27.76" r="1.7" fill="#7F7F7F"/><circle cx="467.03" cy="118.16" r="1.7" fill="#7F7F7F"/><circle cx="419.31" cy="28.51" r="1.7" fill="#7F7F7F"/><circle cx="505.29" cy="63.79" r="1.7" fill="#00BFC4"/><circle cx="469.13" cy="123.89" r="1.7" fill="#7F7F7F"/><circle cx="432.65" cy="53.51" r="1.7" fill="#7F7F7F"/><circle cx="471.10" cy="114.02" r="1.7" fill="#7F7F7F"/><circle cx="454.85" cy="62.71" r="1.7" fill="#7F7F7F"/><circle cx="458.85" cy="36.15" r="1.7" fill="#7F7F7F"/><circle cx="470.22" cy="117.06" r="1.7" fill="#7F7F7F"/><circle cx="460.10" cy="59.98" r="1.7" fill="#7F7F7F"/><circle cx="410.35" cy="34.95" r="1.7" fill="#7F7F7F"/><circle cx="508.23" cy="60.86" r="1.7" fill="#00BFC4"/><circle cx="471.14" cy="121.31" r="1.7" fill="#7F7F7F"/><circle cx="427.22" cy="37.25" r="1.7" fill="#7F7F7F"/><circle cx="469.34" cy="120.19" r="1.7" fill="#7F7F7F"/><circle cx="418.32" cy="25.09" r="1.7" fill="#7F7F7F"/><circle cx="394.05" cy="94.47" r="1.7" fill="#F8766D"/><circle cx="486.57" cy="62.13" r="1.7" fill="#00BFC4"/><circle cx="455.59" cy="82.94" r="1.7" fill="#7F7F7F"/><circle cx="395.87" cy="103.11" r="1.7" fill="#F8766D"/><circle cx="428.34" cy="43.25" r="1.7" fill="#7F7F7F"/><circle cx="490.75" cy="63.24" r="1.7" fill="#00BFC4"/><circle cx="426.30" cy="76.47" r="1.7" fill="#F8766D"/><circle cx="415.50" cy="24.84" r="1.7" fill="#7F7F7F"/><circle cx="393.51" cy="96.25" r="1.7" fill="#F8766D"/><circle cx="505.19" cy="63.44" r="1.7" fill="#00BFC4"/><circle cx="501.40" cy="65.97" r="1.7" fill="#00BFC4"/><circle cx="419.53" cy="28.37" r="1.7" fill="#7F7F7F"/><circle cx="388.38" cy="90.41" r="1.7" fill="#F8766D"/><circle cx="435.44" cy="22.09" r="1.7" fill="#7F7F7F"/><circle cx="462.67" cy="118.51" r="1.7" fill="#7F7F7F"/><circle cx="463.54" cy="102.30" r="1.7" fill="#7F7F7F"/><circle cx="456.87" cy="82.48" r="1.7" fill="#7F7F7F"/><circle cx="500.54" cy="65.94" r="1.7" fill="#00BFC4"/><circle cx="507.21" cy="71.89" r="1.7" fill="#00BFC4"/><circle cx="420.66" cy="84.10" r="1.7" fill="#F8766D"/><circle cx="456.96" cy="36.57" r="1.7" fill="#7F7F7F"/><circle cx="417.83" cy="31.30" r="1.7" fill="#7F7F7F"/><circle cx="442.26" cy="68.11" r="1.7" fill="#7F7F7F"/><circle cx="395.45" cy="95.50" r="1.7" fill="#F8766D"/><circle cx="506.36" cy="64.24" r="1.7" fill="#00BFC4"/><circle cx="466.85" cy="111.16" r="1.7" fill="#7F7F7F"/><circle cx="467.06" cy="120.50" r="1.7" fill="#7F7F7F"/><circle cx="457.23" cy="38.53" r="1.7" fill="#7F7F7F"/><circle cx="508.20" cy="63.71" r="1.7" fill="#00BFC4"/><circle cx="501.87" cy="66.31" r="1.7" fill="#00BFC4"/><circle cx="418.46" cy="27.04" r="1.7" fill="#7F7F7F"/><circle cx="431.48" cy="20.68" r="1.7" fill="#7F7F7F"/><circle cx="392.03" cy="93.61" r="1.7" fill="#F8766D"/><circle cx="494.95" cy="64.58" r="1.7" fill="#00BFC4"/><circle cx="428.89" cy="42.30" r="1.7" fill="#7F7F7F"/><circle cx="499.54" cy="66.52" r="1.7" fill="#00BFC4"/><circle cx="498.96" cy="68.72" r="1.7" fill="#00BFC4"/><circle cx="469.95" cy="62.25" r="1.7" fill="#00BFC4"/><circle cx="505.99" cy="64.78" r="1.7" fill="#00BFC4"/><circle cx="460.50" cy="40.36" r="1.7" fill="#7F7F7F"/><circle cx="467.79" cy="118.72" r="1.7" fill="#7F7F7F"/><circle cx="503.26" cy="71.04" r="1.7" fill="#00BFC4"/><circle cx="460.97" cy="118.45" r="1.7" fill="#7F7F7F"/><circle cx="397.51" cy="98.11" r="1.7" fill="#F8766D"/><circle cx="412.85" cy="28.17" r="1.7" fill="#7F7F7F"/><circle cx="420.08" cy="31.19" r="1.7" fill="#7F7F7F"/><circle cx="389.17" cy="99.70" r="1.7" fill="#F8766D"/><circle cx="458.38" cy="39.16" r="1.7" fill="#7F7F7F"/><circle cx="391.63" cy="95.18" r="1.7" fill="#F8766D"/><circle cx="467.42" cy="118.41" r="1.7" fill="#7F7F7F"/><circle cx="437.58" cy="63.28" r="1.7" fill="#7F7F7F"/><circle cx="459.43" cy="95.22" r="1.7" fill="#7F7F7F"/><circle cx="446.04" cy="63.52" r="1.7" fill="#7F7F7F"/><circle cx="410.46" cy="26.08" r="1.7" fill="#7F7F7F"/><circle cx="450.74" cy="73.59" r="1.7" fill="#7F7F7F"/><circle cx="412.44" cy="87.00" r="1.7" fill="#F8766D"/><circle cx="506.87" cy="66.38" r="1.7" fill="#00BFC4"/><circle cx="418.07" cy="79.87" r="1.7" fill="#F8766D"/><circle cx="458.22" cy="33.68" r="1.7" fill="#7F7F7F"/><circle cx="413.92" cy="25.77" r="1.7" fill="#7F7F7F"/><circle cx="452.93" cy="79.72" r="1.7" fill="#7F7F7F"/><circle cx="424.24" cy="30.52" r="1.7" fill="#7F7F7F"/><circle cx="394.02" cy="93.81" r="1.7" fill="#F8766D"/><circle cx="459.54" cy="37.83" r="1.7" fill="#7F7F7F"/><circle cx="501.03" cy="67.57" r="1.7" fill="#00BFC4"/><circle cx="465.71" cy="32.07" r="1.7" fill="#7F7F7F"/><circle cx="461.37" cy="101.46" r="1.7" fill="#7F7F7F"/><circle cx="414.47" cy="28.81" r="1.7" fill="#7F7F7F"/><circle cx="410.59" cy="27.18" r="1.7" fill="#7F7F7F"/><circle cx="504.60" cy="60.41" r="1.7" fill="#00BFC4"/><circle cx="458.20" cy="103.02" r="1.7" fill="#7F7F7F"/><circle cx="388.34" cy="88.48" r="1.7" fill="#F8766D"/><circle cx="394.69" cy="92.23" r="1.7" fill="#F8766D"/><circle cx="472.23" cy="120.13" r="1.7" fill="#7F7F7F"/><circle cx="414.88" cy="30.41" r="1.7" fill="#7F7F7F"/><circle cx="461.66" cy="37.13" r="1.7" fill="#7F7F7F"/><circle cx="427.17" cy="40.23" r="1.7" fill="#7F7F7F"/><circle cx="470.43" cy="118.21" r="1.7" fill="#7F7F7F"/><circle cx="459.00" cy="32.31" r="1.7" fill="#7F7F7F"/><circle cx="417.12" cy="21.06" r="1.7" fill="#7F7F7F"/><circle cx="469.46" cy="120.25" r="1.7" fill="#7F7F7F"/><circle cx="454.75" cy="83.15" r="1.7" fill="#7F7F7F"/><circle cx="473.21" cy="118.58" r="1.7" fill="#7F7F7F"/><circle cx="474.49" cy="126.53" r="1.7" fill="#7F7F7F"/><circle cx="462.08" cy="38.17" r="1.7" fill="#7F7F7F"/><circle cx="396.60" cy="93.23" r="1.7" fill="#F8766D"/><circle cx="400.31" cy="98.03" r="1.7" fill="#F8766D"/><circle cx="470.37" cy="121.42" r="1.7" fill="#7F7F7F"/><circle cx="461.09" cy="118.41" r="1.7" fill="#7F7F7F"/><circle cx="461.45" cy="34.43" r="1.7" fill="#7F7F7F"/><circle cx="461.54" cy="34.98" r="1.7" fill="#7F7F7F"/><circle cx="434.41" cy="57.76" r="1.7" fill="#7F7F7F"/><circle cx="505.85" cy="64.76" r="1.7" fill="#00BFC4"/><circle cx="456.72" cy="38.29" r="1.7" fill="#7F7F7F"/><circle cx="475.81" cy="121.54" r="1.7" fill="#7F7F7F"/><circle cx="390.58" cy="86.19" r="1.7" fill="#F8766D"/><circle cx="505.54" cy="64.99" r="1.7" fill="#00BFC4"/><circle cx="461.11" cy="34.80" r="1.7" fill="#7F7F7F"/><circle cx="426.86" cy="78.58" r="1.7" fill="#F8766D"/><circle cx="466.00" cy="118.98" r="1.7" fill="#7F7F7F"/><circle cx="500.67" cy="68.50" r="1.7" fill="#00BFC4"/><circle cx="460.68" cy="99.58" r="1.7" fill="#7F7F7F"/><circle cx="423.64" cy="79.80" r="1.7" fill="#F8766D"/><circle cx="504.16" cy="66.39" r="1.7" fill="#00BFC4"/><circle cx="504.28" cy="68.37" r="1.7" fill="#00BFC4"/><circle cx="418.20" cy="32.37" r="1.7" fill="#7F7F7F"/><circle cx="463.70" cy="32.61" r="1.7" fill="#7F7F7F"/><circle cx="391.67" cy="92.00" r="1.7" fill="#F8766D"/><circle cx="478.14" cy="63.30" r="1.7" fill="#00BFC4"/><circle cx="391.37" cy="103.77" r="1.7" fill="#F8766D"/><circle cx="504.15" cy="67.95" r="1.7" fill="#00BFC4"/><circle cx="400.53" cy="28.67" r="1.7" fill="#7F7F7F"/><circle cx="506.04" cy="57.79" r="1.7" fill="#00BFC4"/><circle cx="469.28" cy="116.37" r="1.7" fill="#7F7F7F"/><circle cx="470.60" cy="61.38" r="1.7" fill="#00BFC4"/><circle cx="468.22" cy="123.87" r="1.7" fill="#7F7F7F"/><circle cx="420.57" cy="28.15" r="1.7" fill="#7F7F7F"/><circle cx="400.68" cy="88.73" r="1.7" fill="#F8766D"/><circle cx="389.00" cy="93.96" r="1.7" fill="#F8766D"/><circle cx="396.75" cy="98.92" r="1.7" fill="#F8766D"/><circle cx="393.17" cy="90.65" r="1.7" fill="#F8766D"/><circle cx="399.21" cy="101.43" r="1.7" fill="#F8766D"/><circle cx="485.08" cy="63.29" r="1.7" fill="#00BFC4"/><circle cx="506.11" cy="73.07" r="1.7" fill="#00BFC4"/><circle cx="417.01" cy="28.05" r="1.7" fill="#7F7F7F"/><circle cx="503.73" cy="67.12" r="1.7" fill="#00BFC4"/><circle cx="459.74" cy="40.65" r="1.7" fill="#7F7F7F"/><circle cx="390.93" cy="90.66" r="1.7" fill="#F8766D"/><circle cx="503.83" cy="60.52" r="1.7" fill="#00BFC4"/><circle cx="471.09" cy="117.52" r="1.7" fill="#7F7F7F"/><circle cx="503.80" cy="66.35" r="1.7" fill="#00BFC4"/><circle cx="491.24" cy="63.24" r="1.7" fill="#00BFC4"/><circle cx="504.45" cy="65.82" r="1.7" fill="#00BFC4"/><circle cx="460.76" cy="37.79" r="1.7" fill="#7F7F7F"/><circle cx="463.66" cy="34.62" r="1.7" fill="#7F7F7F"/><circle cx="438.37" cy="58.90" r="1.7" fill="#7F7F7F"/><circle cx="506.98" cy="68.90" r="1.7" fill="#00BFC4"/><circle cx="419.15" cy="27.66" r="1.7" fill="#7F7F7F"/><circle cx="390.69" cy="93.30" r="1.7" fill="#F8766D"/><circle cx="505.98" cy="70.47" r="1.7" fill="#00BFC4"/><circle cx="421.99" cy="27.19" r="1.7" fill="#7F7F7F"/><circle cx="469.44" cy="124.61" r="1.7" fill="#7F7F7F"/><circle cx="506.54" cy="65.15" r="1.7" fill="#00BFC4"/><circle cx="501.69" cy="67.85" r="1.7" fill="#00BFC4"/><circle cx="467.92" cy="118.71" r="1.7" fill="#7F7F7F"/><circle cx="457.31" cy="44.25" r="1.7" fill="#7F7F7F"/><circle cx="458.34" cy="35.22" r="1.7" fill="#7F7F7F"/><circle cx="392.42" cy="92.56" r="1.7" fill="#F8766D"/><circle cx="422.37" cy="28.91" r="1.7" fill="#7F7F7F"/><circle cx="424.64" cy="78.45" r="1.7" fill="#F8766D"/><circle cx="473.46" cy="61.43" r="1.7" fill="#00BFC4"/><circle cx="393.22" cy="93.11" r="1.7" fill="#F8766D"/><circle cx="459.80" cy="106.79" r="1.7" fill="#7F7F7F"/><circle cx="471.24" cy="116.87" r="1.7" fill="#7F7F7F"/><circle cx="424.80" cy="26.89" r="1.7" fill="#7F7F7F"/><circle cx="413.10" cy="83.84" r="1.7" fill="#F8766D"/><circle cx="390.60" cy="93.41" r="1.7" fill="#F8766D"/><circle cx="411.72" cy="29.46" r="1.7" fill="#7F7F7F"/><circle cx="411.58" cy="24.40" r="1.7" fill="#7F7F7F"/><circle cx="505.01" cy="61.50" r="1.7" fill="#00BFC4"/><circle cx="461.26" cy="32.57" r="1.7" fill="#7F7F7F"/><circle cx="392.23" cy="99.82" r="1.7" fill="#F8766D"/><circle cx="453.79" cy="65.36" r="1.7" fill="#7F7F7F"/><circle cx="429.00" cy="77.95" r="1.7" fill="#F8766D"/><circle cx="461.32" cy="32.92" r="1.7" fill="#7F7F7F"/><circle cx="412.85" cy="23.13" r="1.7" fill="#7F7F7F"/><circle cx="476.16" cy="61.25" r="1.7" fill="#00BFC4"/><circle cx="447.67" cy="75.82" r="1.7" fill="#7F7F7F"/><circle cx="510.89" cy="61.54" r="1.7" fill="#00BFC4"/><circle cx="471.22" cy="116.43" r="1.7" fill="#7F7F7F"/><circle cx="458.88" cy="119.19" r="1.7" fill="#7F7F7F"/><circle cx="491.54" cy="66.78" r="1.7" fill="#00BFC4"/><circle cx="505.67" cy="68.89" r="1.7" fill="#00BFC4"/><circle cx="435.56" cy="20.64" r="1.7" fill="#7F7F7F"/><circle cx="386.31" cy="116.45" r="1.7" fill="#F8766D"/><circle cx="415.51" cy="84.72" r="1.7" fill="#F8766D"/><circle cx="392.40" cy="94.22" r="1.7" fill="#F8766D"/><circle cx="467.97" cy="119.60" r="1.7" fill="#7F7F7F"/><circle cx="412.02" cy="23.51" r="1.7" fill="#7F7F7F"/><circle cx="506.32" cy="64.21" r="1.7" fill="#00BFC4"/><circle cx="460.17" cy="47.51" r="1.7" fill="#7F7F7F"/><circle cx="413.70" cy="29.73" r="1.7" fill="#7F7F7F"/><circle cx="420.73" cy="25.77" r="1.7" fill="#7F7F7F"/><circle cx="399.51" cy="93.26" r="1.7" fill="#F8766D"/><circle cx="409.08" cy="86.66" r="1.7" fill="#F8766D"/><circle cx="468.78" cy="120.43" r="1.7" fill="#7F7F7F"/><circle cx="438.99" cy="67.28" r="1.7" fill="#7F7F7F"/><circle cx="507.50" cy="59.03" r="1.7" fill="#00BFC4"/><circle cx="416.66" cy="27.26" r="1.7" fill="#7F7F7F"/><circle cx="464.66" cy="116.67" r="1.7" fill="#7F7F7F"/><circle cx="404.84" cy="22.66" r="1.7" fill="#7F7F7F"/><circle cx="472.39" cy="119.63" r="1.7" fill="#7F7F7F"/><circle cx="411.12" cy="84.61" r="1.7" fill="#F8766D"/><circle cx="460.16" cy="100.20" r="1.7" fill="#7F7F7F"/><circle cx="421.49" cy="35.18" r="1.7" fill="#7F7F7F"/><circle cx="470.10" cy="116.69" r="1.7" fill="#7F7F7F"/><circle cx="468.76" cy="119.49" r="1.7" fill="#7F7F7F"/><circle cx="392.85" cy="93.58" r="1.7" fill="#F8766D"/><circle cx="437.37" cy="60.95" r="1.7" fill="#7F7F7F"/><circle cx="474.68" cy="64.21" r="1.7" fill="#00BFC4"/><circle cx="504.13" cy="75.67" r="1.7" fill="#00BFC4"/><circle cx="456.34" cy="89.77" r="1.7" fill="#7F7F7F"/><circle cx="395.73" cy="94.45" r="1.7" fill="#F8766D"/><circle cx="502.53" cy="69.53" r="1.7" fill="#00BFC4"/><circle cx="460.15" cy="35.52" r="1.7" fill="#7F7F7F"/><circle cx="419.22" cy="26.78" r="1.7" fill="#7F7F7F"/><circle cx="425.86" cy="76.43" r="1.7" fill="#F8766D"/><circle cx="506.01" cy="58.02" r="1.7" fill="#00BFC4"/><circle cx="501.67" cy="68.89" r="1.7" fill="#00BFC4"/><circle cx="472.95" cy="121.27" r="1.7" fill="#7F7F7F"/><circle cx="509.03" cy="65.21" r="1.7" fill="#00BFC4"/><circle cx="425.60" cy="76.37" r="1.7" fill="#F8766D"/><circle cx="415.06" cy="31.52" r="1.7" fill="#7F7F7F"/><circle cx="394.55" cy="97.70" r="1.7" fill="#F8766D"/><circle cx="396.18" cy="94.51" r="1.7" fill="#F8766D"/><circle cx="460.76" cy="33.20" r="1.7" fill="#7F7F7F"/><circle cx="469.56" cy="120.34" r="1.7" fill="#7F7F7F"/><circle cx="503.12" cy="66.16" r="1.7" fill="#00BFC4"/><circle cx="507.33" cy="66.34" r="1.7" fill="#00BFC4"/><circle cx="393.07" cy="92.60" r="1.7" fill="#F8766D"/><circle cx="473.33" cy="119.49" r="1.7" fill="#7F7F7F"/><circle cx="453.61" cy="68.42" r="1.7" fill="#7F7F7F"/><circle cx="457.67" cy="40.96" r="1.7" fill="#7F7F7F"/><circle cx="470.25" cy="125.44" r="1.7" fill="#7F7F7F"/><circle cx="457.63" cy="64.02" r="1.7" fill="#7F7F7F"/><circle cx="397.23" cy="97.18" r="1.7" fill="#F8766D"/><circle cx="392.62" cy="89.93" r="1.7" fill="#F8766D"/><circle cx="417.32" cy="31.79" r="1.7" fill="#7F7F7F"/><circle cx="464.08" cy="36.58" r="1.7" fill="#7F7F7F"/><circle cx="466.20" cy="124.46" r="1.7" fill="#7F7F7F"/><circle cx="458.82" cy="43.09" r="1.7" fill="#7F7F7F"/><circle cx="461.07" cy="41.79" r="1.7" fill="#7F7F7F"/><circle cx="419.13" cy="29.16" r="1.7" fill="#7F7F7F"/><circle cx="455.51" cy="39.28" r="1.7" fill="#7F7F7F"/><circle cx="469.16" cy="120.74" r="1.7" fill="#7F7F7F"/><circle cx="392.42" cy="93.15" r="1.7" fill="#F8766D"/><circle cx="394.49" cy="93.84" r="1.7" fill="#F8766D"/><circle cx="478.62" cy="61.78" r="1.7" fill="#00BFC4"/><circle cx="505.81" cy="66.53" r="1.7" fill="#00BFC4"/><circle cx="434.99" cy="59.84" r="1.7" fill="#7F7F7F"/><circle cx="461.78" cy="33.48" r="1.7" fill="#7F7F7F"/><circle cx="438.43" cy="65.71" r="1.7" fill="#7F7F7F"/><circle cx="472.40" cy="120.44" r="1.7" fill="#7F7F7F"/><circle cx="497.02" cy="63.35" r="1.7" fill="#00BFC4"/><circle cx="411.67" cy="19.88" r="1.7" fill="#7F7F7F"/><circle cx="424.14" cy="27.03" r="1.7" fill="#7F7F7F"/><circle cx="411.38" cy="28.18" r="1.7" fill="#7F7F7F"/><circle cx="434.27" cy="55.97" r="1.7" fill="#7F7F7F"/><circle cx="502.63" cy="65.09" r="1.7" fill="#00BFC4"/><circle cx="503.78" cy="69.67" r="1.7" fill="#00BFC4"/><circle cx="505.67" cy="66.76" r="1.7" fill="#00BFC4"/><circle cx="436.33" cy="64.14" r="1.7" fill="#7F7F7F"/><circle cx="399.17" cy="91.65" r="1.7" fill="#F8766D"/><circle cx="443.82" cy="64.52" r="1.7" fill="#7F7F7F"/><circle cx="503.75" cy="64.81" r="1.7" fill="#00BFC4"/><circle cx="396.40" cy="103.10" r="1.7" fill="#F8766D"/><circle cx="426.63" cy="27.89" r="1.7" fill="#7F7F7F"/><circle cx="416.98" cy="25.52" r="1.7" fill="#7F7F7F"/><circle cx="417.73" cy="25.85" r="1.7" fill="#7F7F7F"/><path d="M440.01,67.78 L423.81,36.15" fill="none" stroke="#111" stroke-width="1.0"/><path d="M457.61,63.65 L458.77,51.00" fill="none" stroke="#111" stroke-width="1.0"/><path d="M457.61,63.65 L463.78,63.79 L469.50,63.98 L474.78,64.23 L479.61,64.53 L484.00,64.89 L487.94,65.30 L491.44,65.77 L494.50,66.29 L497.11,66.87 L499.28,67.50" fill="none" stroke="#111" stroke-width="1.0"/><path d="M440.01,67.78 L436.68,70.25 L433.31,72.63 L429.91,74.91 L426.48,77.09 L423.02,79.19 L419.53,81.18 L416.00,83.08 L412.44,84.89 L408.85,86.60 L405.22,88.21 L401.57,89.73 L397.88,91.15" fill="none" stroke="#111" stroke-width="1.0"/><path d="M449.74,69.70 L456.68,95.00 L465.02,114.80" fill="none" stroke="#111" stroke-width="1.0"/><path d="M440.01,67.78 L449.74,69.70 L457.61,63.65" fill="none" stroke="#111" stroke-width="1.0"/><circle cx="440.01" cy="67.78" r="4.4" fill="#000"/><text x="440.01" y="69.88" font-size="6" font-family="Liberation Sans, sans-serif" text-anchor="middle" fill="#fff" font-weight="bold" >1</text><circle cx="449.74" cy="69.70" r="4.4" fill="#000"/><text x="449.74" y="71.80" font-size="6" font-family="Liberation Sans, sans-serif" text-anchor="middle" fill="#fff" font-weight="bold" >2</text><circle cx="457.61" cy="63.65" r="4.4" fill="#000"/><text x="457.61" y="65.75" font-size="6" font-family="Liberation Sans, sans-serif" text-anchor="middle" fill="#fff" font-weight="bold" >3</text>
<text x="352.8" y="153.5" font-size="14" font-family="Liberation Sans, sans-serif">F</text><text x="520.5" y="148" font-size="6.6" font-family="Liberation Sans, sans-serif" text-anchor="end" visibility="hidden">x</text><line x1="397.50" y1="153.75" x2="397.50" y2="276.25" stroke="#e4e4e4" stroke-width="0.75"/><line x1="412.00" y1="153.75" x2="412.00" y2="276.25" stroke="#e4e4e4" stroke-width="0.45"/><line x1="426.50" y1="153.75" x2="426.50" y2="276.25" stroke="#e4e4e4" stroke-width="0.75"/><line x1="441.00" y1="153.75" x2="441.00" y2="276.25" stroke="#e4e4e4" stroke-width="0.45"/><line x1="455.50" y1="153.75" x2="455.50" y2="276.25" stroke="#e4e4e4" stroke-width="0.75"/><line x1="470.00" y1="153.75" x2="470.00" y2="276.25" stroke="#e4e4e4" stroke-width="0.45"/><line x1="484.50" y1="153.75" x2="484.50" y2="276.25" stroke="#e4e4e4" stroke-width="0.75"/><line x1="499.00" y1="153.75" x2="499.00" y2="276.25" stroke="#e4e4e4" stroke-width="0.45"/><line x1="513.50" y1="153.75" x2="513.50" y2="276.25" stroke="#e4e4e4" stroke-width="0.75"/><line x1="392.4" y1="270.25" x2="521" y2="270.25" stroke="#e4e4e4" stroke-width="0.75"/><line x1="392.4" y1="256.50" x2="521" y2="256.50" stroke="#e4e4e4" stroke-width="0.45"/><line x1="392.4" y1="242.75" x2="521" y2="242.75" stroke="#e4e4e4" stroke-width="0.75"/><line x1="392.4" y1="229.00" x2="521" y2="229.00" stroke="#e4e4e4" stroke-width="0.45"/><line x1="392.4" y1="215.25" x2="521" y2="215.25" stroke="#e4e4e4" stroke-width="0.75"/><line x1="392.4" y1="201.50" x2="521" y2="201.50" stroke="#e4e4e4" stroke-width="0.45"/><line x1="392.4" y1="187.75" x2="521" y2="187.75" stroke="#e4e4e4" stroke-width="0.75"/><line x1="392.4" y1="174.00" x2="521" y2="174.00" stroke="#e4e4e4" stroke-width="0.45"/><line x1="392.4" y1="160.25" x2="521" y2="160.25" stroke="#e4e4e4" stroke-width="0.75"/><rect x="392.4" y="153.75" width="133.60000000000002" height="122.5" fill="none" stroke="#8a8a8a" stroke-width="0.7"/><line x1="390.9" y1="160.25" x2="392.4" y2="160.25" stroke="#555" stroke-width="0.5"/><text x="389.5" y="162.15" font-size="5.5" font-family="Liberation Serif, serif" text-anchor="end" fill="#444">1.00</text><line x1="390.9" y1="187.75" x2="392.4" y2="187.75" stroke="#555" stroke-width="0.5"/><text x="389.5" y="189.65" font-size="5.5" font-family="Liberation Serif, serif" text-anchor="end" fill="#444">0.75</text><line x1="390.9" y1="215.25" x2="392.4" y2="215.25" stroke="#555" stroke-width="0.5"/><text x="389.5" y="217.15" font-size="5.5" font-family="Liberation Serif, serif" text-anchor="end" fill="#444">0.50</text><line x1="390.9" y1="242.75" x2="392.4" y2="242.75" stroke="#555" stroke-width="0.5"/><text x="389.5" y="244.65" font-size="5.5" font-family="Liberation Serif, serif" text-anchor="end" fill="#444">0.25</text><line x1="390.9" y1="270.25" x2="392.4" y2="270.25" stroke="#555" stroke-width="0.5"/><text x="389.5" y="272.15" font-size="5.5" font-family="Liberation Serif, serif" text-anchor="end" fill="#444">0.00</text><text x="365.5" y="215" font-size="6.6" font-family="Liberation Sans, sans-serif" text-anchor="middle" transform="rotate(-90 365.5 215)">Survival probability</text><path d="M392.4,215.25 H504.6 V270.25" fill="none" stroke="#222" stroke-width="0.8" stroke-dasharray="2.2,1.6"/><path d="M397.50,160.25 H400.98 V161.35 H406.78 V162.45 H412.58 V163.55 H423.02 V164.65 H425.34 V167.95 H427.08 V171.25 H428.82 V172.90 H431.14 V175.65 H432.88 V177.85 H435.78 V178.95 H439.26 V181.15 H442.74 V182.80 H447.38 V184.45 H525.10 V184.45" fill="none" stroke="#F4442C" stroke-width="1.3"/><line x1="478.47" y1="182.95" x2="478.47" y2="185.95" stroke="#F4442C" stroke-width="0.6"/><line x1="467.14" y1="182.95" x2="467.14" y2="185.95" stroke="#F4442C" stroke-width="0.6"/><line x1="468.57" y1="182.95" x2="468.57" y2="185.95" stroke="#F4442C" stroke-width="0.6"/><line x1="457.59" y1="182.95" x2="457.59" y2="185.95" stroke="#F4442C" stroke-width="0.6"/><line x1="408.86" y1="160.95" x2="408.86" y2="163.95" stroke="#F4442C" stroke-width="0.6"/><line x1="480.42" y1="182.95" x2="480.42" y2="185.95" stroke="#F4442C" stroke-width="0.6"/><line x1="512.79" y1="182.95" x2="512.79" y2="185.95" stroke="#F4442C" stroke-width="0.6"/><line x1="447.88" y1="182.95" x2="447.88" y2="185.95" stroke="#F4442C" stroke-width="0.6"/><line x1="453.78" y1="182.95" x2="453.78" y2="185.95" stroke="#F4442C" stroke-width="0.6"/><line x1="462.99" y1="182.95" x2="462.99" y2="185.95" stroke="#F4442C" stroke-width="0.6"/><line x1="450.46" y1="182.95" x2="450.46" y2="185.95" stroke="#F4442C" stroke-width="0.6"/><line x1="459.80" y1="182.95" x2="459.80" y2="185.95" stroke="#F4442C" stroke-width="0.6"/><line x1="457.50" y1="182.95" x2="457.50" y2="185.95" stroke="#F4442C" stroke-width="0.6"/><line x1="480.94" y1="182.95" x2="480.94" y2="185.95" stroke="#F4442C" stroke-width="0.6"/><line x1="516.47" y1="182.95" x2="516.47" y2="185.95" stroke="#F4442C" stroke-width="0.6"/><line x1="455.11" y1="182.95" x2="455.11" y2="185.95" stroke="#F4442C" stroke-width="0.6"/><line x1="473.16" y1="182.95" x2="473.16" y2="185.95" stroke="#F4442C" stroke-width="0.6"/><line x1="445.69" y1="181.30" x2="445.69" y2="184.30" stroke="#F4442C" stroke-width="0.6"/><line x1="444.04" y1="181.30" x2="444.04" y2="184.30" stroke="#F4442C" stroke-width="0.6"/><line x1="454.43" y1="182.95" x2="454.43" y2="185.95" stroke="#F4442C" stroke-width="0.6"/><line x1="480.36" y1="182.95" x2="480.36" y2="185.95" stroke="#F4442C" stroke-width="0.6"/><line x1="468.55" y1="182.95" x2="468.55" y2="185.95" stroke="#F4442C" stroke-width="0.6"/><line x1="450.31" y1="182.95" x2="450.31" y2="185.95" stroke="#F4442C" stroke-width="0.6"/><line x1="437.62" y1="177.45" x2="437.62" y2="180.45" stroke="#F4442C" stroke-width="0.6"/><line x1="455.67" y1="182.95" x2="455.67" y2="185.95" stroke="#F4442C" stroke-width="0.6"/><line x1="474.19" y1="182.95" x2="474.19" y2="185.95" stroke="#F4442C" stroke-width="0.6"/><line x1="462.43" y1="182.95" x2="462.43" y2="185.95" stroke="#F4442C" stroke-width="0.6"/><line x1="420.75" y1="162.05" x2="420.75" y2="165.05" stroke="#F4442C" stroke-width="0.6"/><line x1="413.65" y1="162.05" x2="413.65" y2="165.05" stroke="#F4442C" stroke-width="0.6"/><line x1="454.54" y1="182.95" x2="454.54" y2="185.95" stroke="#F4442C" stroke-width="0.6"/><line x1="430.16" y1="171.40" x2="430.16" y2="174.40" stroke="#F4442C" stroke-width="0.6"/><line x1="477.15" y1="182.95" x2="477.15" y2="185.95" stroke="#F4442C" stroke-width="0.6"/><line x1="476.12" y1="182.95" x2="476.12" y2="185.95" stroke="#F4442C" stroke-width="0.6"/><line x1="480.66" y1="182.95" x2="480.66" y2="185.95" stroke="#F4442C" stroke-width="0.6"/><line x1="473.37" y1="182.95" x2="473.37" y2="185.95" stroke="#F4442C" stroke-width="0.6"/><line x1="449.85" y1="182.95" x2="449.85" y2="185.95" stroke="#F4442C" stroke-width="0.6"/><line x1="455.55" y1="182.95" x2="455.55" y2="185.95" stroke="#F4442C" stroke-width="0.6"/><line x1="462.63" y1="182.95" x2="462.63" y2="185.95" stroke="#F4442C" stroke-width="0.6"/><line x1="466.71" y1="182.95" x2="466.71" y2="185.95" stroke="#F4442C" stroke-width="0.6"/><line x1="452.57" y1="182.95" x2="452.57" y2="185.95" stroke="#F4442C" stroke-width="0.6"/><line x1="506.09" y1="182.95" x2="506.09" y2="185.95" stroke="#F4442C" stroke-width="0.6"/><line x1="472.25" y1="182.95" x2="472.25" y2="185.95" stroke="#F4442C" stroke-width="0.6"/><line x1="479.34" y1="182.95" x2="479.34" y2="185.95" stroke="#F4442C" stroke-width="0.6"/><line x1="502.97" y1="182.95" x2="502.97" y2="185.95" stroke="#F4442C" stroke-width="0.6"/><line x1="448.68" y1="182.95" x2="448.68" y2="185.95" stroke="#F4442C" stroke-width="0.6"/><path d="M397.50,160.25 H400.98 V161.90 H403.88 V163.55 H406.20 V165.20 H408.52 V166.85 H410.26 V167.95 H412.58 V170.15 H414.90 V172.35 H417.80 V174.55 H420.70 V176.75 H423.02 V177.85 H426.50 V179.50 H429.98 V181.15 H432.30 V182.25 H435.78 V184.45 H439.26 V186.65 H442.74 V189.40 H446.22 V191.05 H449.70 V192.15 H454.34 V194.35 H457.82 V196.55 H460.14 V198.75 H461.30 V200.95 H504.80 V218.55 H525.10 V218.55" fill="none" stroke="#12A9C8" stroke-width="1.3"/><line x1="483.71" y1="199.45" x2="483.71" y2="202.45" stroke="#12A9C8" stroke-width="0.6"/><line x1="423.27" y1="176.35" x2="423.27" y2="179.35" stroke="#12A9C8" stroke-width="0.6"/><line x1="467.75" y1="199.45" x2="467.75" y2="202.45" stroke="#12A9C8" stroke-width="0.6"/><line x1="469.35" y1="199.45" x2="469.35" y2="202.45" stroke="#12A9C8" stroke-width="0.6"/><line x1="452.91" y1="190.65" x2="452.91" y2="193.65" stroke="#12A9C8" stroke-width="0.6"/><line x1="490.13" y1="199.45" x2="490.13" y2="202.45" stroke="#12A9C8" stroke-width="0.6"/><line x1="470.58" y1="199.45" x2="470.58" y2="202.45" stroke="#12A9C8" stroke-width="0.6"/><line x1="467.78" y1="199.45" x2="467.78" y2="202.45" stroke="#12A9C8" stroke-width="0.6"/><line x1="434.23" y1="180.75" x2="434.23" y2="183.75" stroke="#12A9C8" stroke-width="0.6"/><line x1="489.33" y1="199.45" x2="489.33" y2="202.45" stroke="#12A9C8" stroke-width="0.6"/><line x1="494.19" y1="199.45" x2="494.19" y2="202.45" stroke="#12A9C8" stroke-width="0.6"/><line x1="465.83" y1="199.45" x2="465.83" y2="202.45" stroke="#12A9C8" stroke-width="0.6"/><line x1="463.00" y1="199.45" x2="463.00" y2="202.45" stroke="#12A9C8" stroke-width="0.6"/><line x1="487.30" y1="199.45" x2="487.30" y2="202.45" stroke="#12A9C8" stroke-width="0.6"/><line x1="481.65" y1="199.45" x2="481.65" y2="202.45" stroke="#12A9C8" stroke-width="0.6"/><line x1="445.35" y1="187.90" x2="445.35" y2="190.90" stroke="#12A9C8" stroke-width="0.6"/><line x1="429.34" y1="178.00" x2="429.34" y2="181.00" stroke="#12A9C8" stroke-width="0.6"/><line x1="405.46" y1="162.05" x2="405.46" y2="165.05" stroke="#12A9C8" stroke-width="0.6"/><line x1="470.32" y1="199.45" x2="470.32" y2="202.45" stroke="#12A9C8" stroke-width="0.6"/><line x1="470.33" y1="199.45" x2="470.33" y2="202.45" stroke="#12A9C8" stroke-width="0.6"/><line x1="475.84" y1="199.45" x2="475.84" y2="202.45" stroke="#12A9C8" stroke-width="0.6"/><line x1="432.57" y1="180.75" x2="432.57" y2="183.75" stroke="#12A9C8" stroke-width="0.6"/><line x1="486.38" y1="199.45" x2="486.38" y2="202.45" stroke="#12A9C8" stroke-width="0.6"/><line x1="438.97" y1="182.95" x2="438.97" y2="185.95" stroke="#12A9C8" stroke-width="0.6"/><line x1="482.72" y1="199.45" x2="482.72" y2="202.45" stroke="#12A9C8" stroke-width="0.6"/><line x1="480.03" y1="199.45" x2="480.03" y2="202.45" stroke="#12A9C8" stroke-width="0.6"/><line x1="481.74" y1="199.45" x2="481.74" y2="202.45" stroke="#12A9C8" stroke-width="0.6"/><line x1="495.45" y1="199.45" x2="495.45" y2="202.45" stroke="#12A9C8" stroke-width="0.6"/><line x1="484.63" y1="199.45" x2="484.63" y2="202.45" stroke="#12A9C8" stroke-width="0.6"/><line x1="487.75" y1="199.45" x2="487.75" y2="202.45" stroke="#12A9C8" stroke-width="0.6"/><line x1="406.29" y1="163.70" x2="406.29" y2="166.70" stroke="#12A9C8" stroke-width="0.6"/><line x1="401.00" y1="160.40" x2="401.00" y2="163.40" stroke="#12A9C8" stroke-width="0.6"/><line x1="483.52" y1="199.45" x2="483.52" y2="202.45" stroke="#12A9C8" stroke-width="0.6"/><line x1="446.82" y1="189.55" x2="446.82" y2="192.55" stroke="#12A9C8" stroke-width="0.6"/><line x1="462.80" y1="199.45" x2="462.80" y2="202.45" stroke="#12A9C8" stroke-width="0.6"/><line x1="427.59" y1="178.00" x2="427.59" y2="181.00" stroke="#12A9C8" stroke-width="0.6"/><line x1="489.78" y1="199.45" x2="489.78" y2="202.45" stroke="#12A9C8" stroke-width="0.6"/><line x1="489.35" y1="199.45" x2="489.35" y2="202.45" stroke="#12A9C8" stroke-width="0.6"/><line x1="430.13" y1="179.65" x2="430.13" y2="182.65" stroke="#12A9C8" stroke-width="0.6"/><line x1="486.77" y1="199.45" x2="486.77" y2="202.45" stroke="#12A9C8" stroke-width="0.6"/><rect x="479" y="155" width="42" height="28" fill="#fff"/><text x="482.6" y="162.4" font-size="7.1" font-family="Liberation Serif, serif">Groups</text><line x1="483.5" y1="171.3" x2="495" y2="171.3" stroke="#F4442C" stroke-width="1.1"/><line x1="489.2" y1="169.60000000000002" x2="489.2" y2="173.0" stroke="#F4442C" stroke-width="0.7"/><text x="497" y="173.10000000000002" font-size="5.4" font-family="Liberation Serif, serif">groups=1</text><line x1="483.5" y1="179.6" x2="495" y2="179.6" stroke="#12A9C8" stroke-width="1.1"/><line x1="489.2" y1="177.9" x2="489.2" y2="181.29999999999998" stroke="#12A9C8" stroke-width="0.7"/><text x="497" y="181.4" font-size="5.4" font-family="Liberation Serif, serif">groups=5</text><text x="397.8" y="251.8" font-size="8.45" font-family="Liberation Sans, sans-serif">p = 0.028</text><rect x="392.4" y="278" width="133.60000000000002" height="15.2" fill="none" stroke="#8a8a8a" stroke-width="0.7"/><text x="389.5" y="284.5" font-size="5.5" font-family="Liberation Serif, serif" text-anchor="end" fill="#444">groups=1</text><line x1="390.9" y1="282.6" x2="392.4" y2="282.6" stroke="#555" stroke-width="0.5"/><text x="397.50" y="285.20000000000005" font-size="7.4" font-family="Liberation Sans, sans-serif" text-anchor="middle">126</text><text x="426.50" y="285.20000000000005" font-size="7.4" font-family="Liberation Sans, sans-serif" text-anchor="middle">70</text><text x="455.50" y="285.20000000000005" font-size="7.4" font-family="Liberation Sans, sans-serif" text-anchor="middle">29</text><text x="484.50" y="285.20000000000005" font-size="7.4" font-family="Liberation Sans, sans-serif" text-anchor="middle">7</text><text x="513.50" y="285.20000000000005" font-size="7.4" font-family="Liberation Sans, sans-serif" text-anchor="middle">2</text><text x="389.5" y="291.5" font-size="5.5" font-family="Liberation Serif, serif" text-anchor="end" fill="#444">groups=5</text><line x1="390.9" y1="289.6" x2="392.4" y2="289.6" stroke="#555" stroke-width="0.5"/><text x="397.50" y="292.20000000000005" font-size="7.4" font-family="Liberation Sans, sans-serif" text-anchor="middle">111</text><text x="426.50" y="292.20000000000005" font-size="7.4" font-family="Liberation Sans, sans-serif" text-anchor="middle">58</text><text x="455.50" y="292.20000000000005" font-size="7.4" font-family="Liberation Sans, sans-serif" text-anchor="middle">21</text><text x="484.50" y="292.20000000000005" font-size="7.4" font-family="Liberation Sans, sans-serif" text-anchor="middle">7</text><text x="513.50" y="292.20000000000005" font-size="7.4" font-family="Liberation Sans, sans-serif" text-anchor="middle">1</text><line x1="397.50" y1="293.2" x2="397.50" y2="294.8" stroke="#555" stroke-width="0.5"/><text x="397.50" y="300.3" font-size="5.5" font-family="Liberation Serif, serif" text-anchor="middle" fill="#444">0</text><line x1="426.50" y1="293.2" x2="426.50" y2="294.8" stroke="#555" stroke-width="0.5"/><text x="426.50" y="300.3" font-size="5.5" font-family="Liberation Serif, serif" text-anchor="middle" fill="#444">2.5</text><line x1="455.50" y1="293.2" x2="455.50" y2="294.8" stroke="#555" stroke-width="0.5"/><text x="455.50" y="300.3" font-size="5.5" font-family="Liberation Serif, serif" text-anchor="middle" fill="#444">5</text><line x1="484.50" y1="293.2" x2="484.50" y2="294.8" stroke="#555" stroke-width="0.5"/><text x="484.50" y="300.3" font-size="5.5" font-family="Liberation Serif, serif" text-anchor="middle" fill="#444">7.5</text><line x1="513.50" y1="293.2" x2="513.50" y2="294.8" stroke="#555" stroke-width="0.5"/><text x="513.50" y="300.3" font-size="5.5" font-family="Liberation Serif, serif" text-anchor="middle" fill="#444">10</text><text x="456" y="307.6" font-size="6.6" font-family="Liberation Sans, sans-serif" text-anchor="middle">Time</text><text x="366" y="286" font-size="6.6" font-family="Liberation Sans, sans-serif" text-anchor="middle" transform="rotate(-90 366 286)">Groups</text>
<text x="-0.8" y="324.7" font-size="14" font-family="Liberation Sans, sans-serif">D</text><line x1="37" y1="326" x2="37" y2="413.2" stroke="#7a7a7a" stroke-width="1.1"/><line x1="37" y1="413.2" x2="480.2" y2="413.2" stroke="#555" stroke-width="1.0"/><line x1="35.2" y1="343.4" x2="37" y2="343.4" stroke="#555" stroke-width="0.6"/><text x="33.2" y="345.60" font-size="6.9" font-family="Liberation Serif, serif" text-anchor="end" fill="#222">0.4</text><line x1="35.2" y1="362.5" x2="37" y2="362.5" stroke="#555" stroke-width="0.6"/><text x="33.2" y="364.70" font-size="6.9" font-family="Liberation Serif, serif" text-anchor="end" fill="#222">0.2</text><line x1="35.2" y1="381.7" x2="37" y2="381.7" stroke="#555" stroke-width="0.6"/><text x="33.2" y="383.90" font-size="6.9" font-family="Liberation Serif, serif" text-anchor="end" fill="#222">0.0</text><line x1="35.2" y1="400.8" x2="37" y2="400.8" stroke="#555" stroke-width="0.6"/><text x="33.2" y="403.00" font-size="6.9" font-family="Liberation Serif, serif" text-anchor="end" fill="#222">−0.2</text><text x="17.2" y="369.5" font-size="7.2" font-family="Liberation Serif, serif" text-anchor="middle" fill="#222" transform="rotate(-90 17.2 369.5)">Enrichment score</text><text x="15.4" y="331" font-size="8.6" font-family="Liberation Sans, sans-serif" font-weight="bold" textLength="12.2" lengthAdjust="spacingAndGlyphs">IS1</text><line x1="46.30" y1="413.2" x2="46.30" y2="415.0" stroke="#555" stroke-width="0.6"/><line x1="43.15" y1="382.5" x2="43.15" y2="388.75" stroke="#1E6CBE" stroke-width="1.2"/><line x1="43.15" y1="395" x2="43.15" y2="401.25" stroke="#1E6CBE" stroke-width="1.2"/><rect x="40.60" y="388.75" width="5.10" height="6.25" fill="#fff" stroke="#1E6CBE" stroke-width="1.2"/><line x1="40.60" y1="391.25" x2="45.70" y2="391.25" stroke="#1E6CBE" stroke-width="1.5"/><line x1="49.45" y1="380" x2="49.45" y2="387" stroke="#F2B400" stroke-width="1.2"/><line x1="49.45" y1="393.75" x2="49.45" y2="402.5" stroke="#F2B400" stroke-width="1.2"/><rect x="46.90" y="387" width="5.10" height="6.75" fill="#fff" stroke="#F2B400" stroke-width="1.2"/><line x1="46.90" y1="390" x2="52.00" y2="390" stroke="#F2B400" stroke-width="1.5"/><circle cx="49.45" cy="405" r="1.5" fill="#F2B400"/><text x="43.20" y="329.30" font-size="7.6" font-family="Liberation Sans, sans-serif" fill="#1a1a1a" textLength="7" lengthAdjust="spacingAndGlyphs">ns</text><line x1="62.05" y1="413.2" x2="62.05" y2="415.0" stroke="#555" stroke-width="0.6"/><line x1="58.90" y1="348.75" x2="58.90" y2="358" stroke="#1E6CBE" stroke-width="1.2"/><line x1="58.90" y1="365.5" x2="58.90" y2="374.5" stroke="#1E6CBE" stroke-width="1.2"/><rect x="56.35" y="358" width="5.10" height="7.50" fill="#fff" stroke="#1E6CBE" stroke-width="1.2"/><line x1="56.35" y1="361.75" x2="61.45" y2="361.75" stroke="#1E6CBE" stroke-width="1.5"/><circle cx="58.90" cy="343" r="1.5" fill="#1E6CBE"/><line x1="65.20" y1="351.25" x2="65.20" y2="356.25" stroke="#F2B400" stroke-width="1.2"/><line x1="65.20" y1="363" x2="65.20" y2="371.25" stroke="#F2B400" stroke-width="1.2"/><rect x="62.65" y="356.25" width="5.10" height="6.75" fill="#fff" stroke="#F2B400" stroke-width="1.2"/><line x1="62.65" y1="359.25" x2="67.75" y2="359.25" stroke="#F2B400" stroke-width="1.5"/><rect x="61.20" y="325.30" width="1.7" height="1.7" fill="#333"/><line x1="77.80" y1="413.2" x2="77.80" y2="415.0" stroke="#555" stroke-width="0.6"/><line x1="74.65" y1="343.75" x2="74.65" y2="353" stroke="#1E6CBE" stroke-width="1.2"/><line x1="74.65" y1="359.25" x2="74.65" y2="366.25" stroke="#1E6CBE" stroke-width="1.2"/><rect x="72.10" y="353" width="5.10" height="6.25" fill="#fff" stroke="#1E6CBE" stroke-width="1.2"/><line x1="72.10" y1="355.5" x2="77.20" y2="355.5" stroke="#1E6CBE" stroke-width="1.5"/><line x1="80.95" y1="346.25" x2="80.95" y2="353" stroke="#F2B400" stroke-width="1.2"/><line x1="80.95" y1="359.25" x2="80.95" y2="363.75" stroke="#F2B400" stroke-width="1.2"/><rect x="78.40" y="353" width="5.10" height="6.25" fill="#fff" stroke="#F2B400" stroke-width="1.2"/><line x1="78.40" y1="355.5" x2="83.50" y2="355.5" stroke="#F2B400" stroke-width="1.5"/><circle cx="80.95" cy="342.5" r="1.5" fill="#F2B400"/><text x="74.70" y="329.30" font-size="7.6" font-family="Liberation Sans, sans-serif" fill="#1a1a1a" textLength="7" lengthAdjust="spacingAndGlyphs">ns</text><line x1="93.55" y1="413.2" x2="93.55" y2="415.0" stroke="#555" stroke-width="0.6"/><line x1="90.40" y1="330" x2="90.40" y2="333.75" stroke="#1E6CBE" stroke-width="1.2"/><line x1="90.40" y1="336.25" x2="90.40" y2="338.75" stroke="#1E6CBE" stroke-width="1.2"/><rect x="87.85" y="333.75" width="5.10" height="2.50" fill="#fff" stroke="#1E6CBE" stroke-width="1.2"/><line x1="87.85" y1="335" x2="92.95" y2="335" stroke="#1E6CBE" stroke-width="1.5"/><circle cx="90.40" cy="341.25" r="1.5" fill="#1E6CBE"/><line x1="96.70" y1="328" x2="96.70" y2="332" stroke="#F2B400" stroke-width="1.2"/><line x1="96.70" y1="335.75" x2="96.70" y2="338" stroke="#F2B400" stroke-width="1.2"/><rect x="94.15" y="332" width="5.10" height="3.75" fill="#fff" stroke="#F2B400" stroke-width="1.2"/><line x1="94.15" y1="334" x2="99.25" y2="334" stroke="#F2B400" stroke-width="1.5"/><circle cx="96.70" cy="340" r="1.5" fill="#F2B400"/><rect x="92.70" y="325.30" width="1.7" height="1.7" fill="#333"/><line x1="109.30" y1="413.2" x2="109.30" y2="415.0" stroke="#555" stroke-width="0.6"/><line x1="106.15" y1="347.5" x2="106.15" y2="350.75" stroke="#1E6CBE" stroke-width="1.2"/><line x1="106.15" y1="354.5" x2="106.15" y2="357.5" stroke="#1E6CBE" stroke-width="1.2"/><rect x="103.60" y="350.75" width="5.10" height="3.75" fill="#fff" stroke="#1E6CBE" stroke-width="1.2"/><line x1="103.60" y1="352.5" x2="108.70" y2="352.5" stroke="#1E6CBE" stroke-width="1.5"/><line x1="112.45" y1="348" x2="112.45" y2="350.75" stroke="#F2B400" stroke-width="1.2"/><line x1="112.45" y1="354.5" x2="112.45" y2="358" stroke="#F2B400" stroke-width="1.2"/><rect x="109.90" y="350.75" width="5.10" height="3.75" fill="#fff" stroke="#F2B400" stroke-width="1.2"/><line x1="109.90" y1="352.5" x2="115.00" y2="352.5" stroke="#F2B400" stroke-width="1.5"/><text x="106.20" y="329.30" font-size="7.6" font-family="Liberation Sans, sans-serif" fill="#1a1a1a" textLength="7" lengthAdjust="spacingAndGlyphs">ns</text><line x1="125.05" y1="413.2" x2="125.05" y2="415.0" stroke="#555" stroke-width="0.6"/><line x1="121.90" y1="357.5" x2="121.90" y2="360.75" stroke="#1E6CBE" stroke-width="1.2"/><line x1="121.90" y1="364.5" x2="121.90" y2="367.5" stroke="#1E6CBE" stroke-width="1.2"/><rect x="119.35" y="360.75" width="5.10" height="3.75" fill="#fff" stroke="#1E6CBE" stroke-width="1.2"/><line x1="119.35" y1="362.5" x2="124.45" y2="362.5" stroke="#1E6CBE" stroke-width="1.5"/><circle cx="121.90" cy="371.25" r="1.5" fill="#1E6CBE"/><line x1="128.20" y1="355" x2="128.20" y2="359.5" stroke="#F2B400" stroke-width="1.2"/><line x1="128.20" y1="363.75" x2="128.20" y2="368" stroke="#F2B400" stroke-width="1.2"/><rect x="125.65" y="359.5" width="5.10" height="4.25" fill="#fff" stroke="#F2B400" stroke-width="1.2"/><line x1="125.65" y1="361.5" x2="130.75" y2="361.5" stroke="#F2B400" stroke-width="1.5"/><circle cx="128.20" cy="353.75" r="1.5" fill="#F2B400"/><text x="121.95" y="329.30" font-size="7.6" font-family="Liberation Sans, sans-serif" fill="#1a1a1a" textLength="7" lengthAdjust="spacingAndGlyphs">ns</text><line x1="140.80" y1="413.2" x2="140.80" y2="415.0" stroke="#555" stroke-width="0.6"/><line x1="137.65" y1="355" x2="137.65" y2="361.25" stroke="#1E6CBE" stroke-width="1.2"/><line x1="137.65" y1="366.25" x2="137.65" y2="371.25" stroke="#1E6CBE" stroke-width="1.2"/><rect x="135.10" y="361.25" width="5.10" height="5.00" fill="#fff" stroke="#1E6CBE" stroke-width="1.2"/><line x1="135.10" y1="363.75" x2="140.20" y2="363.75" stroke="#1E6CBE" stroke-width="1.5"/><circle cx="137.65" cy="351.25" r="1.5" fill="#1E6CBE"/><line x1="143.95" y1="355" x2="143.95" y2="359.25" stroke="#F2B400" stroke-width="1.2"/><line x1="143.95" y1="366.25" x2="143.95" y2="373.75" stroke="#F2B400" stroke-width="1.2"/><rect x="141.40" y="359.25" width="5.10" height="7.00" fill="#fff" stroke="#F2B400" stroke-width="1.2"/><line x1="141.40" y1="362.5" x2="146.50" y2="362.5" stroke="#F2B400" stroke-width="1.5"/><text x="137.70" y="329.30" font-size="7.6" font-family="Liberation Sans, sans-serif" fill="#1a1a1a" textLength="7" lengthAdjust="spacingAndGlyphs">ns</text><line x1="156.55" y1="413.2" x2="156.55" y2="415.0" stroke="#555" stroke-width="0.6"/><line x1="153.40" y1="346.25" x2="153.40" y2="349.5" stroke="#1E6CBE" stroke-width="1.2"/><line x1="153.40" y1="353" x2="153.40" y2="356.25" stroke="#1E6CBE" stroke-width="1.2"/><rect x="150.85" y="349.5" width="5.10" height="3.50" fill="#fff" stroke="#1E6CBE" stroke-width="1.2"/><line x1="150.85" y1="351.25" x2="155.95" y2="351.25" stroke="#1E6CBE" stroke-width="1.5"/><line x1="159.70" y1="348" x2="159.70" y2="350.5" stroke="#F2B400" stroke-width="1.2"/><line x1="159.70" y1="353.75" x2="159.70" y2="357" stroke="#F2B400" stroke-width="1.2"/><rect x="157.15" y="350.5" width="5.10" height="3.25" fill="#fff" stroke="#F2B400" stroke-width="1.2"/><line x1="157.15" y1="352" x2="162.25" y2="352" stroke="#F2B400" stroke-width="1.5"/><circle cx="159.70" cy="358.5" r="1.5" fill="#F2B400"/><text x="153.45" y="329.30" font-size="7.6" font-family="Liberation Sans, sans-serif" fill="#1a1a1a" textLength="7" lengthAdjust="spacingAndGlyphs">ns</text><line x1="172.30" y1="413.2" x2="172.30" y2="415.0" stroke="#555" stroke-width="0.6"/><line x1="169.15" y1="375.5" x2="169.15" y2="382.5" stroke="#1E6CBE" stroke-width="1.2"/><line x1="169.15" y1="387.5" x2="169.15" y2="393.75" stroke="#1E6CBE" stroke-width="1.2"/><rect x="166.60" y="382.5" width="5.10" height="5.00" fill="#fff" stroke="#1E6CBE" stroke-width="1.2"/><line x1="166.60" y1="385" x2="171.70" y2="385" stroke="#1E6CBE" stroke-width="1.5"/><circle cx="169.15" cy="372.5" r="1.5" fill="#1E6CBE"/><circle cx="169.15" cy="396.25" r="1.5" fill="#1E6CBE"/><line x1="175.45" y1="375" x2="175.45" y2="381.25" stroke="#F2B400" stroke-width="1.2"/><line x1="175.45" y1="388.75" x2="175.45" y2="393.75" stroke="#F2B400" stroke-width="1.2"/><rect x="172.90" y="381.25" width="5.10" height="7.50" fill="#fff" stroke="#F2B400" stroke-width="1.2"/><line x1="172.90" y1="385" x2="178.00" y2="385" stroke="#F2B400" stroke-width="1.5"/><text x="169.20" y="329.30" font-size="7.6" font-family="Liberation Sans, sans-serif" fill="#1a1a1a" textLength="7" lengthAdjust="spacingAndGlyphs">ns</text><line x1="188.05" y1="413.2" x2="188.05" y2="415.0" stroke="#555" stroke-width="0.6"/><line x1="184.90" y1="361.25" x2="184.90" y2="367" stroke="#1E6CBE" stroke-width="1.2"/><line x1="184.90" y1="371.25" x2="184.90" y2="376.25" stroke="#1E6CBE" stroke-width="1.2"/><rect x="182.35" y="367" width="5.10" height="4.25" fill="#fff" stroke="#1E6CBE" stroke-width="1.2"/><line x1="182.35" y1="369" x2="187.45" y2="369" stroke="#1E6CBE" stroke-width="1.5"/><circle cx="184.90" cy="378.75" r="1.5" fill="#1E6CBE"/><line x1="191.20" y1="358.75" x2="191.20" y2="364.5" stroke="#F2B400" stroke-width="1.2"/><line x1="191.20" y1="370.5" x2="191.20" y2="377" stroke="#F2B400" stroke-width="1.2"/><rect x="188.65" y="364.5" width="5.10" height="6.00" fill="#fff" stroke="#F2B400" stroke-width="1.2"/><line x1="188.65" y1="367" x2="193.75" y2="367" stroke="#F2B400" stroke-width="1.5"/><circle cx="191.20" cy="355.75" r="1.5" fill="#F2B400"/><circle cx="191.20" cy="380" r="1.5" fill="#F2B400"/><text x="184.95" y="329.30" font-size="7.6" font-family="Liberation Sans, sans-serif" fill="#1a1a1a" textLength="7" lengthAdjust="spacingAndGlyphs">ns</text><line x1="203.80" y1="413.2" x2="203.80" y2="415.0" stroke="#555" stroke-width="0.6"/><line x1="200.65" y1="356.25" x2="200.65" y2="366.25" stroke="#1E6CBE" stroke-width="1.2"/><line x1="200.65" y1="372" x2="200.65" y2="378" stroke="#1E6CBE" stroke-width="1.2"/><rect x="198.10" y="366.25" width="5.10" height="5.75" fill="#fff" stroke="#1E6CBE" stroke-width="1.2"/><line x1="198.10" y1="369" x2="203.20" y2="369" stroke="#1E6CBE" stroke-width="1.5"/><circle cx="200.65" cy="350" r="1.5" fill="#1E6CBE"/><line x1="206.95" y1="356.25" x2="206.95" y2="363.75" stroke="#F2B400" stroke-width="1.2"/><line x1="206.95" y1="371.25" x2="206.95" y2="377" stroke="#F2B400" stroke-width="1.2"/><rect x="204.40" y="363.75" width="5.10" height="7.50" fill="#fff" stroke="#F2B400" stroke-width="1.2"/><line x1="204.40" y1="367.5" x2="209.50" y2="367.5" stroke="#F2B400" stroke-width="1.5"/><text x="200.70" y="329.30" font-size="7.6" font-family="Liberation Sans, sans-serif" fill="#1a1a1a" textLength="7" lengthAdjust="spacingAndGlyphs">ns</text><line x1="219.55" y1="413.2" x2="219.55" y2="415.0" stroke="#555" stroke-width="0.6"/><line x1="216.40" y1="360" x2="216.40" y2="363.25" stroke="#1E6CBE" stroke-width="1.2"/><line x1="216.40" y1="368" x2="216.40" y2="371.25" stroke="#1E6CBE" stroke-width="1.2"/><rect x="213.85" y="363.25" width="5.10" height="4.75" fill="#fff" stroke="#1E6CBE" stroke-width="1.2"/><line x1="213.85" y1="365.5" x2="218.95" y2="365.5" stroke="#1E6CBE" stroke-width="1.5"/><line x1="222.70" y1="357.5" x2="222.70" y2="362.5" stroke="#F2B400" stroke-width="1.2"/><line x1="222.70" y1="368" x2="222.70" y2="372.5" stroke="#F2B400" stroke-width="1.2"/><rect x="220.15" y="362.5" width="5.10" height="5.50" fill="#fff" stroke="#F2B400" stroke-width="1.2"/><line x1="220.15" y1="365" x2="225.25" y2="365" stroke="#F2B400" stroke-width="1.5"/><text x="216.45" y="329.30" font-size="7.6" font-family="Liberation Sans, sans-serif" fill="#1a1a1a" textLength="7" lengthAdjust="spacingAndGlyphs">ns</text><line x1="235.30" y1="413.2" x2="235.30" y2="415.0" stroke="#555" stroke-width="0.6"/><line x1="232.15" y1="361.25" x2="232.15" y2="364.5" stroke="#1E6CBE" stroke-width="1.2"/><line x1="232.15" y1="368.25" x2="232.15" y2="371.25" stroke="#1E6CBE" stroke-width="1.2"/><rect x="229.60" y="364.5" width="5.10" height="3.75" fill="#fff" stroke="#1E6CBE" stroke-width="1.2"/><line x1="229.60" y1="366.25" x2="234.70" y2="366.25" stroke="#1E6CBE" stroke-width="1.5"/><circle cx="232.15" cy="359.25" r="1.5" fill="#1E6CBE"/><line x1="238.45" y1="361.25" x2="238.45" y2="363.25" stroke="#F2B400" stroke-width="1.2"/><line x1="238.45" y1="367.5" x2="238.45" y2="370.5" stroke="#F2B400" stroke-width="1.2"/><rect x="235.90" y="363.25" width="5.10" height="4.25" fill="#fff" stroke="#F2B400" stroke-width="1.2"/><line x1="235.90" y1="365.5" x2="241.00" y2="365.5" stroke="#F2B400" stroke-width="1.5"/><rect x="234.45" y="325.30" width="1.7" height="1.7" fill="#333"/><line x1="251.05" y1="413.2" x2="251.05" y2="415.0" stroke="#555" stroke-width="0.6"/><line x1="247.90" y1="367" x2="247.90" y2="372" stroke="#1E6CBE" stroke-width="1.2"/><line x1="247.90" y1="378" x2="247.90" y2="384.5" stroke="#1E6CBE" stroke-width="1.2"/><rect x="245.35" y="372" width="5.10" height="6.00" fill="#fff" stroke="#1E6CBE" stroke-width="1.2"/><line x1="245.35" y1="375" x2="250.45" y2="375" stroke="#1E6CBE" stroke-width="1.5"/><line x1="254.20" y1="368" x2="254.20" y2="372.5" stroke="#F2B400" stroke-width="1.2"/><line x1="254.20" y1="378" x2="254.20" y2="384.5" stroke="#F2B400" stroke-width="1.2"/><rect x="251.65" y="372.5" width="5.10" height="5.50" fill="#fff" stroke="#F2B400" stroke-width="1.2"/><line x1="251.65" y1="375.5" x2="256.75" y2="375.5" stroke="#F2B400" stroke-width="1.5"/><text x="247.95" y="329.30" font-size="7.6" font-family="Liberation Sans, sans-serif" fill="#1a1a1a" textLength="7" lengthAdjust="spacingAndGlyphs">ns</text><line x1="266.80" y1="413.2" x2="266.80" y2="415.0" stroke="#555" stroke-width="0.6"/><line x1="263.65" y1="355" x2="263.65" y2="359.5" stroke="#1E6CBE" stroke-width="1.2"/><line x1="263.65" y1="366.25" x2="263.65" y2="372.5" stroke="#1E6CBE" stroke-width="1.2"/><rect x="261.10" y="359.5" width="5.10" height="6.75" fill="#fff" stroke="#1E6CBE" stroke-width="1.2"/><line x1="261.10" y1="362.5" x2="266.20" y2="362.5" stroke="#1E6CBE" stroke-width="1.5"/><line x1="269.95" y1="353" x2="269.95" y2="358" stroke="#F2B400" stroke-width="1.2"/><line x1="269.95" y1="363" x2="269.95" y2="369.5" stroke="#F2B400" stroke-width="1.2"/><rect x="267.40" y="358" width="5.10" height="5.00" fill="#fff" stroke="#F2B400" stroke-width="1.2"/><line x1="267.40" y1="360.5" x2="272.50" y2="360.5" stroke="#F2B400" stroke-width="1.5"/><rect x="263.35" y="325.30" width="1.7" height="1.7" fill="#333"/><rect x="265.95" y="325.30" width="1.7" height="1.7" fill="#333"/><rect x="268.55" y="325.30" width="1.7" height="1.7" fill="#333"/><line x1="282.55" y1="413.2" x2="282.55" y2="415.0" stroke="#555" stroke-width="0.6"/><line x1="279.40" y1="354.5" x2="279.40" y2="358.75" stroke="#1E6CBE" stroke-width="1.2"/><line x1="279.40" y1="362.5" x2="279.40" y2="365" stroke="#1E6CBE" stroke-width="1.2"/><rect x="276.85" y="358.75" width="5.10" height="3.75" fill="#fff" stroke="#1E6CBE" stroke-width="1.2"/><line x1="276.85" y1="360.5" x2="281.95" y2="360.5" stroke="#1E6CBE" stroke-width="1.5"/><circle cx="279.40" cy="368.25" r="1.5" fill="#1E6CBE"/><line x1="285.70" y1="355" x2="285.70" y2="357.5" stroke="#F2B400" stroke-width="1.2"/><line x1="285.70" y1="363.75" x2="285.70" y2="367.5" stroke="#F2B400" stroke-width="1.2"/><rect x="283.15" y="357.5" width="5.10" height="6.25" fill="#fff" stroke="#F2B400" stroke-width="1.2"/><line x1="283.15" y1="360.5" x2="288.25" y2="360.5" stroke="#F2B400" stroke-width="1.5"/><text x="279.45" y="329.30" font-size="7.6" font-family="Liberation Sans, sans-serif" fill="#1a1a1a" textLength="7" lengthAdjust="spacingAndGlyphs">ns</text><line x1="298.30" y1="413.2" x2="298.30" y2="415.0" stroke="#555" stroke-width="0.6"/><line x1="295.15" y1="341.25" x2="295.15" y2="345" stroke="#1E6CBE" stroke-width="1.2"/><line x1="295.15" y1="349.5" x2="295.15" y2="352.5" stroke="#1E6CBE" stroke-width="1.2"/><rect x="292.60" y="345" width="5.10" height="4.50" fill="#fff" stroke="#1E6CBE" stroke-width="1.2"/><line x1="292.60" y1="347" x2="297.70" y2="347" stroke="#1E6CBE" stroke-width="1.5"/><circle cx="295.15" cy="339.25" r="1.5" fill="#1E6CBE"/><line x1="301.45" y1="341.25" x2="301.45" y2="345.5" stroke="#F2B400" stroke-width="1.2"/><line x1="301.45" y1="349.5" x2="301.45" y2="351.25" stroke="#F2B400" stroke-width="1.2"/><rect x="298.90" y="345.5" width="5.10" height="4.00" fill="#fff" stroke="#F2B400" stroke-width="1.2"/><line x1="298.90" y1="347.5" x2="304.00" y2="347.5" stroke="#F2B400" stroke-width="1.5"/><text x="295.20" y="329.30" font-size="7.6" font-family="Liberation Sans, sans-serif" fill="#1a1a1a" textLength="7" lengthAdjust="spacingAndGlyphs">ns</text><line x1="314.05" y1="413.2" x2="314.05" y2="415.0" stroke="#555" stroke-width="0.6"/><line x1="310.90" y1="335" x2="310.90" y2="338.75" stroke="#1E6CBE" stroke-width="1.2"/><line x1="310.90" y1="342.5" x2="310.90" y2="346.25" stroke="#1E6CBE" stroke-width="1.2"/><rect x="308.35" y="338.75" width="5.10" height="3.75" fill="#fff" stroke="#1E6CBE" stroke-width="1.2"/><line x1="308.35" y1="340.5" x2="313.45" y2="340.5" stroke="#1E6CBE" stroke-width="1.5"/><circle cx="310.90" cy="348.75" r="1.5" fill="#1E6CBE"/><line x1="317.20" y1="335.75" x2="317.20" y2="340" stroke="#F2B400" stroke-width="1.2"/><line x1="317.20" y1="344.5" x2="317.20" y2="349.5" stroke="#F2B400" stroke-width="1.2"/><rect x="314.65" y="340" width="5.10" height="4.50" fill="#fff" stroke="#F2B400" stroke-width="1.2"/><line x1="314.65" y1="342" x2="319.75" y2="342" stroke="#F2B400" stroke-width="1.5"/><rect x="311.90" y="325.30" width="1.7" height="1.7" fill="#333"/><rect x="314.50" y="325.30" width="1.7" height="1.7" fill="#333"/><line x1="329.80" y1="413.2" x2="329.80" y2="415.0" stroke="#555" stroke-width="0.6"/><line x1="326.65" y1="375.5" x2="326.65" y2="382" stroke="#1E6CBE" stroke-width="1.2"/><line x1="326.65" y1="387.5" x2="326.65" y2="393" stroke="#1E6CBE" stroke-width="1.2"/><rect x="324.10" y="382" width="5.10" height="5.50" fill="#fff" stroke="#1E6CBE" stroke-width="1.2"/><line x1="324.10" y1="385" x2="329.20" y2="385" stroke="#1E6CBE" stroke-width="1.5"/><line x1="332.95" y1="373" x2="332.95" y2="378.75" stroke="#F2B400" stroke-width="1.2"/><line x1="332.95" y1="385" x2="332.95" y2="390.5" stroke="#F2B400" stroke-width="1.2"/><rect x="330.40" y="378.75" width="5.10" height="6.25" fill="#fff" stroke="#F2B400" stroke-width="1.2"/><line x1="330.40" y1="382" x2="335.50" y2="382" stroke="#F2B400" stroke-width="1.5"/><rect x="327.65" y="325.30" width="1.7" height="1.7" fill="#333"/><rect x="330.25" y="325.30" width="1.7" height="1.7" fill="#333"/><line x1="345.55" y1="413.2" x2="345.55" y2="415.0" stroke="#555" stroke-width="0.6"/><line x1="342.40" y1="338.75" x2="342.40" y2="343.75" stroke="#1E6CBE" stroke-width="1.2"/><line x1="342.40" y1="348" x2="342.40" y2="352.5" stroke="#1E6CBE" stroke-width="1.2"/><rect x="339.85" y="343.75" width="5.10" height="4.25" fill="#fff" stroke="#1E6CBE" stroke-width="1.2"/><line x1="339.85" y1="345.75" x2="344.95" y2="345.75" stroke="#1E6CBE" stroke-width="1.5"/><circle cx="342.40" cy="335.75" r="1.5" fill="#1E6CBE"/><line x1="348.70" y1="339.5" x2="348.70" y2="342.5" stroke="#F2B400" stroke-width="1.2"/><line x1="348.70" y1="347" x2="348.70" y2="350" stroke="#F2B400" stroke-width="1.2"/><rect x="346.15" y="342.5" width="5.10" height="4.50" fill="#fff" stroke="#F2B400" stroke-width="1.2"/><line x1="346.15" y1="344.75" x2="351.25" y2="344.75" stroke="#F2B400" stroke-width="1.5"/><rect x="343.40" y="325.30" width="1.7" height="1.7" fill="#333"/><rect x="346.00" y="325.30" width="1.7" height="1.7" fill="#333"/><line x1="361.30" y1="413.2" x2="361.30" y2="415.0" stroke="#555" stroke-width="0.6"/><line x1="358.15" y1="364.7" x2="358.15" y2="370.6" stroke="#1E6CBE" stroke-width="1.2"/><line x1="358.15" y1="378.2" x2="358.15" y2="381.6" stroke="#1E6CBE" stroke-width="1.2"/><rect x="355.60" y="370.6" width="5.10" height="7.60" fill="#fff" stroke="#1E6CBE" stroke-width="1.2"/><line x1="355.60" y1="374.5" x2="360.70" y2="374.5" stroke="#1E6CBE" stroke-width="1.5"/><line x1="364.45" y1="366" x2="364.45" y2="370.6" stroke="#F2B400" stroke-width="1.2"/><line x1="364.45" y1="377.5" x2="364.45" y2="383" stroke="#F2B400" stroke-width="1.2"/><rect x="361.90" y="370.6" width="5.10" height="6.90" fill="#fff" stroke="#F2B400" stroke-width="1.2"/><line x1="361.90" y1="374" x2="367.00" y2="374" stroke="#F2B400" stroke-width="1.5"/><text x="358.20" y="329.30" font-size="7.6" font-family="Liberation Sans, sans-serif" fill="#1a1a1a" textLength="7" lengthAdjust="spacingAndGlyphs">ns</text><line x1="377.05" y1="413.2" x2="377.05" y2="415.0" stroke="#555" stroke-width="0.6"/><line x1="373.90" y1="368.2" x2="373.90" y2="374" stroke="#1E6CBE" stroke-width="1.2"/><line x1="373.90" y1="381.6" x2="373.90" y2="387.9" stroke="#1E6CBE" stroke-width="1.2"/><rect x="371.35" y="374" width="5.10" height="7.60" fill="#fff" stroke="#1E6CBE" stroke-width="1.2"/><line x1="371.35" y1="378" x2="376.45" y2="378" stroke="#1E6CBE" stroke-width="1.5"/><circle cx="373.90" cy="362" r="1.5" fill="#1E6CBE"/><circle cx="373.90" cy="364.7" r="1.5" fill="#1E6CBE"/><line x1="380.20" y1="367" x2="380.20" y2="372.3" stroke="#F2B400" stroke-width="1.2"/><line x1="380.20" y1="381" x2="380.20" y2="386" stroke="#F2B400" stroke-width="1.2"/><rect x="377.65" y="372.3" width="5.10" height="8.70" fill="#fff" stroke="#F2B400" stroke-width="1.2"/><line x1="377.65" y1="376.5" x2="382.75" y2="376.5" stroke="#F2B400" stroke-width="1.5"/><circle cx="380.20" cy="362.6" r="1.5" fill="#F2B400"/><text x="373.95" y="329.30" font-size="7.6" font-family="Liberation Sans, sans-serif" fill="#1a1a1a" textLength="7" lengthAdjust="spacingAndGlyphs">ns</text><line x1="392.80" y1="413.2" x2="392.80" y2="415.0" stroke="#555" stroke-width="0.6"/><line x1="389.65" y1="342.9" x2="389.65" y2="352.2" stroke="#1E6CBE" stroke-width="1.2"/><line x1="389.65" y1="360.2" x2="389.65" y2="365.4" stroke="#1E6CBE" stroke-width="1.2"/><rect x="387.10" y="352.2" width="5.10" height="8.00" fill="#fff" stroke="#1E6CBE" stroke-width="1.2"/><line x1="387.10" y1="356.4" x2="392.20" y2="356.4" stroke="#1E6CBE" stroke-width="1.5"/><line x1="395.95" y1="344.6" x2="395.95" y2="352.2" stroke="#F2B400" stroke-width="1.2"/><line x1="395.95" y1="363.7" x2="395.95" y2="370.6" stroke="#F2B400" stroke-width="1.2"/><rect x="393.40" y="352.2" width="5.10" height="11.50" fill="#fff" stroke="#F2B400" stroke-width="1.2"/><line x1="393.40" y1="357" x2="398.50" y2="357" stroke="#F2B400" stroke-width="1.5"/><text x="389.70" y="329.30" font-size="7.6" font-family="Liberation Sans, sans-serif" fill="#1a1a1a" textLength="7" lengthAdjust="spacingAndGlyphs">ns</text><line x1="408.55" y1="413.2" x2="408.55" y2="415.0" stroke="#555" stroke-width="0.6"/><line x1="405.40" y1="339.4" x2="405.40" y2="341.2" stroke="#1E6CBE" stroke-width="1.2"/><line x1="405.40" y1="344.6" x2="405.40" y2="345.7" stroke="#1E6CBE" stroke-width="1.2"/><rect x="402.85" y="341.2" width="5.10" height="3.40" fill="#fff" stroke="#1E6CBE" stroke-width="1.2"/><line x1="402.85" y1="343" x2="407.95" y2="343" stroke="#1E6CBE" stroke-width="1.5"/><line x1="411.70" y1="339.4" x2="411.70" y2="341.2" stroke="#F2B400" stroke-width="1.2"/><line x1="411.70" y1="345.3" x2="411.70" y2="346.5" stroke="#F2B400" stroke-width="1.2"/><rect x="409.15" y="341.2" width="5.10" height="4.10" fill="#fff" stroke="#F2B400" stroke-width="1.2"/><line x1="409.15" y1="343.2" x2="414.25" y2="343.2" stroke="#F2B400" stroke-width="1.5"/><circle cx="411.70" cy="349.1" r="1.5" fill="#F2B400"/><text x="405.45" y="329.30" font-size="7.6" font-family="Liberation Sans, sans-serif" fill="#1a1a1a" textLength="7" lengthAdjust="spacingAndGlyphs">ns</text><line x1="424.30" y1="413.2" x2="424.30" y2="415.0" stroke="#555" stroke-width="0.6"/><line x1="421.15" y1="346.3" x2="421.15" y2="348.8" stroke="#1E6CBE" stroke-width="1.2"/><line x1="421.15" y1="353.3" x2="421.15" y2="356.7" stroke="#1E6CBE" stroke-width="1.2"/><rect x="418.60" y="348.8" width="5.10" height="4.50" fill="#fff" stroke="#1E6CBE" stroke-width="1.2"/><line x1="418.60" y1="351" x2="423.70" y2="351" stroke="#1E6CBE" stroke-width="1.5"/><line x1="427.45" y1="344.6" x2="427.45" y2="348" stroke="#F2B400" stroke-width="1.2"/><line x1="427.45" y1="353.3" x2="427.45" y2="356.7" stroke="#F2B400" stroke-width="1.2"/><rect x="424.90" y="348" width="5.10" height="5.30" fill="#fff" stroke="#F2B400" stroke-width="1.2"/><line x1="424.90" y1="350.5" x2="430.00" y2="350.5" stroke="#F2B400" stroke-width="1.5"/><text x="421.20" y="329.30" font-size="7.6" font-family="Liberation Sans, sans-serif" fill="#1a1a1a" textLength="7" lengthAdjust="spacingAndGlyphs">ns</text><line x1="440.05" y1="413.2" x2="440.05" y2="415.0" stroke="#555" stroke-width="0.6"/><line x1="436.90" y1="363.7" x2="436.90" y2="367.1" stroke="#1E6CBE" stroke-width="1.2"/><line x1="436.90" y1="371.6" x2="436.90" y2="374" stroke="#1E6CBE" stroke-width="1.2"/><rect x="434.35" y="367.1" width="5.10" height="4.50" fill="#fff" stroke="#1E6CBE" stroke-width="1.2"/><line x1="434.35" y1="369.5" x2="439.45" y2="369.5" stroke="#1E6CBE" stroke-width="1.5"/><circle cx="436.90" cy="362.6" r="1.5" fill="#1E6CBE"/><circle cx="436.90" cy="376.5" r="1.5" fill="#1E6CBE"/><line x1="443.20" y1="363.7" x2="443.20" y2="366.4" stroke="#F2B400" stroke-width="1.2"/><line x1="443.20" y1="371.6" x2="443.20" y2="374" stroke="#F2B400" stroke-width="1.2"/><rect x="440.65" y="366.4" width="5.10" height="5.20" fill="#fff" stroke="#F2B400" stroke-width="1.2"/><line x1="440.65" y1="369" x2="445.75" y2="369" stroke="#F2B400" stroke-width="1.5"/><text x="436.95" y="329.30" font-size="7.6" font-family="Liberation Sans, sans-serif" fill="#1a1a1a" textLength="7" lengthAdjust="spacingAndGlyphs">ns</text><line x1="455.80" y1="413.2" x2="455.80" y2="415.0" stroke="#555" stroke-width="0.6"/><line x1="452.65" y1="377.5" x2="452.65" y2="387.9" stroke="#1E6CBE" stroke-width="1.2"/><line x1="452.65" y1="394.8" x2="452.65" y2="403.5" stroke="#1E6CBE" stroke-width="1.2"/><rect x="450.10" y="387.9" width="5.10" height="6.90" fill="#fff" stroke="#1E6CBE" stroke-width="1.2"/><line x1="450.10" y1="391" x2="455.20" y2="391" stroke="#1E6CBE" stroke-width="1.5"/><circle cx="452.65" cy="373" r="1.5" fill="#1E6CBE"/><circle cx="452.65" cy="406.9" r="1.5" fill="#1E6CBE"/><line x1="458.95" y1="380" x2="458.95" y2="388.9" stroke="#F2B400" stroke-width="1.2"/><line x1="458.95" y1="398.3" x2="458.95" y2="408.6" stroke="#F2B400" stroke-width="1.2"/><rect x="456.40" y="388.9" width="5.10" height="9.40" fill="#fff" stroke="#F2B400" stroke-width="1.2"/><line x1="456.40" y1="393" x2="461.50" y2="393" stroke="#F2B400" stroke-width="1.5"/><rect x="454.95" y="325.30" width="1.7" height="1.7" fill="#333"/><line x1="471.55" y1="413.2" x2="471.55" y2="415.0" stroke="#555" stroke-width="0.6"/><line x1="468.40" y1="339.4" x2="468.40" y2="341.8" stroke="#1E6CBE" stroke-width="1.2"/><line x1="468.40" y1="345.7" x2="468.40" y2="348" stroke="#1E6CBE" stroke-width="1.2"/><rect x="465.85" y="341.8" width="5.10" height="3.90" fill="#fff" stroke="#1E6CBE" stroke-width="1.2"/><line x1="465.85" y1="343.8" x2="470.95" y2="343.8" stroke="#1E6CBE" stroke-width="1.5"/><line x1="474.70" y1="339.4" x2="474.70" y2="341.8" stroke="#F2B400" stroke-width="1.2"/><line x1="474.70" y1="345.7" x2="474.70" y2="348" stroke="#F2B400" stroke-width="1.2"/><rect x="472.15" y="341.8" width="5.10" height="3.90" fill="#fff" stroke="#F2B400" stroke-width="1.2"/><line x1="472.15" y1="343.8" x2="477.25" y2="343.8" stroke="#F2B400" stroke-width="1.5"/><text x="468.45" y="329.30" font-size="7.6" font-family="Liberation Sans, sans-serif" fill="#1a1a1a" textLength="7" lengthAdjust="spacingAndGlyphs">ns</text><text x="492" y="359.4" font-size="6.8" font-family="Liberation Serif, serif" fill="#222">category</text><line x1="497.30" y1="363.70" x2="497.30" y2="373.50" stroke="#1E6CBE" stroke-width="1.1"/><rect x="493.10" y="365.30" width="8.4" height="6.6" rx="0.6" fill="#fff" stroke="#1E6CBE" stroke-width="1.2"/><line x1="493.10" y1="368.60" x2="501.50" y2="368.60" stroke="#1E6CBE" stroke-width="1.3"/><text x="506.3" y="370.80" font-size="6.1" font-family="Liberation Serif, serif" fill="#222">IS1A</text><line x1="497.30" y1="374.10" x2="497.30" y2="383.90" stroke="#F2B400" stroke-width="1.1"/><rect x="493.10" y="375.70" width="8.4" height="6.6" rx="0.6" fill="#fff" stroke="#F2B400" stroke-width="1.2"/><line x1="493.10" y1="379.00" x2="501.50" y2="379.00" stroke="#F2B400" stroke-width="1.3"/><text x="506.3" y="381.20" font-size="6.1" font-family="Liberation Serif, serif" fill="#222">IS1B</text><line x1="37" y1="423.8" x2="37" y2="511.3" stroke="#7a7a7a" stroke-width="1.1"/><line x1="37" y1="511.3" x2="476.3" y2="511.3" stroke="#555" stroke-width="1.0"/><line x1="35.2" y1="445.5" x2="37" y2="445.5" stroke="#555" stroke-width="0.6"/><text x="33.2" y="447.70" font-size="6.9" font-family="Liberation Serif, serif" text-anchor="end" fill="#222">0.50</text><line x1="35.2" y1="467.5" x2="37" y2="467.5" stroke="#555" stroke-width="0.6"/><text x="33.2" y="469.70" font-size="6.9" font-family="Liberation Serif, serif" text-anchor="end" fill="#222">0.25</text><line x1="35.2" y1="489.5" x2="37" y2="489.5" stroke="#555" stroke-width="0.6"/><text x="33.2" y="491.70" font-size="6.9" font-family="Liberation Serif, serif" text-anchor="end" fill="#222">0.00</text><line x1="35.2" y1="511.3" x2="37" y2="511.3" stroke="#555" stroke-width="0.6"/><text x="33.2" y="513.50" font-size="6.9" font-family="Liberation Serif, serif" text-anchor="end" fill="#222">−0.25</text><text x="13.9" y="467.7" font-size="7.2" font-family="Liberation Serif, serif" text-anchor="middle" fill="#222" transform="rotate(-90 13.9 467.7)">Enrichment score</text><text x="11.3" y="429.1" font-size="8.6" font-family="Liberation Sans, sans-serif" font-weight="bold" textLength="12.2" lengthAdjust="spacingAndGlyphs">IS2</text><line x1="45.90" y1="511.3" x2="45.90" y2="513.1" stroke="#555" stroke-width="0.6"/><line x1="41.74" y1="466.25" x2="41.74" y2="481.25" stroke="#1E6CBE" stroke-width="1.2"/><line x1="41.74" y1="495" x2="41.74" y2="501.25" stroke="#1E6CBE" stroke-width="1.2"/><rect x="40.26" y="481.25" width="2.96" height="13.75" fill="#fff" stroke="#1E6CBE" stroke-width="1.2"/><line x1="40.26" y1="486.25" x2="43.22" y2="486.25" stroke="#1E6CBE" stroke-width="1.5"/><line x1="45.90" y1="483.75" x2="45.90" y2="490.5" stroke="#F2B400" stroke-width="1.2"/><line x1="45.90" y1="496.25" x2="45.90" y2="502.5" stroke="#F2B400" stroke-width="1.2"/><rect x="44.42" y="490.5" width="2.96" height="5.75" fill="#fff" stroke="#F2B400" stroke-width="1.2"/><line x1="44.42" y1="492.5" x2="47.38" y2="492.5" stroke="#F2B400" stroke-width="1.5"/><line x1="50.06" y1="471.25" x2="50.06" y2="478.75" stroke="#828282" stroke-width="1.2"/><line x1="50.06" y1="488.75" x2="50.06" y2="497.5" stroke="#828282" stroke-width="1.2"/><rect x="48.58" y="478.75" width="2.96" height="10.00" fill="#fff" stroke="#828282" stroke-width="1.2"/><line x1="48.58" y1="482.5" x2="51.54" y2="482.5" stroke="#828282" stroke-width="1.5"/><circle cx="50.06" cy="456.25" r="1.5" fill="#828282"/><circle cx="50.06" cy="462.5" r="1.5" fill="#828282"/><rect x="41.15" y="423.50" width="1.7" height="1.7" fill="#333"/><rect x="43.75" y="423.50" width="1.7" height="1.7" fill="#333"/><rect x="46.35" y="423.50" width="1.7" height="1.7" fill="#333"/><rect x="48.95" y="423.50" width="1.7" height="1.7" fill="#333"/><line x1="61.50" y1="511.3" x2="61.50" y2="513.1" stroke="#555" stroke-width="0.6"/><line x1="57.34" y1="455" x2="57.34" y2="459.5" stroke="#1E6CBE" stroke-width="1.2"/><line x1="57.34" y1="466.25" x2="57.34" y2="473.75" stroke="#1E6CBE" stroke-width="1.2"/><rect x="55.86" y="459.5" width="2.96" height="6.75" fill="#fff" stroke="#1E6CBE" stroke-width="1.2"/><line x1="55.86" y1="462.5" x2="58.82" y2="462.5" stroke="#1E6CBE" stroke-width="1.5"/><circle cx="57.34" cy="477.5" r="1.5" fill="#1E6CBE"/><line x1="61.50" y1="456.25" x2="61.50" y2="466.25" stroke="#F2B400" stroke-width="1.2"/><line x1="61.50" y1="471.25" x2="61.50" y2="478" stroke="#F2B400" stroke-width="1.2"/><rect x="60.02" y="466.25" width="2.96" height="5.00" fill="#fff" stroke="#F2B400" stroke-width="1.2"/><line x1="60.02" y1="468.75" x2="62.98" y2="468.75" stroke="#F2B400" stroke-width="1.5"/><line x1="65.66" y1="447.5" x2="65.66" y2="457" stroke="#828282" stroke-width="1.2"/><line x1="65.66" y1="465.5" x2="65.66" y2="473.75" stroke="#828282" stroke-width="1.2"/><rect x="64.18" y="457" width="2.96" height="8.50" fill="#fff" stroke="#828282" stroke-width="1.2"/><line x1="64.18" y1="461.25" x2="67.14" y2="461.25" stroke="#828282" stroke-width="1.5"/><rect x="56.75" y="423.50" width="1.7" height="1.7" fill="#333"/><rect x="59.35" y="423.50" width="1.7" height="1.7" fill="#333"/><rect x="61.95" y="423.50" width="1.7" height="1.7" fill="#333"/><rect x="64.55" y="423.50" width="1.7" height="1.7" fill="#333"/><line x1="77.10" y1="511.3" x2="77.10" y2="513.1" stroke="#555" stroke-width="0.6"/><line x1="72.94" y1="441.25" x2="72.94" y2="447.5" stroke="#1E6CBE" stroke-width="1.2"/><line x1="72.94" y1="455" x2="72.94" y2="462.5" stroke="#1E6CBE" stroke-width="1.2"/><rect x="71.46" y="447.5" width="2.96" height="7.50" fill="#fff" stroke="#1E6CBE" stroke-width="1.2"/><line x1="71.46" y1="451.25" x2="74.42" y2="451.25" stroke="#1E6CBE" stroke-width="1.5"/><circle cx="72.94" cy="466.25" r="1.5" fill="#1E6CBE"/><line x1="77.10" y1="443.75" x2="77.10" y2="452" stroke="#F2B400" stroke-width="1.2"/><line x1="77.10" y1="458" x2="77.10" y2="465" stroke="#F2B400" stroke-width="1.2"/><rect x="75.62" y="452" width="2.96" height="6.00" fill="#fff" stroke="#F2B400" stroke-width="1.2"/><line x1="75.62" y1="455" x2="78.58" y2="455" stroke="#F2B400" stroke-width="1.5"/><circle cx="77.10" cy="442" r="1.5" fill="#F2B400"/><circle cx="77.10" cy="468.75" r="1.5" fill="#F2B400"/><line x1="81.26" y1="433.75" x2="81.26" y2="442.5" stroke="#828282" stroke-width="1.2"/><line x1="81.26" y1="452.5" x2="81.26" y2="458.75" stroke="#828282" stroke-width="1.2"/><rect x="79.78" y="442.5" width="2.96" height="10.00" fill="#fff" stroke="#828282" stroke-width="1.2"/><line x1="79.78" y1="447.5" x2="82.74" y2="447.5" stroke="#828282" stroke-width="1.5"/><rect x="72.35" y="423.50" width="1.7" height="1.7" fill="#333"/><rect x="74.95" y="423.50" width="1.7" height="1.7" fill="#333"/><rect x="77.55" y="423.50" width="1.7" height="1.7" fill="#333"/><rect x="80.15" y="423.50" width="1.7" height="1.7" fill="#333"/><line x1="92.70" y1="511.3" x2="92.70" y2="513.1" stroke="#555" stroke-width="0.6"/><line x1="88.54" y1="438" x2="88.54" y2="439.5" stroke="#1E6CBE" stroke-width="1.2"/><line x1="88.54" y1="443" x2="88.54" y2="445" stroke="#1E6CBE" stroke-width="1.2"/><rect x="87.06" y="439.5" width="2.96" height="3.50" fill="#fff" stroke="#1E6CBE" stroke-width="1.2"/><line x1="87.06" y1="441.25" x2="90.02" y2="441.25" stroke="#1E6CBE" stroke-width="1.5"/><line x1="92.70" y1="438" x2="92.70" y2="441.25" stroke="#F2B400" stroke-width="1.2"/><line x1="92.70" y1="445" x2="92.70" y2="447" stroke="#F2B400" stroke-width="1.2"/><rect x="91.22" y="441.25" width="2.96" height="3.75" fill="#fff" stroke="#F2B400" stroke-width="1.2"/><line x1="91.22" y1="443" x2="94.18" y2="443" stroke="#F2B400" stroke-width="1.5"/><circle cx="92.70" cy="449.5" r="1.5" fill="#F2B400"/><line x1="96.86" y1="435" x2="96.86" y2="438.75" stroke="#828282" stroke-width="1.2"/><line x1="96.86" y1="443.75" x2="96.86" y2="445" stroke="#828282" stroke-width="1.2"/><rect x="95.38" y="438.75" width="2.96" height="5.00" fill="#fff" stroke="#828282" stroke-width="1.2"/><line x1="95.38" y1="441.25" x2="98.34" y2="441.25" stroke="#828282" stroke-width="1.5"/><circle cx="96.86" cy="447" r="1.5" fill="#828282"/><circle cx="96.86" cy="448.75" r="1.5" fill="#828282"/><rect x="87.95" y="423.50" width="1.7" height="1.7" fill="#333"/><rect x="90.55" y="423.50" width="1.7" height="1.7" fill="#333"/><rect x="93.15" y="423.50" width="1.7" height="1.7" fill="#333"/><rect x="95.75" y="423.50" width="1.7" height="1.7" fill="#333"/><line x1="108.30" y1="511.3" x2="108.30" y2="513.1" stroke="#555" stroke-width="0.6"/><line x1="104.14" y1="454.5" x2="104.14" y2="458.75" stroke="#1E6CBE" stroke-width="1.2"/><line x1="104.14" y1="463" x2="104.14" y2="468" stroke="#1E6CBE" stroke-width="1.2"/><rect x="102.66" y="458.75" width="2.96" height="4.25" fill="#fff" stroke="#1E6CBE" stroke-width="1.2"/><line x1="102.66" y1="460.75" x2="105.62" y2="460.75" stroke="#1E6CBE" stroke-width="1.5"/><line x1="108.30" y1="456.25" x2="108.30" y2="458.75" stroke="#F2B400" stroke-width="1.2"/><line x1="108.30" y1="463.75" x2="108.30" y2="467" stroke="#F2B400" stroke-width="1.2"/><rect x="106.82" y="458.75" width="2.96" height="5.00" fill="#fff" stroke="#F2B400" stroke-width="1.2"/><line x1="106.82" y1="461" x2="109.78" y2="461" stroke="#F2B400" stroke-width="1.5"/><line x1="112.46" y1="452" x2="112.46" y2="457" stroke="#828282" stroke-width="1.2"/><line x1="112.46" y1="461.25" x2="112.46" y2="463" stroke="#828282" stroke-width="1.2"/><rect x="110.98" y="457" width="2.96" height="4.25" fill="#fff" stroke="#828282" stroke-width="1.2"/><line x1="110.98" y1="459" x2="113.94" y2="459" stroke="#828282" stroke-width="1.5"/><rect x="103.55" y="423.50" width="1.7" height="1.7" fill="#333"/><rect x="106.15" y="423.50" width="1.7" height="1.7" fill="#333"/><rect x="108.75" y="423.50" width="1.7" height="1.7" fill="#333"/><rect x="111.35" y="423.50" width="1.7" height="1.7" fill="#333"/><line x1="123.90" y1="511.3" x2="123.90" y2="513.1" stroke="#555" stroke-width="0.6"/><line x1="119.74" y1="467" x2="119.74" y2="468.75" stroke="#1E6CBE" stroke-width="1.2"/><line x1="119.74" y1="472.5" x2="119.74" y2="474.5" stroke="#1E6CBE" stroke-width="1.2"/><rect x="118.26" y="468.75" width="2.96" height="3.75" fill="#fff" stroke="#1E6CBE" stroke-width="1.2"/><line x1="118.26" y1="470.5" x2="121.22" y2="470.5" stroke="#1E6CBE" stroke-width="1.5"/><circle cx="119.74" cy="476.25" r="1.5" fill="#1E6CBE"/><line x1="123.90" y1="467.5" x2="123.90" y2="470.5" stroke="#F2B400" stroke-width="1.2"/><line x1="123.90" y1="475" x2="123.90" y2="477" stroke="#F2B400" stroke-width="1.2"/><rect x="122.42" y="470.5" width="2.96" height="4.50" fill="#fff" stroke="#F2B400" stroke-width="1.2"/><line x1="122.42" y1="472.5" x2="125.38" y2="472.5" stroke="#F2B400" stroke-width="1.5"/><line x1="128.06" y1="463" x2="128.06" y2="468" stroke="#828282" stroke-width="1.2"/><line x1="128.06" y1="472.5" x2="128.06" y2="474.5" stroke="#828282" stroke-width="1.2"/><rect x="126.58" y="468" width="2.96" height="4.50" fill="#fff" stroke="#828282" stroke-width="1.2"/><line x1="126.58" y1="470" x2="129.54" y2="470" stroke="#828282" stroke-width="1.5"/><rect x="119.15" y="423.50" width="1.7" height="1.7" fill="#333"/><rect x="121.75" y="423.50" width="1.7" height="1.7" fill="#333"/><rect x="124.35" y="423.50" width="1.7" height="1.7" fill="#333"/><rect x="126.95" y="423.50" width="1.7" height="1.7" fill="#333"/><line x1="139.50" y1="511.3" x2="139.50" y2="513.1" stroke="#555" stroke-width="0.6"/><line x1="135.34" y1="455.5" x2="135.34" y2="463" stroke="#1E6CBE" stroke-width="1.2"/><line x1="135.34" y1="468.75" x2="135.34" y2="474.5" stroke="#1E6CBE" stroke-width="1.2"/><rect x="133.86" y="463" width="2.96" height="5.75" fill="#fff" stroke="#1E6CBE" stroke-width="1.2"/><line x1="133.86" y1="465.5" x2="136.82" y2="465.5" stroke="#1E6CBE" stroke-width="1.5"/><line x1="139.50" y1="457.5" x2="139.50" y2="464.5" stroke="#F2B400" stroke-width="1.2"/><line x1="139.50" y1="468.75" x2="139.50" y2="471.25" stroke="#F2B400" stroke-width="1.2"/><rect x="138.02" y="464.5" width="2.96" height="4.25" fill="#fff" stroke="#F2B400" stroke-width="1.2"/><line x1="138.02" y1="466.5" x2="140.98" y2="466.5" stroke="#F2B400" stroke-width="1.5"/><circle cx="139.50" cy="458" r="1.5" fill="#F2B400"/><circle cx="139.50" cy="475" r="1.5" fill="#F2B400"/><line x1="143.66" y1="452" x2="143.66" y2="458.75" stroke="#828282" stroke-width="1.2"/><line x1="143.66" y1="464.5" x2="143.66" y2="470.5" stroke="#828282" stroke-width="1.2"/><rect x="142.18" y="458.75" width="2.96" height="5.75" fill="#fff" stroke="#828282" stroke-width="1.2"/><line x1="142.18" y1="461.5" x2="145.14" y2="461.5" stroke="#828282" stroke-width="1.5"/><circle cx="143.66" cy="448" r="1.5" fill="#828282"/><rect x="134.75" y="423.50" width="1.7" height="1.7" fill="#333"/><rect x="137.35" y="423.50" width="1.7" height="1.7" fill="#333"/><rect x="139.95" y="423.50" width="1.7" height="1.7" fill="#333"/><rect x="142.55" y="423.50" width="1.7" height="1.7" fill="#333"/><line x1="155.10" y1="511.3" x2="155.10" y2="513.1" stroke="#555" stroke-width="0.6"/><line x1="150.94" y1="451.25" x2="150.94" y2="456.25" stroke="#1E6CBE" stroke-width="1.2"/><line x1="150.94" y1="461.25" x2="150.94" y2="466.25" stroke="#1E6CBE" stroke-width="1.2"/><rect x="149.46" y="456.25" width="2.96" height="5.00" fill="#fff" stroke="#1E6CBE" stroke-width="1.2"/><line x1="149.46" y1="458.75" x2="152.42" y2="458.75" stroke="#1E6CBE" stroke-width="1.5"/><line x1="155.10" y1="455" x2="155.10" y2="458" stroke="#F2B400" stroke-width="1.2"/><line x1="155.10" y1="462" x2="155.10" y2="463.75" stroke="#F2B400" stroke-width="1.2"/><rect x="153.62" y="458" width="2.96" height="4.00" fill="#fff" stroke="#F2B400" stroke-width="1.2"/><line x1="153.62" y1="460" x2="156.58" y2="460" stroke="#F2B400" stroke-width="1.5"/><line x1="159.26" y1="450.5" x2="159.26" y2="455" stroke="#828282" stroke-width="1.2"/><line x1="159.26" y1="460" x2="159.26" y2="462.5" stroke="#828282" stroke-width="1.2"/><rect x="157.78" y="455" width="2.96" height="5.00" fill="#fff" stroke="#828282" stroke-width="1.2"/><line x1="157.78" y1="457.5" x2="160.74" y2="457.5" stroke="#828282" stroke-width="1.5"/><circle cx="159.26" cy="447.2" r="1.5" fill="#828282"/><rect x="151.65" y="423.50" width="1.7" height="1.7" fill="#333"/><rect x="154.25" y="423.50" width="1.7" height="1.7" fill="#333"/><rect x="156.85" y="423.50" width="1.7" height="1.7" fill="#333"/><line x1="170.70" y1="511.3" x2="170.70" y2="513.1" stroke="#555" stroke-width="0.6"/><line x1="166.54" y1="470" x2="166.54" y2="477" stroke="#1E6CBE" stroke-width="1.2"/><line x1="166.54" y1="484.5" x2="166.54" y2="491.25" stroke="#1E6CBE" stroke-width="1.2"/><rect x="165.06" y="477" width="2.96" height="7.50" fill="#fff" stroke="#1E6CBE" stroke-width="1.2"/><line x1="165.06" y1="480.5" x2="168.02" y2="480.5" stroke="#1E6CBE" stroke-width="1.5"/><circle cx="166.54" cy="494.5" r="1.5" fill="#1E6CBE"/><line x1="170.70" y1="475.5" x2="170.70" y2="481.25" stroke="#F2B400" stroke-width="1.2"/><line x1="170.70" y1="486.25" x2="170.70" y2="490.5" stroke="#F2B400" stroke-width="1.2"/><rect x="169.22" y="481.25" width="2.96" height="5.00" fill="#fff" stroke="#F2B400" stroke-width="1.2"/><line x1="169.22" y1="483.5" x2="172.18" y2="483.5" stroke="#F2B400" stroke-width="1.5"/><circle cx="170.70" cy="492.5" r="1.5" fill="#F2B400"/><line x1="174.86" y1="463" x2="174.86" y2="472" stroke="#828282" stroke-width="1.2"/><line x1="174.86" y1="480.5" x2="174.86" y2="488.75" stroke="#828282" stroke-width="1.2"/><rect x="173.38" y="472" width="2.96" height="8.50" fill="#fff" stroke="#828282" stroke-width="1.2"/><line x1="173.38" y1="476.25" x2="176.34" y2="476.25" stroke="#828282" stroke-width="1.5"/><circle cx="174.86" cy="448" r="1.5" fill="#828282"/><circle cx="174.86" cy="453.75" r="1.5" fill="#828282"/><rect x="165.95" y="423.50" width="1.7" height="1.7" fill="#333"/><rect x="168.55" y="423.50" width="1.7" height="1.7" fill="#333"/><rect x="171.15" y="423.50" width="1.7" height="1.7" fill="#333"/><rect x="173.75" y="423.50" width="1.7" height="1.7" fill="#333"/><line x1="186.30" y1="511.3" x2="186.30" y2="513.1" stroke="#555" stroke-width="0.6"/><line x1="182.14" y1="470" x2="182.14" y2="473.75" stroke="#1E6CBE" stroke-width="1.2"/><line x1="182.14" y1="478.75" x2="182.14" y2="482.5" stroke="#1E6CBE" stroke-width="1.2"/><rect x="180.66" y="473.75" width="2.96" height="5.00" fill="#fff" stroke="#1E6CBE" stroke-width="1.2"/><line x1="180.66" y1="476" x2="183.62" y2="476" stroke="#1E6CBE" stroke-width="1.5"/><circle cx="182.14" cy="490.5" r="1.5" fill="#1E6CBE"/><line x1="186.30" y1="472.5" x2="186.30" y2="475.5" stroke="#F2B400" stroke-width="1.2"/><line x1="186.30" y1="480" x2="186.30" y2="484.5" stroke="#F2B400" stroke-width="1.2"/><rect x="184.82" y="475.5" width="2.96" height="4.50" fill="#fff" stroke="#F2B400" stroke-width="1.2"/><line x1="184.82" y1="477.5" x2="187.78" y2="477.5" stroke="#F2B400" stroke-width="1.5"/><circle cx="186.30" cy="487" r="1.5" fill="#F2B400"/><line x1="190.46" y1="467" x2="190.46" y2="473.75" stroke="#828282" stroke-width="1.2"/><line x1="190.46" y1="478.75" x2="190.46" y2="482" stroke="#828282" stroke-width="1.2"/><rect x="188.98" y="473.75" width="2.96" height="5.00" fill="#fff" stroke="#828282" stroke-width="1.2"/><line x1="188.98" y1="476.25" x2="191.94" y2="476.25" stroke="#828282" stroke-width="1.5"/><rect x="185.45" y="423.50" width="1.7" height="1.7" fill="#333"/><line x1="201.90" y1="511.3" x2="201.90" y2="513.1" stroke="#555" stroke-width="0.6"/><line x1="197.74" y1="457.5" x2="197.74" y2="465" stroke="#1E6CBE" stroke-width="1.2"/><line x1="197.74" y1="476.25" x2="197.74" y2="487" stroke="#1E6CBE" stroke-width="1.2"/><rect x="196.26" y="465" width="2.96" height="11.25" fill="#fff" stroke="#1E6CBE" stroke-width="1.2"/><line x1="196.26" y1="469.5" x2="199.22" y2="469.5" stroke="#1E6CBE" stroke-width="1.5"/><line x1="201.90" y1="460" x2="201.90" y2="470" stroke="#F2B400" stroke-width="1.2"/><line x1="201.90" y1="476.25" x2="201.90" y2="480" stroke="#F2B400" stroke-width="1.2"/><rect x="200.42" y="470" width="2.96" height="6.25" fill="#fff" stroke="#F2B400" stroke-width="1.2"/><line x1="200.42" y1="472.5" x2="203.38" y2="472.5" stroke="#F2B400" stroke-width="1.5"/><circle cx="201.90" cy="459.5" r="1.5" fill="#F2B400"/><circle cx="201.90" cy="482.5" r="1.5" fill="#F2B400"/><line x1="206.06" y1="447.5" x2="206.06" y2="460" stroke="#828282" stroke-width="1.2"/><line x1="206.06" y1="470" x2="206.06" y2="480" stroke="#828282" stroke-width="1.2"/><rect x="204.58" y="460" width="2.96" height="10.00" fill="#fff" stroke="#828282" stroke-width="1.2"/><line x1="204.58" y1="465" x2="207.54" y2="465" stroke="#828282" stroke-width="1.5"/><circle cx="206.06" cy="443" r="1.5" fill="#828282"/><rect x="197.15" y="423.50" width="1.7" height="1.7" fill="#333"/><rect x="199.75" y="423.50" width="1.7" height="1.7" fill="#333"/><rect x="202.35" y="423.50" width="1.7" height="1.7" fill="#333"/><rect x="204.95" y="423.50" width="1.7" height="1.7" fill="#333"/><line x1="217.50" y1="511.3" x2="217.50" y2="513.1" stroke="#555" stroke-width="0.6"/><line x1="213.34" y1="465" x2="213.34" y2="468" stroke="#1E6CBE" stroke-width="1.2"/><line x1="213.34" y1="472.5" x2="213.34" y2="477" stroke="#1E6CBE" stroke-width="1.2"/><rect x="211.86" y="468" width="2.96" height="4.50" fill="#fff" stroke="#1E6CBE" stroke-width="1.2"/><line x1="211.86" y1="470" x2="214.82" y2="470" stroke="#1E6CBE" stroke-width="1.5"/><line x1="217.50" y1="466.25" x2="217.50" y2="468" stroke="#F2B400" stroke-width="1.2"/><line x1="217.50" y1="472" x2="217.50" y2="474.5" stroke="#F2B400" stroke-width="1.2"/><rect x="216.02" y="468" width="2.96" height="4.00" fill="#fff" stroke="#F2B400" stroke-width="1.2"/><line x1="216.02" y1="470" x2="218.98" y2="470" stroke="#F2B400" stroke-width="1.5"/><line x1="221.66" y1="458.75" x2="221.66" y2="463.75" stroke="#828282" stroke-width="1.2"/><line x1="221.66" y1="470" x2="221.66" y2="472.5" stroke="#828282" stroke-width="1.2"/><rect x="220.18" y="463.75" width="2.96" height="6.25" fill="#fff" stroke="#828282" stroke-width="1.2"/><line x1="220.18" y1="466.5" x2="223.14" y2="466.5" stroke="#828282" stroke-width="1.5"/><circle cx="221.66" cy="452.5" r="1.5" fill="#828282"/><circle cx="221.66" cy="457" r="1.5" fill="#828282"/><rect x="212.75" y="423.50" width="1.7" height="1.7" fill="#333"/><rect x="215.35" y="423.50" width="1.7" height="1.7" fill="#333"/><rect x="217.95" y="423.50" width="1.7" height="1.7" fill="#333"/><rect x="220.55" y="423.50" width="1.7" height="1.7" fill="#333"/><line x1="233.10" y1="511.3" x2="233.10" y2="513.1" stroke="#555" stroke-width="0.6"/><line x1="228.94" y1="463.75" x2="228.94" y2="468" stroke="#1E6CBE" stroke-width="1.2"/><line x1="228.94" y1="472.5" x2="228.94" y2="477" stroke="#1E6CBE" stroke-width="1.2"/><rect x="227.46" y="468" width="2.96" height="4.50" fill="#fff" stroke="#1E6CBE" stroke-width="1.2"/><line x1="227.46" y1="470" x2="230.42" y2="470" stroke="#1E6CBE" stroke-width="1.5"/><line x1="233.10" y1="467.5" x2="233.10" y2="470" stroke="#F2B400" stroke-width="1.2"/><line x1="233.10" y1="473.75" x2="233.10" y2="475.5" stroke="#F2B400" stroke-width="1.2"/><rect x="231.62" y="470" width="2.96" height="3.75" fill="#fff" stroke="#F2B400" stroke-width="1.2"/><line x1="231.62" y1="472" x2="234.58" y2="472" stroke="#F2B400" stroke-width="1.5"/><circle cx="233.10" cy="477.5" r="1.5" fill="#F2B400"/><line x1="237.26" y1="462.5" x2="237.26" y2="465" stroke="#828282" stroke-width="1.2"/><line x1="237.26" y1="470" x2="237.26" y2="472.5" stroke="#828282" stroke-width="1.2"/><rect x="235.78" y="465" width="2.96" height="5.00" fill="#fff" stroke="#828282" stroke-width="1.2"/><line x1="235.78" y1="467.5" x2="238.74" y2="467.5" stroke="#828282" stroke-width="1.5"/><circle cx="237.26" cy="456.25" r="1.5" fill="#828282"/><circle cx="237.26" cy="458.75" r="1.5" fill="#828282"/><rect x="228.35" y="423.50" width="1.7" height="1.7" fill="#333"/><rect x="230.95" y="423.50" width="1.7" height="1.7" fill="#333"/><rect x="233.55" y="423.50" width="1.7" height="1.7" fill="#333"/><rect x="236.15" y="423.50" width="1.7" height="1.7" fill="#333"/><line x1="248.70" y1="511.3" x2="248.70" y2="513.1" stroke="#555" stroke-width="0.6"/><line x1="244.54" y1="474.5" x2="244.54" y2="478.75" stroke="#1E6CBE" stroke-width="1.2"/><line x1="244.54" y1="483.75" x2="244.54" y2="486.25" stroke="#1E6CBE" stroke-width="1.2"/><rect x="243.06" y="478.75" width="2.96" height="5.00" fill="#fff" stroke="#1E6CBE" stroke-width="1.2"/><line x1="243.06" y1="481" x2="246.02" y2="481" stroke="#1E6CBE" stroke-width="1.5"/><line x1="248.70" y1="473.75" x2="248.70" y2="478" stroke="#F2B400" stroke-width="1.2"/><line x1="248.70" y1="483.75" x2="248.70" y2="486.25" stroke="#F2B400" stroke-width="1.2"/><rect x="247.22" y="478" width="2.96" height="5.75" fill="#fff" stroke="#F2B400" stroke-width="1.2"/><line x1="247.22" y1="481" x2="250.18" y2="481" stroke="#F2B400" stroke-width="1.5"/><line x1="252.86" y1="472" x2="252.86" y2="476.25" stroke="#828282" stroke-width="1.2"/><line x1="252.86" y1="482.5" x2="252.86" y2="485" stroke="#828282" stroke-width="1.2"/><rect x="251.38" y="476.25" width="2.96" height="6.25" fill="#fff" stroke="#828282" stroke-width="1.2"/><line x1="251.38" y1="479" x2="254.34" y2="479" stroke="#828282" stroke-width="1.5"/><rect x="246.55" y="423.50" width="1.7" height="1.7" fill="#333"/><rect x="249.15" y="423.50" width="1.7" height="1.7" fill="#333"/><line x1="264.30" y1="511.3" x2="264.30" y2="513.1" stroke="#555" stroke-width="0.6"/><line x1="260.14" y1="464.5" x2="260.14" y2="468" stroke="#1E6CBE" stroke-width="1.2"/><line x1="260.14" y1="473" x2="260.14" y2="477" stroke="#1E6CBE" stroke-width="1.2"/><rect x="258.66" y="468" width="2.96" height="5.00" fill="#fff" stroke="#1E6CBE" stroke-width="1.2"/><line x1="258.66" y1="470.5" x2="261.62" y2="470.5" stroke="#1E6CBE" stroke-width="1.5"/><line x1="264.30" y1="462.5" x2="264.30" y2="470" stroke="#F2B400" stroke-width="1.2"/><line x1="264.30" y1="476.25" x2="264.30" y2="478.75" stroke="#F2B400" stroke-width="1.2"/><rect x="262.82" y="470" width="2.96" height="6.25" fill="#fff" stroke="#F2B400" stroke-width="1.2"/><line x1="262.82" y1="473" x2="265.78" y2="473" stroke="#F2B400" stroke-width="1.5"/><line x1="268.46" y1="462.5" x2="268.46" y2="468" stroke="#828282" stroke-width="1.2"/><line x1="268.46" y1="473" x2="268.46" y2="477.5" stroke="#828282" stroke-width="1.2"/><rect x="266.98" y="468" width="2.96" height="5.00" fill="#fff" stroke="#828282" stroke-width="1.2"/><line x1="266.98" y1="470.5" x2="269.94" y2="470.5" stroke="#828282" stroke-width="1.5"/><circle cx="268.46" cy="482" r="1.5" fill="#828282"/><rect x="262.15" y="423.50" width="1.7" height="1.7" fill="#333"/><rect x="264.75" y="423.50" width="1.7" height="1.7" fill="#333"/><line x1="279.90" y1="511.3" x2="279.90" y2="513.1" stroke="#555" stroke-width="0.6"/><line x1="275.74" y1="460" x2="275.74" y2="463.75" stroke="#1E6CBE" stroke-width="1.2"/><line x1="275.74" y1="467" x2="275.74" y2="470" stroke="#1E6CBE" stroke-width="1.2"/><rect x="274.26" y="463.75" width="2.96" height="3.25" fill="#fff" stroke="#1E6CBE" stroke-width="1.2"/><line x1="274.26" y1="465.5" x2="277.22" y2="465.5" stroke="#1E6CBE" stroke-width="1.5"/><circle cx="275.74" cy="458.75" r="1.5" fill="#1E6CBE"/><circle cx="275.74" cy="471.25" r="1.5" fill="#1E6CBE"/><circle cx="275.74" cy="473.75" r="1.5" fill="#1E6CBE"/><line x1="279.90" y1="457.5" x2="279.90" y2="462" stroke="#F2B400" stroke-width="1.2"/><line x1="279.90" y1="467" x2="279.90" y2="468.75" stroke="#F2B400" stroke-width="1.2"/><rect x="278.42" y="462" width="2.96" height="5.00" fill="#fff" stroke="#F2B400" stroke-width="1.2"/><line x1="278.42" y1="464.5" x2="281.38" y2="464.5" stroke="#F2B400" stroke-width="1.5"/><line x1="284.06" y1="458.75" x2="284.06" y2="460" stroke="#828282" stroke-width="1.2"/><line x1="284.06" y1="464.5" x2="284.06" y2="466.25" stroke="#828282" stroke-width="1.2"/><rect x="282.58" y="460" width="2.96" height="4.50" fill="#fff" stroke="#828282" stroke-width="1.2"/><line x1="282.58" y1="462" x2="285.54" y2="462" stroke="#828282" stroke-width="1.5"/><rect x="275.15" y="423.50" width="1.7" height="1.7" fill="#333"/><rect x="277.75" y="423.50" width="1.7" height="1.7" fill="#333"/><rect x="280.35" y="423.50" width="1.7" height="1.7" fill="#333"/><rect x="282.95" y="423.50" width="1.7" height="1.7" fill="#333"/><line x1="295.50" y1="511.3" x2="295.50" y2="513.1" stroke="#555" stroke-width="0.6"/><line x1="291.34" y1="453.75" x2="291.34" y2="455" stroke="#1E6CBE" stroke-width="1.2"/><line x1="291.34" y1="458" x2="291.34" y2="459.5" stroke="#1E6CBE" stroke-width="1.2"/><rect x="289.86" y="455" width="2.96" height="3.00" fill="#fff" stroke="#1E6CBE" stroke-width="1.2"/><line x1="289.86" y1="456.5" x2="292.82" y2="456.5" stroke="#1E6CBE" stroke-width="1.5"/><circle cx="291.34" cy="450.5" r="1.5" fill="#1E6CBE"/><line x1="295.50" y1="453" x2="295.50" y2="453.75" stroke="#F2B400" stroke-width="1.2"/><line x1="295.50" y1="457" x2="295.50" y2="458" stroke="#F2B400" stroke-width="1.2"/><rect x="294.02" y="453.75" width="2.96" height="3.25" fill="#fff" stroke="#F2B400" stroke-width="1.2"/><line x1="294.02" y1="455.5" x2="296.98" y2="455.5" stroke="#F2B400" stroke-width="1.5"/><line x1="299.66" y1="453" x2="299.66" y2="454.5" stroke="#828282" stroke-width="1.2"/><line x1="299.66" y1="458" x2="299.66" y2="459.5" stroke="#828282" stroke-width="1.2"/><rect x="298.18" y="454.5" width="2.96" height="3.50" fill="#fff" stroke="#828282" stroke-width="1.2"/><line x1="298.18" y1="456" x2="301.14" y2="456" stroke="#828282" stroke-width="1.5"/><circle cx="299.66" cy="462.5" r="1.5" fill="#828282"/><rect x="294.65" y="423.50" width="1.7" height="1.7" fill="#333"/><line x1="311.10" y1="511.3" x2="311.10" y2="513.1" stroke="#555" stroke-width="0.6"/><line x1="306.94" y1="447" x2="306.94" y2="449.5" stroke="#1E6CBE" stroke-width="1.2"/><line x1="306.94" y1="453" x2="306.94" y2="455" stroke="#1E6CBE" stroke-width="1.2"/><rect x="305.46" y="449.5" width="2.96" height="3.50" fill="#fff" stroke="#1E6CBE" stroke-width="1.2"/><line x1="305.46" y1="451.5" x2="308.42" y2="451.5" stroke="#1E6CBE" stroke-width="1.5"/><circle cx="306.94" cy="446.25" r="1.5" fill="#1E6CBE"/><line x1="311.10" y1="445" x2="311.10" y2="448.75" stroke="#F2B400" stroke-width="1.2"/><line x1="311.10" y1="453" x2="311.10" y2="455" stroke="#F2B400" stroke-width="1.2"/><rect x="309.62" y="448.75" width="2.96" height="4.25" fill="#fff" stroke="#F2B400" stroke-width="1.2"/><line x1="309.62" y1="450.5" x2="312.58" y2="450.5" stroke="#F2B400" stroke-width="1.5"/><circle cx="311.10" cy="443.75" r="1.5" fill="#F2B400"/><circle cx="311.10" cy="457" r="1.5" fill="#F2B400"/><line x1="315.26" y1="441.25" x2="315.26" y2="448" stroke="#828282" stroke-width="1.2"/><line x1="315.26" y1="452" x2="315.26" y2="453.75" stroke="#828282" stroke-width="1.2"/><rect x="313.78" y="448" width="2.96" height="4.00" fill="#fff" stroke="#828282" stroke-width="1.2"/><line x1="313.78" y1="450" x2="316.74" y2="450" stroke="#828282" stroke-width="1.5"/><rect x="310.25" y="423.50" width="1.7" height="1.7" fill="#333"/><line x1="326.70" y1="511.3" x2="326.70" y2="513.1" stroke="#555" stroke-width="0.6"/><line x1="322.54" y1="475.5" x2="322.54" y2="483.75" stroke="#1E6CBE" stroke-width="1.2"/><line x1="322.54" y1="490" x2="322.54" y2="492.5" stroke="#1E6CBE" stroke-width="1.2"/><rect x="321.06" y="483.75" width="2.96" height="6.25" fill="#fff" stroke="#1E6CBE" stroke-width="1.2"/><line x1="321.06" y1="486.5" x2="324.02" y2="486.5" stroke="#1E6CBE" stroke-width="1.5"/><circle cx="322.54" cy="469.5" r="1.5" fill="#1E6CBE"/><circle cx="322.54" cy="472.5" r="1.5" fill="#1E6CBE"/><line x1="326.70" y1="477.5" x2="326.70" y2="485" stroke="#F2B400" stroke-width="1.2"/><line x1="326.70" y1="489.5" x2="326.70" y2="493.75" stroke="#F2B400" stroke-width="1.2"/><rect x="325.22" y="485" width="2.96" height="4.50" fill="#fff" stroke="#F2B400" stroke-width="1.2"/><line x1="325.22" y1="487" x2="328.18" y2="487" stroke="#F2B400" stroke-width="1.5"/><circle cx="326.70" cy="477" r="1.5" fill="#F2B400"/><circle cx="326.70" cy="497.5" r="1.5" fill="#F2B400"/><line x1="330.86" y1="475.5" x2="330.86" y2="483.75" stroke="#828282" stroke-width="1.2"/><line x1="330.86" y1="488.75" x2="330.86" y2="492" stroke="#828282" stroke-width="1.2"/><rect x="329.38" y="483.75" width="2.96" height="5.00" fill="#fff" stroke="#828282" stroke-width="1.2"/><line x1="329.38" y1="486" x2="332.34" y2="486" stroke="#828282" stroke-width="1.5"/><text x="323.60" y="427.50" font-size="7.6" font-family="Liberation Sans, sans-serif" fill="#1a1a1a" textLength="7" lengthAdjust="spacingAndGlyphs">ns</text><line x1="342.30" y1="511.3" x2="342.30" y2="513.1" stroke="#555" stroke-width="0.6"/><line x1="338.14" y1="446.25" x2="338.14" y2="452" stroke="#1E6CBE" stroke-width="1.2"/><line x1="338.14" y1="455.5" x2="338.14" y2="459.5" stroke="#1E6CBE" stroke-width="1.2"/><rect x="336.66" y="452" width="2.96" height="3.50" fill="#fff" stroke="#1E6CBE" stroke-width="1.2"/><line x1="336.66" y1="453.75" x2="339.62" y2="453.75" stroke="#1E6CBE" stroke-width="1.5"/><line x1="342.30" y1="448.75" x2="342.30" y2="451.25" stroke="#F2B400" stroke-width="1.2"/><line x1="342.30" y1="456.25" x2="342.30" y2="458.75" stroke="#F2B400" stroke-width="1.2"/><rect x="340.82" y="451.25" width="2.96" height="5.00" fill="#fff" stroke="#F2B400" stroke-width="1.2"/><line x1="340.82" y1="453.5" x2="343.78" y2="453.5" stroke="#F2B400" stroke-width="1.5"/><line x1="346.46" y1="445.5" x2="346.46" y2="450.5" stroke="#828282" stroke-width="1.2"/><line x1="346.46" y1="456.25" x2="346.46" y2="458.75" stroke="#828282" stroke-width="1.2"/><rect x="344.98" y="450.5" width="2.96" height="5.75" fill="#fff" stroke="#828282" stroke-width="1.2"/><line x1="344.98" y1="453.5" x2="347.94" y2="453.5" stroke="#828282" stroke-width="1.5"/><circle cx="346.46" cy="462.5" r="1.5" fill="#828282"/><text x="339.20" y="427.50" font-size="7.6" font-family="Liberation Sans, sans-serif" fill="#1a1a1a" textLength="7" lengthAdjust="spacingAndGlyphs">ns</text><line x1="357.90" y1="511.3" x2="357.90" y2="513.1" stroke="#555" stroke-width="0.6"/><line x1="353.74" y1="468" x2="353.74" y2="475.5" stroke="#1E6CBE" stroke-width="1.2"/><line x1="353.74" y1="481.25" x2="353.74" y2="485" stroke="#1E6CBE" stroke-width="1.2"/><rect x="352.26" y="475.5" width="2.96" height="5.75" fill="#fff" stroke="#1E6CBE" stroke-width="1.2"/><line x1="352.26" y1="478" x2="355.22" y2="478" stroke="#1E6CBE" stroke-width="1.5"/><line x1="357.90" y1="470" x2="357.90" y2="473.75" stroke="#F2B400" stroke-width="1.2"/><line x1="357.90" y1="478.75" x2="357.90" y2="482.5" stroke="#F2B400" stroke-width="1.2"/><rect x="356.42" y="473.75" width="2.96" height="5.00" fill="#fff" stroke="#F2B400" stroke-width="1.2"/><line x1="356.42" y1="476" x2="359.38" y2="476" stroke="#F2B400" stroke-width="1.5"/><line x1="362.06" y1="464.5" x2="362.06" y2="470.5" stroke="#828282" stroke-width="1.2"/><line x1="362.06" y1="475.5" x2="362.06" y2="478.75" stroke="#828282" stroke-width="1.2"/><rect x="360.58" y="470.5" width="2.96" height="5.00" fill="#fff" stroke="#828282" stroke-width="1.2"/><line x1="360.58" y1="473" x2="363.54" y2="473" stroke="#828282" stroke-width="1.5"/><circle cx="362.06" cy="458" r="1.5" fill="#828282"/><circle cx="362.06" cy="459.5" r="1.5" fill="#828282"/><rect x="353.15" y="423.50" width="1.7" height="1.7" fill="#333"/><rect x="355.75" y="423.50" width="1.7" height="1.7" fill="#333"/><rect x="358.35" y="423.50" width="1.7" height="1.7" fill="#333"/><rect x="360.95" y="423.50" width="1.7" height="1.7" fill="#333"/><line x1="373.50" y1="511.3" x2="373.50" y2="513.1" stroke="#555" stroke-width="0.6"/><line x1="369.34" y1="470" x2="369.34" y2="478.75" stroke="#1E6CBE" stroke-width="1.2"/><line x1="369.34" y1="485" x2="369.34" y2="491.25" stroke="#1E6CBE" stroke-width="1.2"/><rect x="367.86" y="478.75" width="2.96" height="6.25" fill="#fff" stroke="#1E6CBE" stroke-width="1.2"/><line x1="367.86" y1="481.75" x2="370.82" y2="481.75" stroke="#1E6CBE" stroke-width="1.5"/><line x1="373.50" y1="473.75" x2="373.50" y2="479.5" stroke="#F2B400" stroke-width="1.2"/><line x1="373.50" y1="484.5" x2="373.50" y2="487.5" stroke="#F2B400" stroke-width="1.2"/><rect x="372.02" y="479.5" width="2.96" height="5.00" fill="#fff" stroke="#F2B400" stroke-width="1.2"/><line x1="372.02" y1="482" x2="374.98" y2="482" stroke="#F2B400" stroke-width="1.5"/><circle cx="373.50" cy="472" r="1.5" fill="#F2B400"/><circle cx="373.50" cy="495.5" r="1.5" fill="#F2B400"/><line x1="377.66" y1="471.25" x2="377.66" y2="477.5" stroke="#828282" stroke-width="1.2"/><line x1="377.66" y1="483" x2="377.66" y2="486.25" stroke="#828282" stroke-width="1.2"/><rect x="376.18" y="477.5" width="2.96" height="5.50" fill="#fff" stroke="#828282" stroke-width="1.2"/><line x1="376.18" y1="480" x2="379.14" y2="480" stroke="#828282" stroke-width="1.5"/><circle cx="377.66" cy="469.5" r="1.5" fill="#828282"/><rect x="371.35" y="423.50" width="1.7" height="1.7" fill="#333"/><rect x="373.95" y="423.50" width="1.7" height="1.7" fill="#333"/><line x1="389.10" y1="511.3" x2="389.10" y2="513.1" stroke="#555" stroke-width="0.6"/><line x1="384.94" y1="444.5" x2="384.94" y2="449.5" stroke="#1E6CBE" stroke-width="1.2"/><line x1="384.94" y1="458.75" x2="384.94" y2="464.5" stroke="#1E6CBE" stroke-width="1.2"/><rect x="383.46" y="449.5" width="2.96" height="9.25" fill="#fff" stroke="#1E6CBE" stroke-width="1.2"/><line x1="383.46" y1="453.75" x2="386.42" y2="453.75" stroke="#1E6CBE" stroke-width="1.5"/><line x1="389.10" y1="445" x2="389.10" y2="451.25" stroke="#F2B400" stroke-width="1.2"/><line x1="389.10" y1="456.25" x2="389.10" y2="461.25" stroke="#F2B400" stroke-width="1.2"/><rect x="387.62" y="451.25" width="2.96" height="5.00" fill="#fff" stroke="#F2B400" stroke-width="1.2"/><line x1="387.62" y1="453.75" x2="390.58" y2="453.75" stroke="#F2B400" stroke-width="1.5"/><circle cx="389.10" cy="464.5" r="1.5" fill="#F2B400"/><line x1="393.26" y1="433.75" x2="393.26" y2="442.5" stroke="#828282" stroke-width="1.2"/><line x1="393.26" y1="451.25" x2="393.26" y2="461.25" stroke="#828282" stroke-width="1.2"/><rect x="391.78" y="442.5" width="2.96" height="8.75" fill="#fff" stroke="#828282" stroke-width="1.2"/><line x1="391.78" y1="447" x2="394.74" y2="447" stroke="#828282" stroke-width="1.5"/><circle cx="393.26" cy="427.5" r="1.5" fill="#828282"/><rect x="384.35" y="423.50" width="1.7" height="1.7" fill="#333"/><rect x="386.95" y="423.50" width="1.7" height="1.7" fill="#333"/><rect x="389.55" y="423.50" width="1.7" height="1.7" fill="#333"/><rect x="392.15" y="423.50" width="1.7" height="1.7" fill="#333"/><line x1="404.70" y1="511.3" x2="404.70" y2="513.1" stroke="#555" stroke-width="0.6"/><line x1="400.54" y1="449" x2="400.54" y2="449.5" stroke="#1E6CBE" stroke-width="1.2"/><line x1="400.54" y1="452.5" x2="400.54" y2="453" stroke="#1E6CBE" stroke-width="1.2"/><rect x="399.06" y="449.5" width="2.96" height="3.00" fill="#fff" stroke="#1E6CBE" stroke-width="1.2"/><line x1="399.06" y1="451" x2="402.02" y2="451" stroke="#1E6CBE" stroke-width="1.5"/><line x1="404.70" y1="446.25" x2="404.70" y2="448" stroke="#F2B400" stroke-width="1.2"/><line x1="404.70" y1="451.25" x2="404.70" y2="453.75" stroke="#F2B400" stroke-width="1.2"/><rect x="403.22" y="448" width="2.96" height="3.25" fill="#fff" stroke="#F2B400" stroke-width="1.2"/><line x1="403.22" y1="449.5" x2="406.18" y2="449.5" stroke="#F2B400" stroke-width="1.5"/><circle cx="404.70" cy="456.25" r="1.5" fill="#F2B400"/><line x1="408.86" y1="443.75" x2="408.86" y2="448" stroke="#828282" stroke-width="1.2"/><line x1="408.86" y1="452" x2="408.86" y2="452.5" stroke="#828282" stroke-width="1.2"/><rect x="407.38" y="448" width="2.96" height="4.00" fill="#fff" stroke="#828282" stroke-width="1.2"/><line x1="407.38" y1="450" x2="410.34" y2="450" stroke="#828282" stroke-width="1.5"/><circle cx="408.86" cy="437.5" r="1.5" fill="#828282"/><circle cx="408.86" cy="443" r="1.5" fill="#828282"/><rect x="401.25" y="423.50" width="1.7" height="1.7" fill="#333"/><rect x="403.85" y="423.50" width="1.7" height="1.7" fill="#333"/><rect x="406.45" y="423.50" width="1.7" height="1.7" fill="#333"/><line x1="420.30" y1="511.3" x2="420.30" y2="513.1" stroke="#555" stroke-width="0.6"/><line x1="416.14" y1="454.5" x2="416.14" y2="457" stroke="#1E6CBE" stroke-width="1.2"/><line x1="416.14" y1="461.25" x2="416.14" y2="463" stroke="#1E6CBE" stroke-width="1.2"/><rect x="414.66" y="457" width="2.96" height="4.25" fill="#fff" stroke="#1E6CBE" stroke-width="1.2"/><line x1="414.66" y1="459" x2="417.62" y2="459" stroke="#1E6CBE" stroke-width="1.5"/><circle cx="416.14" cy="451.25" r="1.5" fill="#1E6CBE"/><line x1="420.30" y1="455.5" x2="420.30" y2="457.5" stroke="#F2B400" stroke-width="1.2"/><line x1="420.30" y1="462" x2="420.30" y2="465.5" stroke="#F2B400" stroke-width="1.2"/><rect x="418.82" y="457.5" width="2.96" height="4.50" fill="#fff" stroke="#F2B400" stroke-width="1.2"/><line x1="418.82" y1="460" x2="421.78" y2="460" stroke="#F2B400" stroke-width="1.5"/><line x1="424.46" y1="452" x2="424.46" y2="455" stroke="#828282" stroke-width="1.2"/><line x1="424.46" y1="458" x2="424.46" y2="461.25" stroke="#828282" stroke-width="1.2"/><rect x="422.98" y="455" width="2.96" height="3.00" fill="#fff" stroke="#828282" stroke-width="1.2"/><line x1="422.98" y1="456.5" x2="425.94" y2="456.5" stroke="#828282" stroke-width="1.5"/><circle cx="424.46" cy="463" r="1.5" fill="#828282"/><rect x="415.55" y="423.50" width="1.7" height="1.7" fill="#333"/><rect x="418.15" y="423.50" width="1.7" height="1.7" fill="#333"/><rect x="420.75" y="423.50" width="1.7" height="1.7" fill="#333"/><rect x="423.35" y="423.50" width="1.7" height="1.7" fill="#333"/><line x1="435.90" y1="511.3" x2="435.90" y2="513.1" stroke="#555" stroke-width="0.6"/><line x1="431.74" y1="471.25" x2="431.74" y2="473" stroke="#1E6CBE" stroke-width="1.2"/><line x1="431.74" y1="477" x2="431.74" y2="478.75" stroke="#1E6CBE" stroke-width="1.2"/><rect x="430.26" y="473" width="2.96" height="4.00" fill="#fff" stroke="#1E6CBE" stroke-width="1.2"/><line x1="430.26" y1="475" x2="433.22" y2="475" stroke="#1E6CBE" stroke-width="1.5"/><circle cx="431.74" cy="483" r="1.5" fill="#1E6CBE"/><line x1="435.90" y1="471.25" x2="435.90" y2="473.75" stroke="#F2B400" stroke-width="1.2"/><line x1="435.90" y1="478" x2="435.90" y2="481.25" stroke="#F2B400" stroke-width="1.2"/><rect x="434.42" y="473.75" width="2.96" height="4.25" fill="#fff" stroke="#F2B400" stroke-width="1.2"/><line x1="434.42" y1="476" x2="437.38" y2="476" stroke="#F2B400" stroke-width="1.5"/><line x1="440.06" y1="466.25" x2="440.06" y2="470" stroke="#828282" stroke-width="1.2"/><line x1="440.06" y1="475.5" x2="440.06" y2="477.5" stroke="#828282" stroke-width="1.2"/><rect x="438.58" y="470" width="2.96" height="5.50" fill="#fff" stroke="#828282" stroke-width="1.2"/><line x1="438.58" y1="472.5" x2="441.54" y2="472.5" stroke="#828282" stroke-width="1.5"/><circle cx="440.06" cy="461.25" r="1.5" fill="#828282"/><rect x="431.15" y="423.50" width="1.7" height="1.7" fill="#333"/><rect x="433.75" y="423.50" width="1.7" height="1.7" fill="#333"/><rect x="436.35" y="423.50" width="1.7" height="1.7" fill="#333"/><rect x="438.95" y="423.50" width="1.7" height="1.7" fill="#333"/><line x1="451.50" y1="511.3" x2="451.50" y2="513.1" stroke="#555" stroke-width="0.6"/><line x1="447.34" y1="488.75" x2="447.34" y2="495" stroke="#1E6CBE" stroke-width="1.2"/><line x1="447.34" y1="501.25" x2="447.34" y2="503.75" stroke="#1E6CBE" stroke-width="1.2"/><rect x="445.86" y="495" width="2.96" height="6.25" fill="#fff" stroke="#1E6CBE" stroke-width="1.2"/><line x1="445.86" y1="498" x2="448.82" y2="498" stroke="#1E6CBE" stroke-width="1.5"/><circle cx="447.34" cy="479.5" r="1.5" fill="#1E6CBE"/><line x1="451.50" y1="485" x2="451.50" y2="493" stroke="#F2B400" stroke-width="1.2"/><line x1="451.50" y1="499.5" x2="451.50" y2="506.25" stroke="#F2B400" stroke-width="1.2"/><rect x="450.02" y="493" width="2.96" height="6.50" fill="#fff" stroke="#F2B400" stroke-width="1.2"/><line x1="450.02" y1="496.25" x2="452.98" y2="496.25" stroke="#F2B400" stroke-width="1.5"/><circle cx="451.50" cy="472.5" r="1.5" fill="#F2B400"/><circle cx="451.50" cy="478.75" r="1.5" fill="#F2B400"/><line x1="455.66" y1="480" x2="455.66" y2="489.5" stroke="#828282" stroke-width="1.2"/><line x1="455.66" y1="497.5" x2="455.66" y2="504.5" stroke="#828282" stroke-width="1.2"/><rect x="454.18" y="489.5" width="2.96" height="8.00" fill="#fff" stroke="#828282" stroke-width="1.2"/><line x1="454.18" y1="493.5" x2="457.14" y2="493.5" stroke="#828282" stroke-width="1.5"/><circle cx="455.66" cy="470" r="1.5" fill="#828282"/><circle cx="455.66" cy="471.25" r="1.5" fill="#828282"/><rect x="446.75" y="423.50" width="1.7" height="1.7" fill="#333"/><rect x="449.35" y="423.50" width="1.7" height="1.7" fill="#333"/><rect x="451.95" y="423.50" width="1.7" height="1.7" fill="#333"/><rect x="454.55" y="423.50" width="1.7" height="1.7" fill="#333"/><line x1="467.10" y1="511.3" x2="467.10" y2="513.1" stroke="#555" stroke-width="0.6"/><line x1="462.94" y1="449" x2="462.94" y2="450.5" stroke="#1E6CBE" stroke-width="1.2"/><line x1="462.94" y1="453.75" x2="462.94" y2="455" stroke="#1E6CBE" stroke-width="1.2"/><rect x="461.46" y="450.5" width="2.96" height="3.25" fill="#fff" stroke="#1E6CBE" stroke-width="1.2"/><line x1="461.46" y1="452" x2="464.42" y2="452" stroke="#1E6CBE" stroke-width="1.5"/><line x1="467.10" y1="448.75" x2="467.10" y2="450.5" stroke="#F2B400" stroke-width="1.2"/><line x1="467.10" y1="454.5" x2="467.10" y2="456.25" stroke="#F2B400" stroke-width="1.2"/><rect x="465.62" y="450.5" width="2.96" height="4.00" fill="#fff" stroke="#F2B400" stroke-width="1.2"/><line x1="465.62" y1="452.5" x2="468.58" y2="452.5" stroke="#F2B400" stroke-width="1.5"/><circle cx="467.10" cy="447.5" r="1.5" fill="#F2B400"/><circle cx="467.10" cy="457.5" r="1.5" fill="#F2B400"/><line x1="471.26" y1="448" x2="471.26" y2="450" stroke="#828282" stroke-width="1.2"/><line x1="471.26" y1="453.75" x2="471.26" y2="457" stroke="#828282" stroke-width="1.2"/><rect x="469.78" y="450" width="2.96" height="3.75" fill="#fff" stroke="#828282" stroke-width="1.2"/><line x1="469.78" y1="452" x2="472.74" y2="452" stroke="#828282" stroke-width="1.5"/><rect x="464.95" y="423.50" width="1.7" height="1.7" fill="#333"/><rect x="467.55" y="423.50" width="1.7" height="1.7" fill="#333"/><text x="487.4" y="452.6" font-size="6.8" font-family="Liberation Serif, serif" fill="#222">category</text><line x1="492.70" y1="456.90" x2="492.70" y2="466.70" stroke="#1E6CBE" stroke-width="1.1"/><rect x="488.50" y="458.50" width="8.4" height="6.6" rx="0.6" fill="#fff" stroke="#1E6CBE" stroke-width="1.2"/><line x1="488.50" y1="461.80" x2="496.90" y2="461.80" stroke="#1E6CBE" stroke-width="1.3"/><text x="501.7" y="464.00" font-size="6.1" font-family="Liberation Serif, serif" fill="#222">IS2A</text><line x1="492.70" y1="467.30" x2="492.70" y2="477.10" stroke="#F2B400" stroke-width="1.1"/><rect x="488.50" y="468.90" width="8.4" height="6.6" rx="0.6" fill="#fff" stroke="#F2B400" stroke-width="1.2"/><line x1="488.50" y1="472.20" x2="496.90" y2="472.20" stroke="#F2B400" stroke-width="1.3"/><text x="501.7" y="474.40" font-size="6.1" font-family="Liberation Serif, serif" fill="#222">IS2B</text><line x1="492.70" y1="477.70" x2="492.70" y2="487.50" stroke="#828282" stroke-width="1.1"/><rect x="488.50" y="479.30" width="8.4" height="6.6" rx="0.6" fill="#fff" stroke="#828282" stroke-width="1.2"/><line x1="488.50" y1="482.60" x2="496.90" y2="482.60" stroke="#828282" stroke-width="1.3"/><text x="501.7" y="484.80" font-size="6.1" font-family="Liberation Serif, serif" fill="#222">IS2C</text><line x1="37" y1="517.5" x2="37" y2="606.2" stroke="#7a7a7a" stroke-width="1.1"/><line x1="37" y1="606.2" x2="476.3" y2="606.2" stroke="#555" stroke-width="1.0"/><line x1="35.2" y1="532" x2="37" y2="532" stroke="#555" stroke-width="0.6"/><text x="33.2" y="534.20" font-size="6.9" font-family="Liberation Serif, serif" text-anchor="end" fill="#222">0.50</text><line x1="35.2" y1="555.5" x2="37" y2="555.5" stroke="#555" stroke-width="0.6"/><text x="33.2" y="557.70" font-size="6.9" font-family="Liberation Serif, serif" text-anchor="end" fill="#222">0.25</text><line x1="35.2" y1="579" x2="37" y2="579" stroke="#555" stroke-width="0.6"/><text x="33.2" y="581.20" font-size="6.9" font-family="Liberation Serif, serif" text-anchor="end" fill="#222">0.00</text><line x1="35.2" y1="602.5" x2="37" y2="602.5" stroke="#555" stroke-width="0.6"/><text x="33.2" y="604.70" font-size="6.9" font-family="Liberation Serif, serif" text-anchor="end" fill="#222">−0.25</text><text x="13.1" y="562" font-size="7.2" font-family="Liberation Serif, serif" text-anchor="middle" fill="#222" transform="rotate(-90 13.1 562)">Enrichment score</text><text x="10.6" y="523.8" font-size="8.6" font-family="Liberation Sans, sans-serif" font-weight="bold" textLength="12.2" lengthAdjust="spacingAndGlyphs">IS3</text><line x1="45.80" y1="606.2" x2="45.80" y2="608.0" stroke="#555" stroke-width="0.6"/><line x1="42.68" y1="565" x2="42.68" y2="576.25" stroke="#1E6CBE" stroke-width="1.2"/><line x1="42.68" y1="584.5" x2="42.68" y2="593" stroke="#1E6CBE" stroke-width="1.2"/><rect x="40.16" y="576.25" width="5.04" height="8.25" fill="#fff" stroke="#1E6CBE" stroke-width="1.2"/><line x1="40.16" y1="580" x2="45.20" y2="580" stroke="#1E6CBE" stroke-width="1.5"/><circle cx="42.68" cy="553.75" r="1.5" fill="#1E6CBE"/><circle cx="42.68" cy="556.25" r="1.5" fill="#1E6CBE"/><circle cx="42.68" cy="558" r="1.5" fill="#1E6CBE"/><circle cx="42.68" cy="599.5" r="1.5" fill="#1E6CBE"/><line x1="48.92" y1="581.25" x2="48.92" y2="585.5" stroke="#F2B400" stroke-width="1.2"/><line x1="48.92" y1="591.25" x2="48.92" y2="595.5" stroke="#F2B400" stroke-width="1.2"/><rect x="46.40" y="585.5" width="5.04" height="5.75" fill="#fff" stroke="#F2B400" stroke-width="1.2"/><line x1="46.40" y1="587.5" x2="51.44" y2="587.5" stroke="#F2B400" stroke-width="1.5"/><circle cx="48.92" cy="576.25" r="1.5" fill="#F2B400"/><circle cx="48.92" cy="602" r="1.5" fill="#F2B400"/><rect x="41.05" y="518.00" width="1.7" height="1.7" fill="#333"/><rect x="43.65" y="518.00" width="1.7" height="1.7" fill="#333"/><rect x="46.25" y="518.00" width="1.7" height="1.7" fill="#333"/><rect x="48.85" y="518.00" width="1.7" height="1.7" fill="#333"/><line x1="61.40" y1="606.2" x2="61.40" y2="608.0" stroke="#555" stroke-width="0.6"/><line x1="58.28" y1="537" x2="58.28" y2="550" stroke="#1E6CBE" stroke-width="1.2"/><line x1="58.28" y1="558" x2="58.28" y2="567" stroke="#1E6CBE" stroke-width="1.2"/><rect x="55.76" y="550" width="5.04" height="8.00" fill="#fff" stroke="#1E6CBE" stroke-width="1.2"/><line x1="55.76" y1="553.75" x2="60.80" y2="553.75" stroke="#1E6CBE" stroke-width="1.5"/><circle cx="58.28" cy="571.25" r="1.5" fill="#1E6CBE"/><line x1="64.52" y1="548" x2="64.52" y2="554.5" stroke="#F2B400" stroke-width="1.2"/><line x1="64.52" y1="562" x2="64.52" y2="568.75" stroke="#F2B400" stroke-width="1.2"/><rect x="62.00" y="554.5" width="5.04" height="7.50" fill="#fff" stroke="#F2B400" stroke-width="1.2"/><line x1="62.00" y1="558" x2="67.04" y2="558" stroke="#F2B400" stroke-width="1.5"/><rect x="56.65" y="518.00" width="1.7" height="1.7" fill="#333"/><rect x="59.25" y="518.00" width="1.7" height="1.7" fill="#333"/><rect x="61.85" y="518.00" width="1.7" height="1.7" fill="#333"/><rect x="64.45" y="518.00" width="1.7" height="1.7" fill="#333"/><line x1="77.00" y1="606.2" x2="77.00" y2="608.0" stroke="#555" stroke-width="0.6"/><line x1="73.88" y1="528.75" x2="73.88" y2="538" stroke="#1E6CBE" stroke-width="1.2"/><line x1="73.88" y1="547" x2="73.88" y2="553.75" stroke="#1E6CBE" stroke-width="1.2"/><rect x="71.36" y="538" width="5.04" height="9.00" fill="#fff" stroke="#1E6CBE" stroke-width="1.2"/><line x1="71.36" y1="543" x2="76.40" y2="543" stroke="#1E6CBE" stroke-width="1.5"/><circle cx="73.88" cy="524.5" r="1.5" fill="#1E6CBE"/><circle cx="73.88" cy="564.25" r="1.5" fill="#1E6CBE"/><circle cx="73.88" cy="567.5" r="1.5" fill="#1E6CBE"/><line x1="80.12" y1="540" x2="80.12" y2="547" stroke="#F2B400" stroke-width="1.2"/><line x1="80.12" y1="553.75" x2="80.12" y2="560.5" stroke="#F2B400" stroke-width="1.2"/><rect x="77.60" y="547" width="5.04" height="6.75" fill="#fff" stroke="#F2B400" stroke-width="1.2"/><line x1="77.60" y1="550" x2="82.64" y2="550" stroke="#F2B400" stroke-width="1.5"/><rect x="72.25" y="518.00" width="1.7" height="1.7" fill="#333"/><rect x="74.85" y="518.00" width="1.7" height="1.7" fill="#333"/><rect x="77.45" y="518.00" width="1.7" height="1.7" fill="#333"/><rect x="80.05" y="518.00" width="1.7" height="1.7" fill="#333"/><line x1="92.60" y1="606.2" x2="92.60" y2="608.0" stroke="#555" stroke-width="0.6"/><line x1="89.48" y1="522.5" x2="89.48" y2="526.25" stroke="#1E6CBE" stroke-width="1.2"/><line x1="89.48" y1="530" x2="89.48" y2="533" stroke="#1E6CBE" stroke-width="1.2"/><rect x="86.96" y="526.25" width="5.04" height="3.75" fill="#fff" stroke="#1E6CBE" stroke-width="1.2"/><line x1="86.96" y1="528" x2="92.00" y2="528" stroke="#1E6CBE" stroke-width="1.5"/><circle cx="89.48" cy="535.5" r="1.5" fill="#1E6CBE"/><line x1="95.72" y1="527" x2="95.72" y2="529.25" stroke="#F2B400" stroke-width="1.2"/><line x1="95.72" y1="532" x2="95.72" y2="533.75" stroke="#F2B400" stroke-width="1.2"/><rect x="93.20" y="529.25" width="5.04" height="2.75" fill="#fff" stroke="#F2B400" stroke-width="1.2"/><line x1="93.20" y1="530.5" x2="98.24" y2="530.5" stroke="#F2B400" stroke-width="1.5"/><circle cx="95.72" cy="536.25" r="1.5" fill="#F2B400"/><circle cx="95.72" cy="538" r="1.5" fill="#F2B400"/><rect x="87.85" y="518.00" width="1.7" height="1.7" fill="#333"/><rect x="90.45" y="518.00" width="1.7" height="1.7" fill="#333"/><rect x="93.05" y="518.00" width="1.7" height="1.7" fill="#333"/><rect x="95.65" y="518.00" width="1.7" height="1.7" fill="#333"/><line x1="108.20" y1="606.2" x2="108.20" y2="608.0" stroke="#555" stroke-width="0.6"/><line x1="105.08" y1="542.5" x2="105.08" y2="546.75" stroke="#1E6CBE" stroke-width="1.2"/><line x1="105.08" y1="550" x2="105.08" y2="553" stroke="#1E6CBE" stroke-width="1.2"/><rect x="102.56" y="546.75" width="5.04" height="3.25" fill="#fff" stroke="#1E6CBE" stroke-width="1.2"/><line x1="102.56" y1="548.5" x2="107.60" y2="548.5" stroke="#1E6CBE" stroke-width="1.5"/><circle cx="105.08" cy="540.5" r="1.5" fill="#1E6CBE"/><line x1="111.32" y1="545" x2="111.32" y2="549.5" stroke="#F2B400" stroke-width="1.2"/><line x1="111.32" y1="553" x2="111.32" y2="556.25" stroke="#F2B400" stroke-width="1.2"/><rect x="108.80" y="549.5" width="5.04" height="3.50" fill="#fff" stroke="#F2B400" stroke-width="1.2"/><line x1="108.80" y1="551" x2="113.84" y2="551" stroke="#F2B400" stroke-width="1.5"/><circle cx="111.32" cy="558" r="1.5" fill="#F2B400"/><rect x="103.45" y="518.00" width="1.7" height="1.7" fill="#333"/><rect x="106.05" y="518.00" width="1.7" height="1.7" fill="#333"/><rect x="108.65" y="518.00" width="1.7" height="1.7" fill="#333"/><rect x="111.25" y="518.00" width="1.7" height="1.7" fill="#333"/><line x1="123.80" y1="606.2" x2="123.80" y2="608.0" stroke="#555" stroke-width="0.6"/><line x1="120.68" y1="553.75" x2="120.68" y2="557.5" stroke="#1E6CBE" stroke-width="1.2"/><line x1="120.68" y1="562" x2="120.68" y2="566.25" stroke="#1E6CBE" stroke-width="1.2"/><rect x="118.16" y="557.5" width="5.04" height="4.50" fill="#fff" stroke="#1E6CBE" stroke-width="1.2"/><line x1="118.16" y1="559.5" x2="123.20" y2="559.5" stroke="#1E6CBE" stroke-width="1.5"/><circle cx="120.68" cy="551.25" r="1.5" fill="#1E6CBE"/><line x1="126.92" y1="557" x2="126.92" y2="560" stroke="#F2B400" stroke-width="1.2"/><line x1="126.92" y1="563" x2="126.92" y2="565.5" stroke="#F2B400" stroke-width="1.2"/><rect x="124.40" y="560" width="5.04" height="3.00" fill="#fff" stroke="#F2B400" stroke-width="1.2"/><line x1="124.40" y1="561.5" x2="129.44" y2="561.5" stroke="#F2B400" stroke-width="1.5"/><circle cx="126.92" cy="554.5" r="1.5" fill="#F2B400"/><rect x="120.35" y="518.00" width="1.7" height="1.7" fill="#333"/><rect x="122.95" y="518.00" width="1.7" height="1.7" fill="#333"/><rect x="125.55" y="518.00" width="1.7" height="1.7" fill="#333"/><line x1="139.40" y1="606.2" x2="139.40" y2="608.0" stroke="#555" stroke-width="0.6"/><line x1="136.28" y1="544.5" x2="136.28" y2="552" stroke="#1E6CBE" stroke-width="1.2"/><line x1="136.28" y1="557.5" x2="136.28" y2="561.25" stroke="#1E6CBE" stroke-width="1.2"/><rect x="133.76" y="552" width="5.04" height="5.50" fill="#fff" stroke="#1E6CBE" stroke-width="1.2"/><line x1="133.76" y1="554.5" x2="138.80" y2="554.5" stroke="#1E6CBE" stroke-width="1.5"/><line x1="142.52" y1="553.75" x2="142.52" y2="558.75" stroke="#F2B400" stroke-width="1.2"/><line x1="142.52" y1="564.5" x2="142.52" y2="571.25" stroke="#F2B400" stroke-width="1.2"/><rect x="140.00" y="558.75" width="5.04" height="5.75" fill="#fff" stroke="#F2B400" stroke-width="1.2"/><line x1="140.00" y1="561.5" x2="145.04" y2="561.5" stroke="#F2B400" stroke-width="1.5"/><circle cx="142.52" cy="550.5" r="1.5" fill="#F2B400"/><rect x="134.65" y="518.00" width="1.7" height="1.7" fill="#333"/><rect x="137.25" y="518.00" width="1.7" height="1.7" fill="#333"/><rect x="139.85" y="518.00" width="1.7" height="1.7" fill="#333"/><rect x="142.45" y="518.00" width="1.7" height="1.7" fill="#333"/><line x1="155.00" y1="606.2" x2="155.00" y2="608.0" stroke="#555" stroke-width="0.6"/><line x1="151.88" y1="541.25" x2="151.88" y2="546.25" stroke="#1E6CBE" stroke-width="1.2"/><line x1="151.88" y1="550.5" x2="151.88" y2="553" stroke="#1E6CBE" stroke-width="1.2"/><rect x="149.36" y="546.25" width="5.04" height="4.25" fill="#fff" stroke="#1E6CBE" stroke-width="1.2"/><line x1="149.36" y1="548.5" x2="154.40" y2="548.5" stroke="#1E6CBE" stroke-width="1.5"/><circle cx="151.88" cy="557" r="1.5" fill="#1E6CBE"/><line x1="158.12" y1="545" x2="158.12" y2="547" stroke="#F2B400" stroke-width="1.2"/><line x1="158.12" y1="551.25" x2="158.12" y2="554.5" stroke="#F2B400" stroke-width="1.2"/><rect x="155.60" y="547" width="5.04" height="4.25" fill="#fff" stroke="#F2B400" stroke-width="1.2"/><line x1="155.60" y1="549" x2="160.64" y2="549" stroke="#F2B400" stroke-width="1.5"/><circle cx="158.12" cy="556.25" r="1.5" fill="#F2B400"/><rect x="152.85" y="518.00" width="1.7" height="1.7" fill="#333"/><rect x="155.45" y="518.00" width="1.7" height="1.7" fill="#333"/><line x1="170.60" y1="606.2" x2="170.60" y2="608.0" stroke="#555" stroke-width="0.6"/><line x1="167.48" y1="565" x2="167.48" y2="570.5" stroke="#1E6CBE" stroke-width="1.2"/><line x1="167.48" y1="576.25" x2="167.48" y2="583" stroke="#1E6CBE" stroke-width="1.2"/><rect x="164.96" y="570.5" width="5.04" height="5.75" fill="#fff" stroke="#1E6CBE" stroke-width="1.2"/><line x1="164.96" y1="573" x2="170.00" y2="573" stroke="#1E6CBE" stroke-width="1.5"/><circle cx="167.48" cy="554.5" r="1.5" fill="#1E6CBE"/><circle cx="167.48" cy="558.75" r="1.5" fill="#1E6CBE"/><circle cx="167.48" cy="561.25" r="1.5" fill="#1E6CBE"/><line x1="173.72" y1="575" x2="173.72" y2="580" stroke="#F2B400" stroke-width="1.2"/><line x1="173.72" y1="585" x2="173.72" y2="590" stroke="#F2B400" stroke-width="1.2"/><rect x="171.20" y="580" width="5.04" height="5.00" fill="#fff" stroke="#F2B400" stroke-width="1.2"/><line x1="171.20" y1="582.5" x2="176.24" y2="582.5" stroke="#F2B400" stroke-width="1.5"/><circle cx="173.72" cy="570.5" r="1.5" fill="#F2B400"/><rect x="165.85" y="518.00" width="1.7" height="1.7" fill="#333"/><rect x="168.45" y="518.00" width="1.7" height="1.7" fill="#333"/><rect x="171.05" y="518.00" width="1.7" height="1.7" fill="#333"/><rect x="173.65" y="518.00" width="1.7" height="1.7" fill="#333"/><line x1="186.20" y1="606.2" x2="186.20" y2="608.0" stroke="#555" stroke-width="0.6"/><line x1="183.08" y1="558" x2="183.08" y2="562" stroke="#1E6CBE" stroke-width="1.2"/><line x1="183.08" y1="566.25" x2="183.08" y2="568.75" stroke="#1E6CBE" stroke-width="1.2"/><rect x="180.56" y="562" width="5.04" height="4.25" fill="#fff" stroke="#1E6CBE" stroke-width="1.2"/><line x1="180.56" y1="564" x2="185.60" y2="564" stroke="#1E6CBE" stroke-width="1.5"/><circle cx="183.08" cy="554.5" r="1.5" fill="#1E6CBE"/><circle cx="183.08" cy="556.25" r="1.5" fill="#1E6CBE"/><circle cx="183.08" cy="573" r="1.5" fill="#1E6CBE"/><line x1="189.32" y1="557.5" x2="189.32" y2="563.75" stroke="#F2B400" stroke-width="1.2"/><line x1="189.32" y1="568" x2="189.32" y2="572.5" stroke="#F2B400" stroke-width="1.2"/><rect x="186.80" y="563.75" width="5.04" height="4.25" fill="#fff" stroke="#F2B400" stroke-width="1.2"/><line x1="186.80" y1="566" x2="191.84" y2="566" stroke="#F2B400" stroke-width="1.5"/><circle cx="189.32" cy="553.75" r="1.5" fill="#F2B400"/><circle cx="189.32" cy="577" r="1.5" fill="#F2B400"/><rect x="185.35" y="518.00" width="1.7" height="1.7" fill="#333"/><line x1="201.80" y1="606.2" x2="201.80" y2="608.0" stroke="#555" stroke-width="0.6"/><line x1="198.68" y1="547" x2="198.68" y2="557.5" stroke="#1E6CBE" stroke-width="1.2"/><line x1="198.68" y1="565.5" x2="198.68" y2="571.25" stroke="#1E6CBE" stroke-width="1.2"/><rect x="196.16" y="557.5" width="5.04" height="8.00" fill="#fff" stroke="#1E6CBE" stroke-width="1.2"/><line x1="196.16" y1="561.25" x2="201.20" y2="561.25" stroke="#1E6CBE" stroke-width="1.5"/><line x1="204.92" y1="555" x2="204.92" y2="564.5" stroke="#F2B400" stroke-width="1.2"/><line x1="204.92" y1="571.25" x2="204.92" y2="578.75" stroke="#F2B400" stroke-width="1.2"/><rect x="202.40" y="564.5" width="5.04" height="6.75" fill="#fff" stroke="#F2B400" stroke-width="1.2"/><line x1="202.40" y1="567.5" x2="207.44" y2="567.5" stroke="#F2B400" stroke-width="1.5"/><circle cx="204.92" cy="584.5" r="1.5" fill="#F2B400"/><rect x="197.05" y="518.00" width="1.7" height="1.7" fill="#333"/><rect x="199.65" y="518.00" width="1.7" height="1.7" fill="#333"/><rect x="202.25" y="518.00" width="1.7" height="1.7" fill="#333"/><rect x="204.85" y="518.00" width="1.7" height="1.7" fill="#333"/><line x1="217.40" y1="606.2" x2="217.40" y2="608.0" stroke="#555" stroke-width="0.6"/><line x1="214.28" y1="551.25" x2="214.28" y2="556.25" stroke="#1E6CBE" stroke-width="1.2"/><line x1="214.28" y1="560.5" x2="214.28" y2="563" stroke="#1E6CBE" stroke-width="1.2"/><rect x="211.76" y="556.25" width="5.04" height="4.25" fill="#fff" stroke="#1E6CBE" stroke-width="1.2"/><line x1="211.76" y1="558.5" x2="216.80" y2="558.5" stroke="#1E6CBE" stroke-width="1.5"/><line x1="220.52" y1="558.75" x2="220.52" y2="561.25" stroke="#F2B400" stroke-width="1.2"/><line x1="220.52" y1="565.5" x2="220.52" y2="568" stroke="#F2B400" stroke-width="1.2"/><rect x="218.00" y="561.25" width="5.04" height="4.25" fill="#fff" stroke="#F2B400" stroke-width="1.2"/><line x1="218.00" y1="563.5" x2="223.04" y2="563.5" stroke="#F2B400" stroke-width="1.5"/><circle cx="220.52" cy="572" r="1.5" fill="#F2B400"/><rect x="212.65" y="518.00" width="1.7" height="1.7" fill="#333"/><rect x="215.25" y="518.00" width="1.7" height="1.7" fill="#333"/><rect x="217.85" y="518.00" width="1.7" height="1.7" fill="#333"/><rect x="220.45" y="518.00" width="1.7" height="1.7" fill="#333"/><line x1="233.00" y1="606.2" x2="233.00" y2="608.0" stroke="#555" stroke-width="0.6"/><line x1="229.88" y1="552.5" x2="229.88" y2="557" stroke="#1E6CBE" stroke-width="1.2"/><line x1="229.88" y1="560.5" x2="229.88" y2="563" stroke="#1E6CBE" stroke-width="1.2"/><rect x="227.36" y="557" width="5.04" height="3.50" fill="#fff" stroke="#1E6CBE" stroke-width="1.2"/><line x1="227.36" y1="558.5" x2="232.40" y2="558.5" stroke="#1E6CBE" stroke-width="1.5"/><line x1="236.12" y1="558.75" x2="236.12" y2="561.25" stroke="#F2B400" stroke-width="1.2"/><line x1="236.12" y1="565.5" x2="236.12" y2="568.75" stroke="#F2B400" stroke-width="1.2"/><rect x="233.60" y="561.25" width="5.04" height="4.25" fill="#fff" stroke="#F2B400" stroke-width="1.2"/><line x1="233.60" y1="563.5" x2="238.64" y2="563.5" stroke="#F2B400" stroke-width="1.5"/><circle cx="236.12" cy="556.25" r="1.5" fill="#F2B400"/><circle cx="236.12" cy="571.25" r="1.5" fill="#F2B400"/><rect x="228.25" y="518.00" width="1.7" height="1.7" fill="#333"/><rect x="230.85" y="518.00" width="1.7" height="1.7" fill="#333"/><rect x="233.45" y="518.00" width="1.7" height="1.7" fill="#333"/><rect x="236.05" y="518.00" width="1.7" height="1.7" fill="#333"/><line x1="248.60" y1="606.2" x2="248.60" y2="608.0" stroke="#555" stroke-width="0.6"/><line x1="245.48" y1="562" x2="245.48" y2="567" stroke="#1E6CBE" stroke-width="1.2"/><line x1="245.48" y1="573" x2="245.48" y2="579.5" stroke="#1E6CBE" stroke-width="1.2"/><rect x="242.96" y="567" width="5.04" height="6.00" fill="#fff" stroke="#1E6CBE" stroke-width="1.2"/><line x1="242.96" y1="570" x2="248.00" y2="570" stroke="#1E6CBE" stroke-width="1.5"/><line x1="251.72" y1="565" x2="251.72" y2="569.5" stroke="#F2B400" stroke-width="1.2"/><line x1="251.72" y1="574.5" x2="251.72" y2="579.5" stroke="#F2B400" stroke-width="1.2"/><rect x="249.20" y="569.5" width="5.04" height="5.00" fill="#fff" stroke="#F2B400" stroke-width="1.2"/><line x1="249.20" y1="572" x2="254.24" y2="572" stroke="#F2B400" stroke-width="1.5"/><rect x="247.75" y="518.00" width="1.7" height="1.7" fill="#333"/><line x1="264.20" y1="606.2" x2="264.20" y2="608.0" stroke="#555" stroke-width="0.6"/><line x1="261.08" y1="550.5" x2="261.08" y2="555.5" stroke="#1E6CBE" stroke-width="1.2"/><line x1="261.08" y1="562" x2="261.08" y2="568.75" stroke="#1E6CBE" stroke-width="1.2"/><rect x="258.56" y="555.5" width="5.04" height="6.50" fill="#fff" stroke="#1E6CBE" stroke-width="1.2"/><line x1="258.56" y1="558.5" x2="263.60" y2="558.5" stroke="#1E6CBE" stroke-width="1.5"/><line x1="267.32" y1="550.5" x2="267.32" y2="556.25" stroke="#F2B400" stroke-width="1.2"/><line x1="267.32" y1="562" x2="267.32" y2="565" stroke="#F2B400" stroke-width="1.2"/><rect x="264.80" y="556.25" width="5.04" height="5.75" fill="#fff" stroke="#F2B400" stroke-width="1.2"/><line x1="264.80" y1="559" x2="269.84" y2="559" stroke="#F2B400" stroke-width="1.5"/><circle cx="267.32" cy="568.75" r="1.5" fill="#F2B400"/><text x="261.10" y="522.00" font-size="7.6" font-family="Liberation Sans, sans-serif" fill="#1a1a1a" textLength="7" lengthAdjust="spacingAndGlyphs">ns</text><line x1="279.80" y1="606.2" x2="279.80" y2="608.0" stroke="#555" stroke-width="0.6"/><line x1="276.68" y1="548" x2="276.68" y2="552" stroke="#1E6CBE" stroke-width="1.2"/><line x1="276.68" y1="556.25" x2="276.68" y2="558.75" stroke="#1E6CBE" stroke-width="1.2"/><rect x="274.16" y="552" width="5.04" height="4.25" fill="#fff" stroke="#1E6CBE" stroke-width="1.2"/><line x1="274.16" y1="554" x2="279.20" y2="554" stroke="#1E6CBE" stroke-width="1.5"/><line x1="282.92" y1="553" x2="282.92" y2="555.5" stroke="#F2B400" stroke-width="1.2"/><line x1="282.92" y1="560" x2="282.92" y2="563" stroke="#F2B400" stroke-width="1.2"/><rect x="280.40" y="555.5" width="5.04" height="4.50" fill="#fff" stroke="#F2B400" stroke-width="1.2"/><line x1="280.40" y1="557.5" x2="285.44" y2="557.5" stroke="#F2B400" stroke-width="1.5"/><circle cx="282.92" cy="549.5" r="1.5" fill="#F2B400"/><circle cx="282.92" cy="564.5" r="1.5" fill="#F2B400"/><circle cx="282.92" cy="566.25" r="1.5" fill="#F2B400"/><rect x="275.05" y="518.00" width="1.7" height="1.7" fill="#333"/><rect x="277.65" y="518.00" width="1.7" height="1.7" fill="#333"/><rect x="280.25" y="518.00" width="1.7" height="1.7" fill="#333"/><rect x="282.85" y="518.00" width="1.7" height="1.7" fill="#333"/><line x1="295.40" y1="606.2" x2="295.40" y2="608.0" stroke="#555" stroke-width="0.6"/><line x1="292.28" y1="538.75" x2="292.28" y2="541.25" stroke="#1E6CBE" stroke-width="1.2"/><line x1="292.28" y1="545" x2="292.28" y2="547" stroke="#1E6CBE" stroke-width="1.2"/><rect x="289.76" y="541.25" width="5.04" height="3.75" fill="#fff" stroke="#1E6CBE" stroke-width="1.2"/><line x1="289.76" y1="543" x2="294.80" y2="543" stroke="#1E6CBE" stroke-width="1.5"/><circle cx="292.28" cy="548.75" r="1.5" fill="#1E6CBE"/><circle cx="292.28" cy="550.5" r="1.5" fill="#1E6CBE"/><circle cx="292.28" cy="553" r="1.5" fill="#1E6CBE"/><line x1="298.52" y1="539.5" x2="298.52" y2="542.5" stroke="#F2B400" stroke-width="1.2"/><line x1="298.52" y1="546.25" x2="298.52" y2="549.5" stroke="#F2B400" stroke-width="1.2"/><rect x="296.00" y="542.5" width="5.04" height="3.75" fill="#fff" stroke="#F2B400" stroke-width="1.2"/><line x1="296.00" y1="544.5" x2="301.04" y2="544.5" stroke="#F2B400" stroke-width="1.5"/><text x="292.30" y="522.00" font-size="7.6" font-family="Liberation Sans, sans-serif" fill="#1a1a1a" textLength="7" lengthAdjust="spacingAndGlyphs">ns</text><line x1="311.00" y1="606.2" x2="311.00" y2="608.0" stroke="#555" stroke-width="0.6"/><line x1="307.88" y1="533.75" x2="307.88" y2="537.5" stroke="#1E6CBE" stroke-width="1.2"/><line x1="307.88" y1="541.25" x2="307.88" y2="544.5" stroke="#1E6CBE" stroke-width="1.2"/><rect x="305.36" y="537.5" width="5.04" height="3.75" fill="#fff" stroke="#1E6CBE" stroke-width="1.2"/><line x1="305.36" y1="539.5" x2="310.40" y2="539.5" stroke="#1E6CBE" stroke-width="1.5"/><circle cx="307.88" cy="550" r="1.5" fill="#1E6CBE"/><line x1="314.12" y1="536.25" x2="314.12" y2="538.75" stroke="#F2B400" stroke-width="1.2"/><line x1="314.12" y1="543" x2="314.12" y2="546.25" stroke="#F2B400" stroke-width="1.2"/><rect x="311.60" y="538.75" width="5.04" height="4.25" fill="#fff" stroke="#F2B400" stroke-width="1.2"/><line x1="311.60" y1="541" x2="316.64" y2="541" stroke="#F2B400" stroke-width="1.5"/><circle cx="314.12" cy="550" r="1.5" fill="#F2B400"/><rect x="310.15" y="518.00" width="1.7" height="1.7" fill="#333"/><line x1="326.60" y1="606.2" x2="326.60" y2="608.0" stroke="#555" stroke-width="0.6"/><line x1="323.48" y1="563.75" x2="323.48" y2="572" stroke="#1E6CBE" stroke-width="1.2"/><line x1="323.48" y1="578" x2="323.48" y2="583" stroke="#1E6CBE" stroke-width="1.2"/><rect x="320.96" y="572" width="5.04" height="6.00" fill="#fff" stroke="#1E6CBE" stroke-width="1.2"/><line x1="320.96" y1="575" x2="326.00" y2="575" stroke="#1E6CBE" stroke-width="1.5"/><line x1="329.72" y1="563.75" x2="329.72" y2="573" stroke="#F2B400" stroke-width="1.2"/><line x1="329.72" y1="580.5" x2="329.72" y2="585.5" stroke="#F2B400" stroke-width="1.2"/><rect x="327.20" y="573" width="5.04" height="7.50" fill="#fff" stroke="#F2B400" stroke-width="1.2"/><line x1="327.20" y1="577" x2="332.24" y2="577" stroke="#F2B400" stroke-width="1.5"/><rect x="323.15" y="518.00" width="1.7" height="1.7" fill="#333"/><rect x="325.75" y="518.00" width="1.7" height="1.7" fill="#333"/><rect x="328.35" y="518.00" width="1.7" height="1.7" fill="#333"/><line x1="342.20" y1="606.2" x2="342.20" y2="608.0" stroke="#555" stroke-width="0.6"/><line x1="339.08" y1="536.25" x2="339.08" y2="538.75" stroke="#1E6CBE" stroke-width="1.2"/><line x1="339.08" y1="542" x2="339.08" y2="543" stroke="#1E6CBE" stroke-width="1.2"/><rect x="336.56" y="538.75" width="5.04" height="3.25" fill="#fff" stroke="#1E6CBE" stroke-width="1.2"/><line x1="336.56" y1="540.5" x2="341.60" y2="540.5" stroke="#1E6CBE" stroke-width="1.5"/><line x1="345.32" y1="537.5" x2="345.32" y2="539.5" stroke="#F2B400" stroke-width="1.2"/><line x1="345.32" y1="543" x2="345.32" y2="545.5" stroke="#F2B400" stroke-width="1.2"/><rect x="342.80" y="539.5" width="5.04" height="3.50" fill="#fff" stroke="#F2B400" stroke-width="1.2"/><line x1="342.80" y1="541.25" x2="347.84" y2="541.25" stroke="#F2B400" stroke-width="1.5"/><rect x="340.05" y="518.00" width="1.7" height="1.7" fill="#333"/><rect x="342.65" y="518.00" width="1.7" height="1.7" fill="#333"/><line x1="357.80" y1="606.2" x2="357.80" y2="608.0" stroke="#555" stroke-width="0.6"/><line x1="354.68" y1="556.25" x2="354.68" y2="562" stroke="#1E6CBE" stroke-width="1.2"/><line x1="354.68" y1="567.5" x2="354.68" y2="573" stroke="#1E6CBE" stroke-width="1.2"/><rect x="352.16" y="562" width="5.04" height="5.50" fill="#fff" stroke="#1E6CBE" stroke-width="1.2"/><line x1="352.16" y1="565" x2="357.20" y2="565" stroke="#1E6CBE" stroke-width="1.5"/><line x1="360.92" y1="564.5" x2="360.92" y2="568" stroke="#F2B400" stroke-width="1.2"/><line x1="360.92" y1="573" x2="360.92" y2="579.5" stroke="#F2B400" stroke-width="1.2"/><rect x="358.40" y="568" width="5.04" height="5.00" fill="#fff" stroke="#F2B400" stroke-width="1.2"/><line x1="358.40" y1="570.5" x2="363.44" y2="570.5" stroke="#F2B400" stroke-width="1.5"/><rect x="353.05" y="518.00" width="1.7" height="1.7" fill="#333"/><rect x="355.65" y="518.00" width="1.7" height="1.7" fill="#333"/><rect x="358.25" y="518.00" width="1.7" height="1.7" fill="#333"/><rect x="360.85" y="518.00" width="1.7" height="1.7" fill="#333"/><line x1="373.40" y1="606.2" x2="373.40" y2="608.0" stroke="#555" stroke-width="0.6"/><line x1="370.28" y1="561.25" x2="370.28" y2="567" stroke="#1E6CBE" stroke-width="1.2"/><line x1="370.28" y1="572" x2="370.28" y2="576.25" stroke="#1E6CBE" stroke-width="1.2"/><rect x="367.76" y="567" width="5.04" height="5.00" fill="#fff" stroke="#1E6CBE" stroke-width="1.2"/><line x1="367.76" y1="569.5" x2="372.80" y2="569.5" stroke="#1E6CBE" stroke-width="1.5"/><line x1="376.52" y1="560.5" x2="376.52" y2="569.5" stroke="#F2B400" stroke-width="1.2"/><line x1="376.52" y1="577" x2="376.52" y2="583" stroke="#F2B400" stroke-width="1.2"/><rect x="374.00" y="569.5" width="5.04" height="7.50" fill="#fff" stroke="#F2B400" stroke-width="1.2"/><line x1="374.00" y1="573" x2="379.04" y2="573" stroke="#F2B400" stroke-width="1.5"/><rect x="368.65" y="518.00" width="1.7" height="1.7" fill="#333"/><rect x="371.25" y="518.00" width="1.7" height="1.7" fill="#333"/><rect x="373.85" y="518.00" width="1.7" height="1.7" fill="#333"/><rect x="376.45" y="518.00" width="1.7" height="1.7" fill="#333"/><line x1="389.00" y1="606.2" x2="389.00" y2="608.0" stroke="#555" stroke-width="0.6"/><line x1="385.88" y1="532.5" x2="385.88" y2="539.5" stroke="#1E6CBE" stroke-width="1.2"/><line x1="385.88" y1="547" x2="385.88" y2="553.75" stroke="#1E6CBE" stroke-width="1.2"/><rect x="383.36" y="539.5" width="5.04" height="7.50" fill="#fff" stroke="#1E6CBE" stroke-width="1.2"/><line x1="383.36" y1="543" x2="388.40" y2="543" stroke="#1E6CBE" stroke-width="1.5"/><circle cx="385.88" cy="527" r="1.5" fill="#1E6CBE"/><circle cx="385.88" cy="558" r="1.5" fill="#1E6CBE"/><line x1="392.12" y1="542.5" x2="392.12" y2="549.5" stroke="#F2B400" stroke-width="1.2"/><line x1="392.12" y1="556.25" x2="392.12" y2="563.75" stroke="#F2B400" stroke-width="1.2"/><rect x="389.60" y="549.5" width="5.04" height="6.75" fill="#fff" stroke="#F2B400" stroke-width="1.2"/><line x1="389.60" y1="552.5" x2="394.64" y2="552.5" stroke="#F2B400" stroke-width="1.5"/><circle cx="392.12" cy="569.5" r="1.5" fill="#F2B400"/><rect x="384.25" y="518.00" width="1.7" height="1.7" fill="#333"/><rect x="386.85" y="518.00" width="1.7" height="1.7" fill="#333"/><rect x="389.45" y="518.00" width="1.7" height="1.7" fill="#333"/><rect x="392.05" y="518.00" width="1.7" height="1.7" fill="#333"/><line x1="404.60" y1="606.2" x2="404.60" y2="608.0" stroke="#555" stroke-width="0.6"/><line x1="401.48" y1="533.75" x2="401.48" y2="537" stroke="#1E6CBE" stroke-width="1.2"/><line x1="401.48" y1="540.5" x2="401.48" y2="542.5" stroke="#1E6CBE" stroke-width="1.2"/><rect x="398.96" y="537" width="5.04" height="3.50" fill="#fff" stroke="#1E6CBE" stroke-width="1.2"/><line x1="398.96" y1="538.5" x2="404.00" y2="538.5" stroke="#1E6CBE" stroke-width="1.5"/><circle cx="401.48" cy="547.5" r="1.5" fill="#1E6CBE"/><line x1="407.72" y1="535" x2="407.72" y2="537.5" stroke="#F2B400" stroke-width="1.2"/><line x1="407.72" y1="541.25" x2="407.72" y2="545" stroke="#F2B400" stroke-width="1.2"/><rect x="405.20" y="537.5" width="5.04" height="3.75" fill="#fff" stroke="#F2B400" stroke-width="1.2"/><line x1="405.20" y1="539.5" x2="410.24" y2="539.5" stroke="#F2B400" stroke-width="1.5"/><rect x="401.15" y="518.00" width="1.7" height="1.7" fill="#333"/><rect x="403.75" y="518.00" width="1.7" height="1.7" fill="#333"/><rect x="406.35" y="518.00" width="1.7" height="1.7" fill="#333"/><line x1="420.20" y1="606.2" x2="420.20" y2="608.0" stroke="#555" stroke-width="0.6"/><line x1="417.08" y1="540" x2="417.08" y2="542.5" stroke="#1E6CBE" stroke-width="1.2"/><line x1="417.08" y1="546.25" x2="417.08" y2="550" stroke="#1E6CBE" stroke-width="1.2"/><rect x="414.56" y="542.5" width="5.04" height="3.75" fill="#fff" stroke="#1E6CBE" stroke-width="1.2"/><line x1="414.56" y1="544.5" x2="419.60" y2="544.5" stroke="#1E6CBE" stroke-width="1.5"/><circle cx="417.08" cy="537.5" r="1.5" fill="#1E6CBE"/><circle cx="417.08" cy="552.5" r="1.5" fill="#1E6CBE"/><line x1="423.32" y1="543" x2="423.32" y2="546.25" stroke="#F2B400" stroke-width="1.2"/><line x1="423.32" y1="550.5" x2="423.32" y2="553.75" stroke="#F2B400" stroke-width="1.2"/><rect x="420.80" y="546.25" width="5.04" height="4.25" fill="#fff" stroke="#F2B400" stroke-width="1.2"/><line x1="420.80" y1="548.5" x2="425.84" y2="548.5" stroke="#F2B400" stroke-width="1.5"/><rect x="415.45" y="518.00" width="1.7" height="1.7" fill="#333"/><rect x="418.05" y="518.00" width="1.7" height="1.7" fill="#333"/><rect x="420.65" y="518.00" width="1.7" height="1.7" fill="#333"/><rect x="423.25" y="518.00" width="1.7" height="1.7" fill="#333"/><line x1="435.80" y1="606.2" x2="435.80" y2="608.0" stroke="#555" stroke-width="0.6"/><line x1="432.68" y1="556.25" x2="432.68" y2="561.25" stroke="#1E6CBE" stroke-width="1.2"/><line x1="432.68" y1="566.25" x2="432.68" y2="570.5" stroke="#1E6CBE" stroke-width="1.2"/><rect x="430.16" y="561.25" width="5.04" height="5.00" fill="#fff" stroke="#1E6CBE" stroke-width="1.2"/><line x1="430.16" y1="563.5" x2="435.20" y2="563.5" stroke="#1E6CBE" stroke-width="1.5"/><circle cx="432.68" cy="574.5" r="1.5" fill="#1E6CBE"/><line x1="438.92" y1="562" x2="438.92" y2="564.5" stroke="#F2B400" stroke-width="1.2"/><line x1="438.92" y1="568.75" x2="438.92" y2="571.25" stroke="#F2B400" stroke-width="1.2"/><rect x="436.40" y="564.5" width="5.04" height="4.25" fill="#fff" stroke="#F2B400" stroke-width="1.2"/><line x1="436.40" y1="566.5" x2="441.44" y2="566.5" stroke="#F2B400" stroke-width="1.5"/><rect x="431.05" y="518.00" width="1.7" height="1.7" fill="#333"/><rect x="433.65" y="518.00" width="1.7" height="1.7" fill="#333"/><rect x="436.25" y="518.00" width="1.7" height="1.7" fill="#333"/><rect x="438.85" y="518.00" width="1.7" height="1.7" fill="#333"/><line x1="451.40" y1="606.2" x2="451.40" y2="608.0" stroke="#555" stroke-width="0.6"/><line x1="448.28" y1="573" x2="448.28" y2="583.75" stroke="#1E6CBE" stroke-width="1.2"/><line x1="448.28" y1="592" x2="448.28" y2="599.5" stroke="#1E6CBE" stroke-width="1.2"/><rect x="445.76" y="583.75" width="5.04" height="8.25" fill="#fff" stroke="#1E6CBE" stroke-width="1.2"/><line x1="445.76" y1="588" x2="450.80" y2="588" stroke="#1E6CBE" stroke-width="1.5"/><circle cx="448.28" cy="570.5" r="1.5" fill="#1E6CBE"/><line x1="454.52" y1="579.5" x2="454.52" y2="587" stroke="#F2B400" stroke-width="1.2"/><line x1="454.52" y1="593.75" x2="454.52" y2="601.25" stroke="#F2B400" stroke-width="1.2"/><rect x="452.00" y="587" width="5.04" height="6.75" fill="#fff" stroke="#F2B400" stroke-width="1.2"/><line x1="452.00" y1="590.5" x2="457.04" y2="590.5" stroke="#F2B400" stroke-width="1.5"/><rect x="447.95" y="518.00" width="1.7" height="1.7" fill="#333"/><rect x="450.55" y="518.00" width="1.7" height="1.7" fill="#333"/><rect x="453.15" y="518.00" width="1.7" height="1.7" fill="#333"/><line x1="467.00" y1="606.2" x2="467.00" y2="608.0" stroke="#555" stroke-width="0.6"/><line x1="463.88" y1="535.5" x2="463.88" y2="537" stroke="#1E6CBE" stroke-width="1.2"/><line x1="463.88" y1="540.5" x2="463.88" y2="544.5" stroke="#1E6CBE" stroke-width="1.2"/><rect x="461.36" y="537" width="5.04" height="3.50" fill="#fff" stroke="#1E6CBE" stroke-width="1.2"/><line x1="461.36" y1="538.75" x2="466.40" y2="538.75" stroke="#1E6CBE" stroke-width="1.5"/><line x1="470.12" y1="533.75" x2="470.12" y2="537.5" stroke="#F2B400" stroke-width="1.2"/><line x1="470.12" y1="542" x2="470.12" y2="546.25" stroke="#F2B400" stroke-width="1.2"/><rect x="467.60" y="537.5" width="5.04" height="4.50" fill="#fff" stroke="#F2B400" stroke-width="1.2"/><line x1="467.60" y1="540" x2="472.64" y2="540" stroke="#F2B400" stroke-width="1.5"/><rect x="462.25" y="518.00" width="1.7" height="1.7" fill="#333"/><rect x="464.85" y="518.00" width="1.7" height="1.7" fill="#333"/><rect x="467.45" y="518.00" width="1.7" height="1.7" fill="#333"/><rect x="470.05" y="518.00" width="1.7" height="1.7" fill="#333"/><text x="486.7" y="553" font-size="6.8" font-family="Liberation Serif, serif" fill="#222">category</text><line x1="492.00" y1="557.30" x2="492.00" y2="567.10" stroke="#1E6CBE" stroke-width="1.1"/><rect x="487.80" y="558.90" width="8.4" height="6.6" rx="0.6" fill="#fff" stroke="#1E6CBE" stroke-width="1.2"/><line x1="487.80" y1="562.20" x2="496.20" y2="562.20" stroke="#1E6CBE" stroke-width="1.3"/><text x="501.0" y="564.40" font-size="6.1" font-family="Liberation Serif, serif" fill="#222">IS3A</text><line x1="492.00" y1="567.70" x2="492.00" y2="577.50" stroke="#F2B400" stroke-width="1.1"/><rect x="487.80" y="569.30" width="8.4" height="6.6" rx="0.6" fill="#fff" stroke="#F2B400" stroke-width="1.2"/><line x1="487.80" y1="572.60" x2="496.20" y2="572.60" stroke="#F2B400" stroke-width="1.3"/><text x="501.0" y="574.80" font-size="6.1" font-family="Liberation Serif, serif" fill="#222">IS3B</text><text x="48.80" y="612.5" font-size="7.3" font-family="Liberation Serif, serif" text-anchor="end" fill="#111" transform="rotate(-45 48.80 612.5)">Activated B cell</text><text x="64.40" y="612.5" font-size="7.3" font-family="Liberation Serif, serif" text-anchor="end" fill="#111" transform="rotate(-45 64.40 612.5)">Activated CD4 T cell</text><text x="80.00" y="612.5" font-size="7.3" font-family="Liberation Serif, serif" text-anchor="end" fill="#111" transform="rotate(-45 80.00 612.5)">Activated CD8 T cell</text><text x="95.60" y="612.5" font-size="7.3" font-family="Liberation Serif, serif" text-anchor="end" fill="#111" transform="rotate(-45 95.60 612.5)">Central memory CD4 T cell</text><text x="111.20" y="612.5" font-size="7.3" font-family="Liberation Serif, serif" text-anchor="end" fill="#111" transform="rotate(-45 111.20 612.5)">Central memory CD8 T cell</text><text x="126.80" y="612.5" font-size="7.3" font-family="Liberation Serif, serif" text-anchor="end" fill="#111" transform="rotate(-45 126.80 612.5)">Effector memeory CD4 T cell</text><text x="142.40" y="612.5" font-size="7.3" font-family="Liberation Serif, serif" text-anchor="end" fill="#111" transform="rotate(-45 142.40 612.5)">Effector memeory CD8 T cell</text><text x="158.00" y="612.5" font-size="7.3" font-family="Liberation Serif, serif" text-anchor="end" fill="#111" transform="rotate(-45 158.00 612.5)">Gamma delta T cell</text><text x="173.60" y="612.5" font-size="7.3" font-family="Liberation Serif, serif" text-anchor="end" fill="#111" transform="rotate(-45 173.60 612.5)">Immature &#160;B cell</text><text x="189.20" y="612.5" font-size="7.3" font-family="Liberation Serif, serif" text-anchor="end" fill="#111" transform="rotate(-45 189.20 612.5)">Memory B cell</text><text x="204.80" y="612.5" font-size="7.3" font-family="Liberation Serif, serif" text-anchor="end" fill="#111" transform="rotate(-45 204.80 612.5)">Regulatory T cell</text><text x="220.40" y="612.5" font-size="7.3" font-family="Liberation Serif, serif" text-anchor="end" fill="#111" transform="rotate(-45 220.40 612.5)">T follicular helper cell</text><text x="236.00" y="612.5" font-size="7.3" font-family="Liberation Serif, serif" text-anchor="end" fill="#111" transform="rotate(-45 236.00 612.5)">Type 1 T helper cell</text><text x="251.60" y="612.5" font-size="7.3" font-family="Liberation Serif, serif" text-anchor="end" fill="#111" transform="rotate(-45 251.60 612.5)">Type 17 T helper cell</text><text x="267.20" y="612.5" font-size="7.3" font-family="Liberation Serif, serif" text-anchor="end" fill="#111" transform="rotate(-45 267.20 612.5)">Type 2 T helper cell</text><text x="282.80" y="612.5" font-size="7.3" font-family="Liberation Serif, serif" text-anchor="end" fill="#111" transform="rotate(-45 282.80 612.5)">Activated dendritic cell</text><text x="298.40" y="612.5" font-size="7.3" font-family="Liberation Serif, serif" text-anchor="end" fill="#111" transform="rotate(-45 298.40 612.5)">CD56bright natural killer cell</text><text x="314.00" y="612.5" font-size="7.3" font-family="Liberation Serif, serif" text-anchor="end" fill="#111" transform="rotate(-45 314.00 612.5)">CD56dim natural killer cell</text><text x="329.60" y="612.5" font-size="7.3" font-family="Liberation Serif, serif" text-anchor="end" fill="#111" transform="rotate(-45 329.60 612.5)">Eosinophil</text><text x="345.20" y="612.5" font-size="7.3" font-family="Liberation Serif, serif" text-anchor="end" fill="#111" transform="rotate(-45 345.20 612.5)">Immature dendritic cell</text><text x="360.80" y="612.5" font-size="7.3" font-family="Liberation Serif, serif" text-anchor="end" fill="#111" transform="rotate(-45 360.80 612.5)">Macrophage</text><text x="376.40" y="612.5" font-size="7.3" font-family="Liberation Serif, serif" text-anchor="end" fill="#111" transform="rotate(-45 376.40 612.5)">Mast cell</text><text x="392.00" y="612.5" font-size="7.3" font-family="Liberation Serif, serif" text-anchor="end" fill="#111" transform="rotate(-45 392.00 612.5)">MDSC</text><text x="407.60" y="612.5" font-size="7.3" font-family="Liberation Serif, serif" text-anchor="end" fill="#111" transform="rotate(-45 407.60 612.5)">Monocyte</text><text x="423.20" y="612.5" font-size="7.3" font-family="Liberation Serif, serif" text-anchor="end" fill="#111" transform="rotate(-45 423.20 612.5)">Natural killer cell</text><text x="438.80" y="612.5" font-size="7.3" font-family="Liberation Serif, serif" text-anchor="end" fill="#111" transform="rotate(-45 438.80 612.5)">Natural killer T cell</text><text x="454.40" y="612.5" font-size="7.3" font-family="Liberation Serif, serif" text-anchor="end" fill="#111" transform="rotate(-45 454.40 612.5)">Neutrophil</text><text x="470.00" y="612.5" font-size="7.3" font-family="Liberation Serif, serif" text-anchor="end" fill="#111" transform="rotate(-45 470.00 612.5)">Plasmacytoid dendritic cell</text>
</svg></body></html>
